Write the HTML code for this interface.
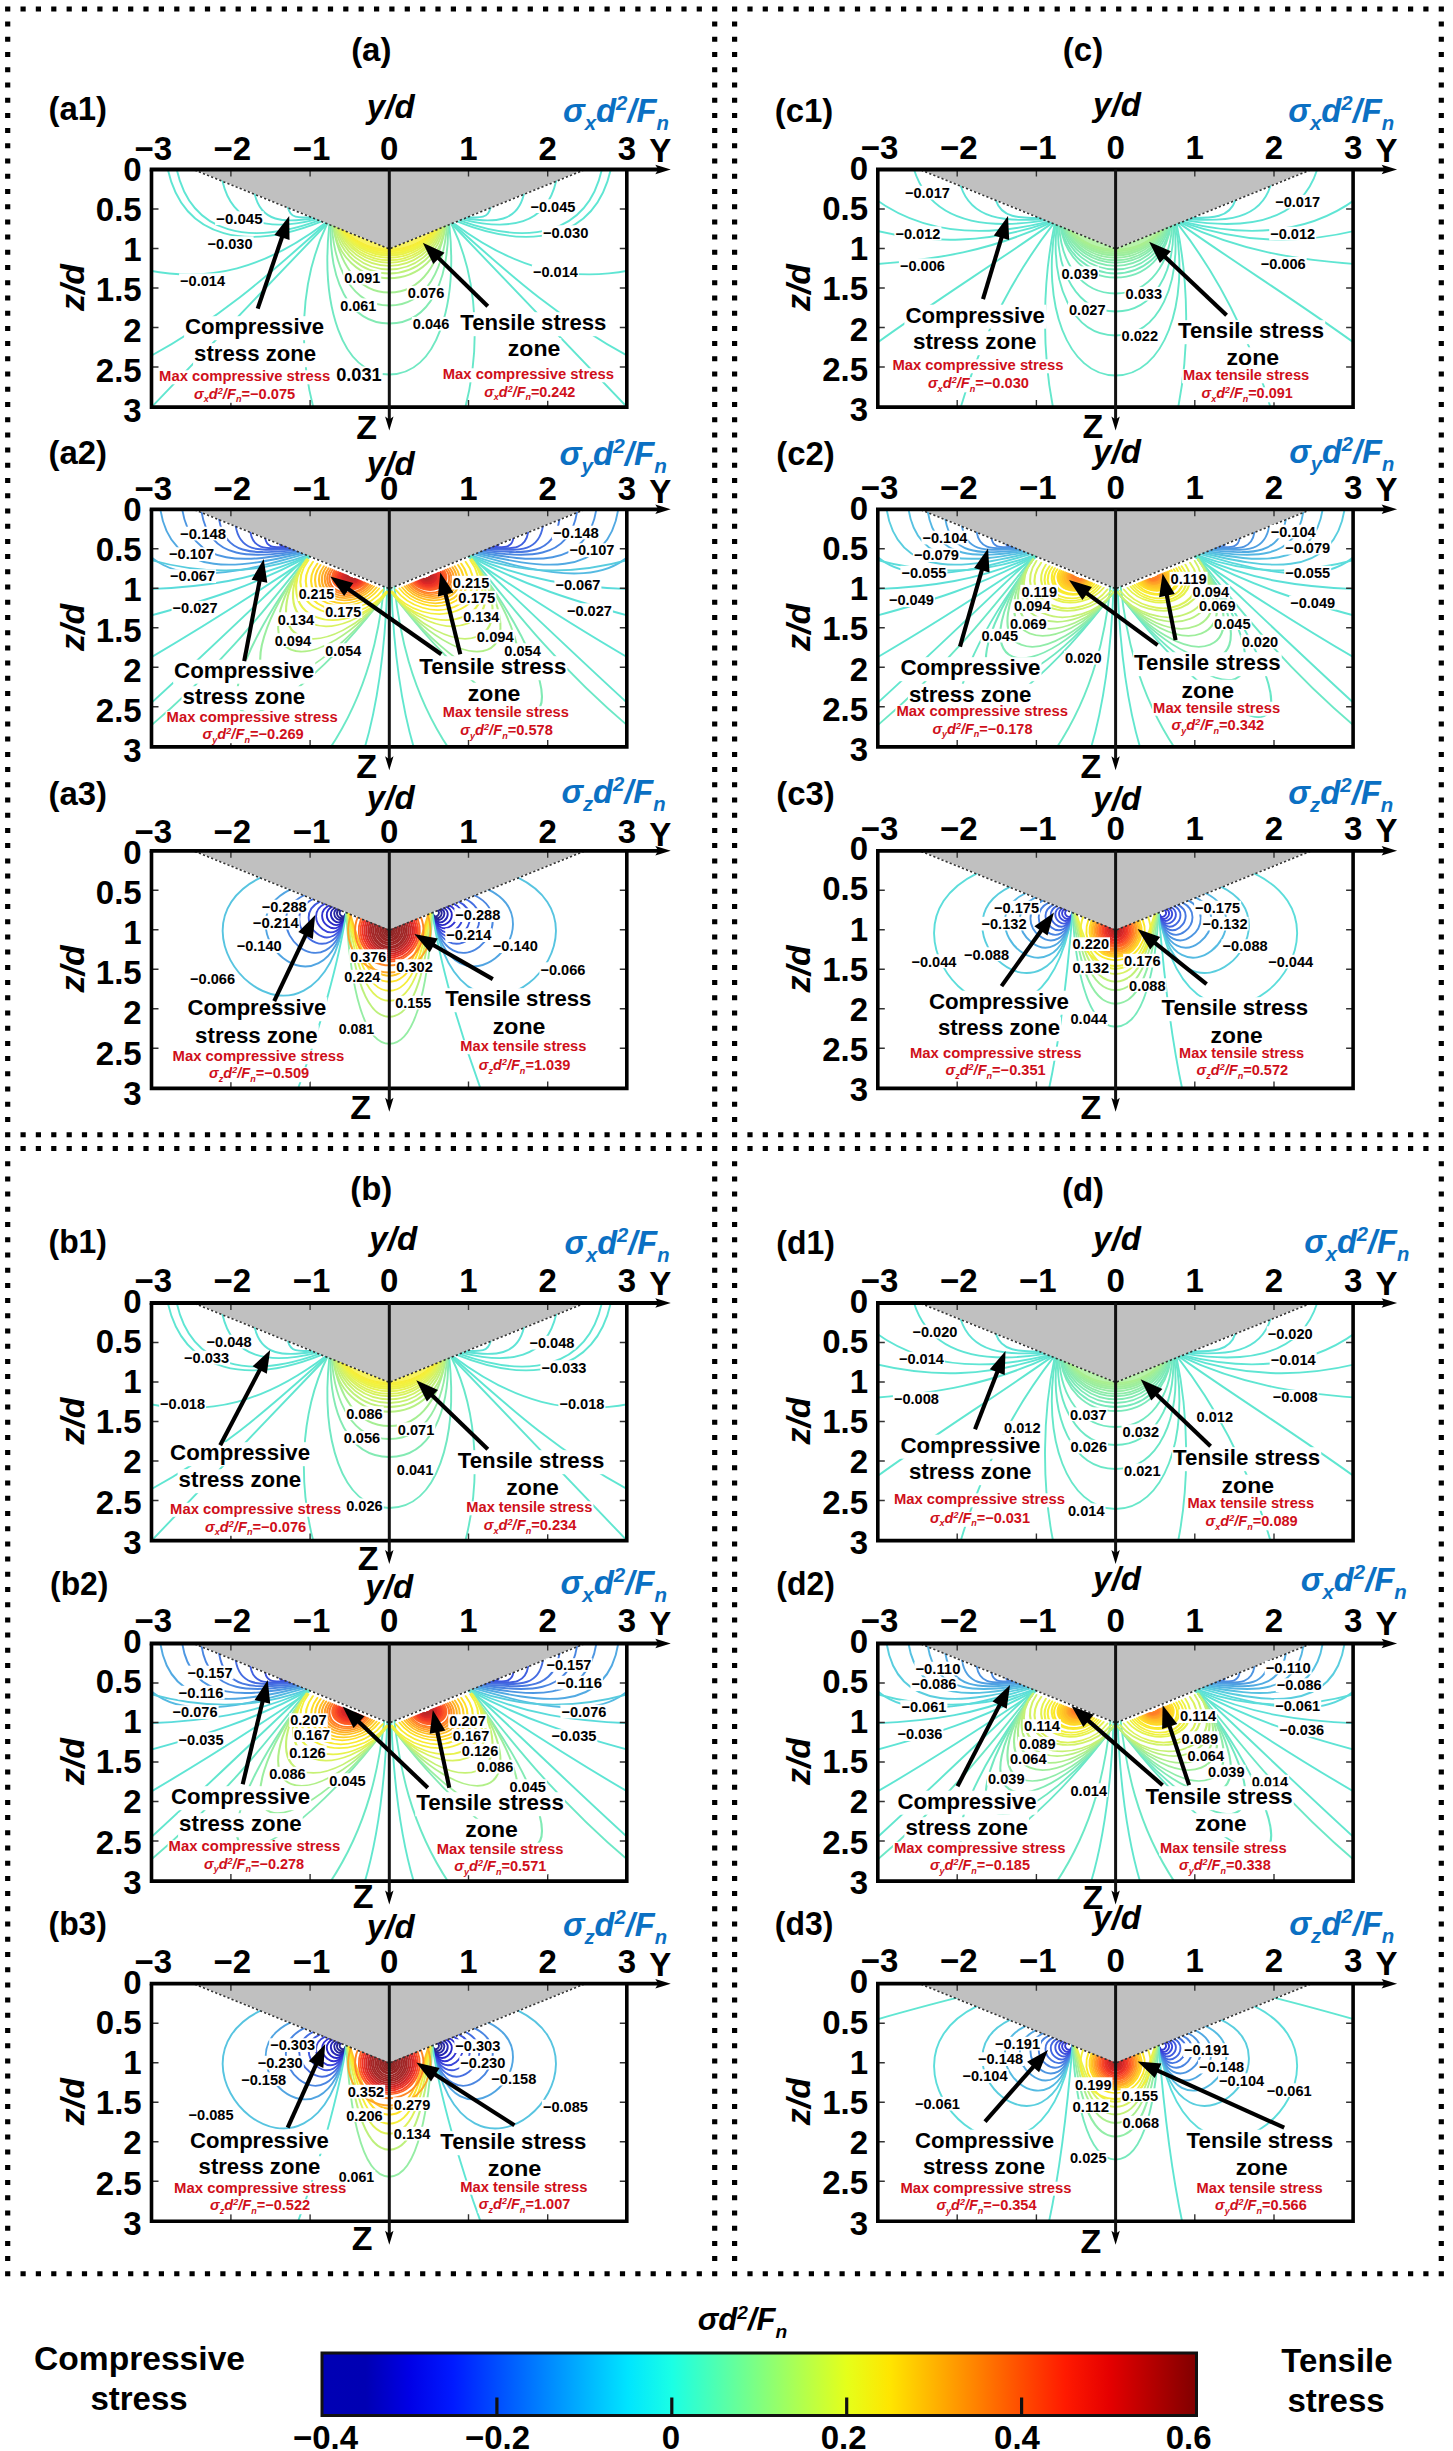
<!DOCTYPE html>
<html><head><meta charset="utf-8"><title>Stress contours</title>
<style>html,body{margin:0;padding:0;background:#fff}svg{display:block}text{font-family:"Liberation Sans",sans-serif;font-weight:bold}</style></head><body>
<svg width="1453" height="2451" viewBox="0 0 1453 2451">
<rect width="1453" height="2451" fill="#fff"/>
<defs><filter id="soft" x="-5%" y="-5%" width="110%" height="110%"><feGaussianBlur stdDeviation="0.55"/></filter><clipPath id="clipP"><rect x="-237.8" y="0" width="475.3" height="237.6"/></clipPath></defs>
<defs><g id="k1ab"><g fill="none" stroke-linecap="round" opacity="0.85"><path d="M-50,59L0,78.8L50,59A60.1,60.1 0 0 1 -50,59z" fill="#f4ec16" stroke="none" opacity="0.8"/><path d="M-78,47.7C-90.1,48.3 -98.8,49.2 -101.3,38.2M78,47.7C90.1,48.3 98.8,49.2 101.3,38.2" stroke="#41ddd0" stroke-width="1.9"/><path d="M-75.4,48.8C-105.7,53.6 -128.2,52.6 -134.6,24.5M75.4,48.8C105.7,53.6 128.2,52.6 134.6,24.5" stroke="#42dfcf" stroke-width="1.9"/><path d="M-72.8,49.8C-120.1,61.6 -156.8,55.9 -166.9,11.3M72.8,49.8C120.1,61.6 156.8,55.9 166.9,11.3" stroke="#42e0cd" stroke-width="1.9"/><path d="M-70.2,50.9C-138.4,75.7 -197.5,66.4 -212.6,0M70.2,50.9C138.4,75.7 197.5,66.4 212.6,0M-64,53.4C-123.7,98.4 -179.2,114 -245,100M64,53.4C123.7,98.4 179.2,114 245,100" stroke="#43e1cc" stroke-width="1.9"/><path d="M-67.6,51.9C-139.9,81.1 -205.3,71.3 -221.5,0M67.6,51.9C139.9,81.1 205.3,71.3 221.5,0" stroke="#43e1cb" stroke-width="1.9"/><path d="M-63,53.8C-123.8,108.5 -172.7,151.6 -245,190M63,53.8C123.8,108.5 172.7,151.6 245,190" stroke="#44e2ca" stroke-width="1.9"/><path d="M-62,54L-240,240M62,54L240,240" stroke="#45e2c8" stroke-width="1.9"/><path d="M-62,54C-119.7,172.4 -60,340 0,340C60,340 119.7,172.4 62,54" stroke="#4de3c0" stroke-width="1.9"/><path d="M-60,55C-68.4,135.3 -48,205 0,205C48,205 68.4,135.3 60,55" stroke="#57e4b8" stroke-width="1.9"/><path d="M-58.8,55.5C-59.7,108.2 -42,154 0,154C42,154 59.7,108.2 58.8,55.5" stroke="#6de7a6" stroke-width="1.9"/><path d="M-57.6,56C-54.7,97.3 -38,136 0,136C38,136 54.7,97.3 57.6,56" stroke="#83ea95" stroke-width="1.9"/><path d="M-56.4,56.5C-50.3,90.8 -34,123 0,123C34,123 50.3,90.8 56.4,56.5" stroke="#97ec81" stroke-width="1.9"/><path d="M-55,57A55.1,55.1 0 0 0 55,57" stroke="#abee6d" stroke-width="1.9"/><path d="M-54,57.4A54.6,54.6 0 0 0 54,57.4" stroke="#b5ef63" stroke-width="1.9"/><path d="M-53,57.8A54.4,54.4 0 0 0 53,57.8" stroke="#beef5a" stroke-width="1.9"/><path d="M-52,58.2A54.5,54.5 0 0 0 52,58.2" stroke="#c7ef51" stroke-width="1.9"/><path d="M-51,58.6A54.9,54.9 0 0 0 51,58.6" stroke="#d1f047" stroke-width="1.9"/><path d="M-50,59A55.2,55.2 0 0 0 50,59" stroke="#d8f03e" stroke-width="1.9"/><path d="M-49,59.4A56,56 0 0 0 49,59.4" stroke="#dff034" stroke-width="1.9"/><path d="M-48,59.9A57.1,57.1 0 0 0 48,59.9" stroke="#e6f02b" stroke-width="1.9"/><path d="M-47,60.3A58.7,58.7 0 0 0 47,60.3" stroke="#edf021" stroke-width="1.9"/><path d="M-46,60.7A60.6,60.6 0 0 0 46,60.7" stroke="#f2ee1a" stroke-width="1.9"/><path d="M-45,61.1A62.9,62.9 0 0 0 45,61.1" stroke="#f5eb14" stroke-width="1.9"/></g></g><g id="k1cd"><g fill="none" stroke-linecap="round" opacity="0.85"><path d="M-50,59L0,78.8L50,59A60.1,60.1 0 0 1 -50,59z" fill="#96ec82" stroke="none" opacity="0.8"/><path d="M-76,48.5C-95.9,48.5 -114.1,48.6 -119.8,30.6M76,48.5C95.9,48.5 114.1,48.6 119.8,30.6" stroke="#41ded0" stroke-width="1.9"/><path d="M-73,49.7C-110.1,52.3 -144.2,50 -154.9,16.2M73,49.7C110.1,52.3 144.2,50 154.9,16.2" stroke="#42dfcf" stroke-width="1.9"/><path d="M-70,50.9C-128.5,60.2 -184.6,53.8 -201.6,0M70,50.9C128.5,60.2 184.6,53.8 201.6,0" stroke="#42e0cd" stroke-width="1.9"/><path d="M-67,52.2C-129.8,67.8 -194,65.9 -245,26M67,52.2C129.8,67.8 194,65.9 245,26" stroke="#43e1cd" stroke-width="1.9"/><path d="M-65.8,52.6C-126.8,73.7 -182.4,75.6 -245,60M65.8,52.6C126.8,73.7 182.4,75.6 245,60" stroke="#43e1cc" stroke-width="1.9"/><path d="M-64.6,53.1C-125,81.3 -178.5,90.3 -245,95M64.6,53.1C125,81.3 178.5,90.3 245,95" stroke="#43e1ca" stroke-width="1.9"/><path d="M-63.4,53.6C-128.3,99.1 -180.9,131.4 -245,178M63.4,53.6C128.3,99.1 180.9,131.4 245,178" stroke="#44e2c8" stroke-width="1.9"/><path d="M-62,54.2C-109.2,114.7 -139.4,183.5 -157,245M62,54.2C109.2,114.7 139.4,183.5 157,245" stroke="#47e2c6" stroke-width="1.9"/><path d="M-61,54.6C-85.6,170.5 -62,330 0,330C62,330 85.6,170.5 61,54.6" stroke="#4ae3c3" stroke-width="1.9"/><path d="M-60,55C-74.1,135 -48,206 0,206C48,206 74.1,135 60,55" stroke="#4de3c0" stroke-width="1.9"/><path d="M-58.8,55.5C-65,114 -44,166 0,166C44,166 65,114 58.8,55.5" stroke="#50e3bd" stroke-width="1.9"/><path d="M-57.6,56C-59.2,101.5 -39,142 0,142C39,142 59.2,101.5 57.6,56" stroke="#53e4bb" stroke-width="1.9"/><path d="M-56.4,56.5C-54.5,92.5 -35,124 0,124C35,124 54.5,92.5 56.4,56.5" stroke="#5ae5b6" stroke-width="1.9"/><path d="M-55.2,56.9C-50.7,85.2 -31,108 0,108C31,108 50.7,85.2 55.2,56.9" stroke="#63e6af" stroke-width="1.9"/><path d="M-54,57.4A54.6,54.6 0 0 0 54,57.4" stroke="#60e5b0" stroke-width="1.9"/><path d="M-53,57.8A54.4,54.4 0 0 0 53,57.8" stroke="#67e6ab" stroke-width="1.9"/><path d="M-52,58.2A54.5,54.5 0 0 0 52,58.2" stroke="#6ee7a5" stroke-width="1.9"/><path d="M-51,58.6A54.9,54.9 0 0 0 51,58.6" stroke="#75e8a0" stroke-width="1.9"/><path d="M-50,59A55.2,55.2 0 0 0 50,59" stroke="#7ce99b" stroke-width="1.9"/><path d="M-49,59.4A56,56 0 0 0 49,59.4" stroke="#83ea95" stroke-width="1.9"/><path d="M-48,59.9A57.1,57.1 0 0 0 48,59.9" stroke="#89eb8f" stroke-width="1.9"/><path d="M-47,60.3A58.7,58.7 0 0 0 47,60.3" stroke="#90eb89" stroke-width="1.9"/><path d="M-46,60.7A60.6,60.6 0 0 0 46,60.7" stroke="#96ec82" stroke-width="1.9"/><path d="M-45,61.1A62.9,62.9 0 0 0 45,61.1" stroke="#9ced7c" stroke-width="1.9"/></g></g><g id="k2ab"><g fill="none" stroke-linecap="round" opacity="0.85"><path d="M-104,37.2C-106.3,36.8 -108.9,37.8 -109.4,34.9M104,37.2C106.3,36.8 108.9,37.8 109.4,34.9" stroke="#1729d5" stroke-width="1.9"/><path d="M-101.6,38.1C-111.3,36.9 -122.2,40.9 -124.1,28.9M101.6,38.1C111.3,36.9 122.2,40.9 124.1,28.9" stroke="#1b35d8" stroke-width="1.9"/><path d="M-99.2,39.1C-116.3,37.9 -135.5,44 -138.9,22.8M99.2,39.1C116.3,37.9 135.5,44 138.9,22.8" stroke="#1f43da" stroke-width="1.9"/><path d="M-96.8,40.1C-121.4,39.7 -148.7,47.1 -153.6,16.8M96.8,40.1C121.4,39.7 148.7,47.1 153.6,16.8" stroke="#2452dc" stroke-width="1.9"/><path d="M-94.4,41.1C-127.1,42.8 -163.7,50.4 -170.2,10M94.4,41.1C127.1,42.8 163.7,50.4 170.2,10" stroke="#2862dc" stroke-width="1.9"/><path d="M-92,42C-133.1,47.1 -179.5,53.8 -187.7,2.8M92,42C133.1,47.1 179.5,53.8 187.7,2.8" stroke="#2c72dc" stroke-width="1.9"/><path d="M-89.6,43C-138.9,51.7 -197.1,61.8 -207.1,0M89.6,43C138.9,51.7 197.1,61.8 207.1,0" stroke="#3085dd" stroke-width="1.9"/><path d="M-87.2,44C-145.1,57.3 -217.2,73.3 -229,0M87.2,44C145.1,57.3 217.2,73.3 229,0" stroke="#349add" stroke-width="1.9"/><path d="M-84.8,44.9C-155.1,65.1 -247.4,90.2 -262,0M84.8,44.9C155.1,65.1 247.4,90.2 262,0" stroke="#38aedd" stroke-width="1.9"/><path d="M-82,46.1C-137.2,66.2 -188.6,65.2 -245,49M82,46.1C137.2,66.2 188.6,65.2 245,49" stroke="#3bc3d9" stroke-width="1.9"/><path d="M-81,46.5C-136.1,71 -184.8,77.9 -245,80M81,46.5C136.1,71 184.8,77.9 245,80" stroke="#3ed5d5" stroke-width="1.9"/><path d="M-80,46.9C-135.9,76.6 -183.8,91.6 -245,108M80,46.9C135.9,76.6 183.8,91.6 245,108" stroke="#41dcd1" stroke-width="1.9"/><path d="M-79,47.3C-137.6,86.8 -183.8,116.7 -245,152M79,47.3C137.6,86.8 183.8,116.7 245,152" stroke="#43e1cd" stroke-width="1.9"/><path d="M-81,46C-130,92 -190,150 -245,200M81,46C130,92 190,150 245,200M-2,78C-4,130 -10,190 -25,240M2,78C4,130 10,190 25,240" stroke="#47e2c6" stroke-width="1.9"/><path d="M-81,46C-120,95 -170,160 -245,222M81,46C120,95 170,160 245,222M-5,77C-10,120 -20,180 -60,240M5,77C10,120 20,180 60,240" stroke="#52e4bc" stroke-width="1.9"/><g transform="matrix(0.9278,0.3730,-0.6235,0.8271,-38.0,68.0)"><path d="M-18.3,0A16.8,15.5 0 0 0 15.2,0z" fill="#ff5100" stroke="none" opacity="0.75"/><path d="M-16.4,0A15,13.7 0 0 0 13.7,0z" fill="#fd3e00" stroke="none" opacity="0.75"/><path d="M-14.5,0A13.3,11.9 0 0 0 12.1,0z" fill="#f72d00" stroke="none" opacity="0.75"/><path d="M-12.8,0A11.8,10.3 0 0 0 10.8,0z" fill="#f21c00" stroke="none" opacity="0.75"/><path d="M-11.5,0A10.6,9 0 0 0 9.7,0z" fill="#eb1100" stroke="none" opacity="0.75"/><path d="M-10.1,0A9.3,7.7 0 0 0 8.5,0z" fill="#e10c00" stroke="none" opacity="0.75"/><path d="M-8.7,0A8,6.4 0 0 0 7.4,0z" fill="#d60700" stroke="none" opacity="0.75"/><path d="M-7.3,0A6.8,5 0 0 0 6.3,0z" fill="#cc0200" stroke="none" opacity="0.75"/><path d="M-6.1,0A5.7,3.9 0 0 0 5.3,0z" fill="#c20000" stroke="none" opacity="0.75"/><path d="M-4.9,0A4.6,2.8 0 0 0 4.4,0z" fill="#b80000" stroke="none" opacity="0.75"/><path d="M-3.8,0A3.6,1.7 0 0 0 3.4,0z" fill="#ae0000" stroke="none" opacity="0.75"/><path d="M-48,0A43.5,165 0 0 0 39,0" stroke="#6ce7a8" stroke-width="1.9"/><path d="M-48,0A43.5,123.4 0 0 0 39,0" stroke="#89eb8f" stroke-width="1.9"/><path d="M-48,0A43.5,89.7 0 0 0 39,0" stroke="#a4ed74" stroke-width="1.9"/><path d="M-48,0A43.5,73.6 0 0 0 39,0" stroke="#bcef5c" stroke-width="1.9"/><path d="M-48,0A43.5,57.9 0 0 0 39,0" stroke="#d3f045" stroke-width="1.9"/><path d="M-48,0A43.5,50 0 0 0 39,0" stroke="#e4f02d" stroke-width="1.9"/><path d="M-46.2,0A42,42.1 0 0 0 37.8,0" stroke="#f3ed19" stroke-width="1.9"/><path d="M-41.4,0A37.6,37.5 0 0 0 33.9,0" stroke="#fae60a" stroke-width="1.9"/><path d="M-36.6,0A33.3,32.9 0 0 0 30,0" stroke="#ffda00" stroke-width="1.9"/><path d="M-33.1,0A30.1,29.6 0 0 0 27.2,0" stroke="#ffc800" stroke-width="1.9"/><path d="M-29.6,0A27,26.3 0 0 0 24.4,0" stroke="#ffb600" stroke-width="1.9"/><path d="M-27,0A24.6,23.8 0 0 0 22.2,0" stroke="#ffa200" stroke-width="1.9"/><path d="M-24.4,0A22.3,21.4 0 0 0 20.2,0" stroke="#ff8d00" stroke-width="1.9"/><path d="M-22.2,0A20.2,19.2 0 0 0 18.3,0" stroke="#ff7900" stroke-width="1.9"/><path d="M-20.2,0A18.5,17.4 0 0 0 16.8,0" stroke="#ff6500" stroke-width="1.9"/><path d="M-18.3,0A16.8,15.5 0 0 0 15.2,0" stroke="#ff5100" stroke-width="1.9"/><path d="M-16.4,0A15,13.7 0 0 0 13.7,0" stroke="#fd3e00" stroke-width="1.9"/><path d="M-14.5,0A13.3,11.9 0 0 0 12.1,0" stroke="#f72d00" stroke-width="1.9"/><path d="M-12.8,0A11.8,10.3 0 0 0 10.8,0" stroke="#f21c00" stroke-width="1.9"/><path d="M-11.5,0A10.6,9 0 0 0 9.7,0" stroke="#eb1100" stroke-width="1.9"/><path d="M-10.1,0A9.3,7.7 0 0 0 8.5,0" stroke="#e10c00" stroke-width="1.9"/><path d="M-8.7,0A8,6.4 0 0 0 7.4,0" stroke="#d60700" stroke-width="1.9"/><path d="M-7.3,0A6.8,5 0 0 0 6.3,0" stroke="#cc0200" stroke-width="1.9"/><path d="M-6.1,0A5.7,3.9 0 0 0 5.3,0" stroke="#c20000" stroke-width="1.9"/><path d="M-4.9,0A4.6,2.8 0 0 0 4.4,0" stroke="#b80000" stroke-width="1.9"/><path d="M-3.8,0A3.6,1.7 0 0 0 3.4,0" stroke="#ae0000" stroke-width="1.9"/></g><g transform="scale(-1,1) matrix(0.9278,0.3730,-0.6235,0.8271,-38.0,68.0)"><path d="M-18.3,0A16.8,15.5 0 0 0 15.2,0z" fill="#ff5100" stroke="none" opacity="0.75"/><path d="M-16.4,0A15,13.7 0 0 0 13.7,0z" fill="#fd3e00" stroke="none" opacity="0.75"/><path d="M-14.5,0A13.3,11.9 0 0 0 12.1,0z" fill="#f72d00" stroke="none" opacity="0.75"/><path d="M-12.8,0A11.8,10.3 0 0 0 10.8,0z" fill="#f21c00" stroke="none" opacity="0.75"/><path d="M-11.5,0A10.6,9 0 0 0 9.7,0z" fill="#eb1100" stroke="none" opacity="0.75"/><path d="M-10.1,0A9.3,7.7 0 0 0 8.5,0z" fill="#e10c00" stroke="none" opacity="0.75"/><path d="M-8.7,0A8,6.4 0 0 0 7.4,0z" fill="#d60700" stroke="none" opacity="0.75"/><path d="M-7.3,0A6.8,5 0 0 0 6.3,0z" fill="#cc0200" stroke="none" opacity="0.75"/><path d="M-6.1,0A5.7,3.9 0 0 0 5.3,0z" fill="#c20000" stroke="none" opacity="0.75"/><path d="M-4.9,0A4.6,2.8 0 0 0 4.4,0z" fill="#b80000" stroke="none" opacity="0.75"/><path d="M-3.8,0A3.6,1.7 0 0 0 3.4,0z" fill="#ae0000" stroke="none" opacity="0.75"/><path d="M-48,0A43.5,165 0 0 0 39,0" stroke="#6ce7a8" stroke-width="1.9"/><path d="M-48,0A43.5,123.4 0 0 0 39,0" stroke="#89eb8f" stroke-width="1.9"/><path d="M-48,0A43.5,89.7 0 0 0 39,0" stroke="#a4ed74" stroke-width="1.9"/><path d="M-48,0A43.5,73.6 0 0 0 39,0" stroke="#bcef5c" stroke-width="1.9"/><path d="M-48,0A43.5,57.9 0 0 0 39,0" stroke="#d3f045" stroke-width="1.9"/><path d="M-48,0A43.5,50 0 0 0 39,0" stroke="#e4f02d" stroke-width="1.9"/><path d="M-46.2,0A42,42.1 0 0 0 37.8,0" stroke="#f3ed19" stroke-width="1.9"/><path d="M-41.4,0A37.6,37.5 0 0 0 33.9,0" stroke="#fae60a" stroke-width="1.9"/><path d="M-36.6,0A33.3,32.9 0 0 0 30,0" stroke="#ffda00" stroke-width="1.9"/><path d="M-33.1,0A30.1,29.6 0 0 0 27.2,0" stroke="#ffc800" stroke-width="1.9"/><path d="M-29.6,0A27,26.3 0 0 0 24.4,0" stroke="#ffb600" stroke-width="1.9"/><path d="M-27,0A24.6,23.8 0 0 0 22.2,0" stroke="#ffa200" stroke-width="1.9"/><path d="M-24.4,0A22.3,21.4 0 0 0 20.2,0" stroke="#ff8d00" stroke-width="1.9"/><path d="M-22.2,0A20.2,19.2 0 0 0 18.3,0" stroke="#ff7900" stroke-width="1.9"/><path d="M-20.2,0A18.5,17.4 0 0 0 16.8,0" stroke="#ff6500" stroke-width="1.9"/><path d="M-18.3,0A16.8,15.5 0 0 0 15.2,0" stroke="#ff5100" stroke-width="1.9"/><path d="M-16.4,0A15,13.7 0 0 0 13.7,0" stroke="#fd3e00" stroke-width="1.9"/><path d="M-14.5,0A13.3,11.9 0 0 0 12.1,0" stroke="#f72d00" stroke-width="1.9"/><path d="M-12.8,0A11.8,10.3 0 0 0 10.8,0" stroke="#f21c00" stroke-width="1.9"/><path d="M-11.5,0A10.6,9 0 0 0 9.7,0" stroke="#eb1100" stroke-width="1.9"/><path d="M-10.1,0A9.3,7.7 0 0 0 8.5,0" stroke="#e10c00" stroke-width="1.9"/><path d="M-8.7,0A8,6.4 0 0 0 7.4,0" stroke="#d60700" stroke-width="1.9"/><path d="M-7.3,0A6.8,5 0 0 0 6.3,0" stroke="#cc0200" stroke-width="1.9"/><path d="M-6.1,0A5.7,3.9 0 0 0 5.3,0" stroke="#c20000" stroke-width="1.9"/><path d="M-4.9,0A4.6,2.8 0 0 0 4.4,0" stroke="#b80000" stroke-width="1.9"/><path d="M-3.8,0A3.6,1.7 0 0 0 3.4,0" stroke="#ae0000" stroke-width="1.9"/></g></g></g><g id="k2cd"><g fill="none" stroke-linecap="round" opacity="0.85"><path d="M-104,37.2C-106.3,36.8 -108.9,37.8 -109.4,34.9M104,37.2C106.3,36.8 108.9,37.8 109.4,34.9" stroke="#2a6cdc" stroke-width="1.9"/><path d="M-101.6,38.1C-111.3,36.9 -122.2,40.9 -124.1,28.9M101.6,38.1C111.3,36.9 122.2,40.9 124.1,28.9" stroke="#2d76dc" stroke-width="1.9"/><path d="M-99.2,39.1C-116.3,37.9 -135.5,44 -138.9,22.8M99.2,39.1C116.3,37.9 135.5,44 138.9,22.8" stroke="#2f82dc" stroke-width="1.9"/><path d="M-96.8,40.1C-121.4,39.7 -148.7,47.1 -153.6,16.8M96.8,40.1C121.4,39.7 148.7,47.1 153.6,16.8" stroke="#3290dd" stroke-width="1.9"/><path d="M-94.4,41.1C-127.1,42.8 -163.7,50.4 -170.2,10M94.4,41.1C127.1,42.8 163.7,50.4 170.2,10" stroke="#349ddd" stroke-width="1.9"/><path d="M-92,42C-133.1,47.1 -179.5,53.8 -187.7,2.8M92,42C133.1,47.1 179.5,53.8 187.7,2.8" stroke="#37aade" stroke-width="1.9"/><path d="M-89.6,43C-138.9,51.7 -197.1,61.8 -207.1,0M89.6,43C138.9,51.7 197.1,61.8 207.1,0" stroke="#39b7dc" stroke-width="1.9"/><path d="M-87.2,44C-145.1,57.3 -217.2,73.3 -229,0M87.2,44C145.1,57.3 217.2,73.3 229,0" stroke="#3cc5d9" stroke-width="1.9"/><path d="M-84.8,44.9C-155.1,65.1 -247.4,90.2 -262,0M84.8,44.9C155.1,65.1 247.4,90.2 262,0" stroke="#3ed2d6" stroke-width="1.9"/><path d="M-82,46.1C-137.2,66.2 -188.6,65.2 -245,49M82,46.1C137.2,66.2 188.6,65.2 245,49" stroke="#3fd7d4" stroke-width="1.9"/><path d="M-81,46.5C-136.1,71 -184.8,77.9 -245,80M81,46.5C136.1,71 184.8,77.9 245,80" stroke="#40dbd1" stroke-width="1.9"/><path d="M-80,46.9C-135.9,76.6 -183.8,91.6 -245,108M80,46.9C135.9,76.6 183.8,91.6 245,108" stroke="#42dfce" stroke-width="1.9"/><path d="M-79,47.3C-137.6,86.8 -183.8,116.7 -245,152M79,47.3C137.6,86.8 183.8,116.7 245,152" stroke="#43e1cb" stroke-width="1.9"/><path d="M-81,46C-130,92 -190,150 -245,200M81,46C130,92 190,150 245,200M-2,78C-4,130 -10,190 -25,240M2,78C4,130 10,190 25,240" stroke="#47e2c6" stroke-width="1.9"/><path d="M-81,46C-120,95 -170,160 -245,222M81,46C120,95 170,160 245,222M-5,77C-10,120 -20,180 -60,240M5,77C10,120 20,180 60,240" stroke="#52e4bc" stroke-width="1.9"/><g transform="matrix(0.9278,0.3730,-0.6235,0.8271,-38.0,68.0)"><path d="M-17.4,0A15.9,14.6 0 0 0 14.5,0z" fill="#ffd200" stroke="none" opacity="0.75"/><path d="M-15.6,0A14.3,12.9 0 0 0 13,0z" fill="#ffc700" stroke="none" opacity="0.75"/><path d="M-13.8,0A12.6,11.2 0 0 0 11.5,0z" fill="#ffbc00" stroke="none" opacity="0.75"/><path d="M-12.1,0A11.1,9.6 0 0 0 10.2,0z" fill="#ffb000" stroke="none" opacity="0.75"/><path d="M-10.8,0A10,8.4 0 0 0 9.1,0z" fill="#ffa400" stroke="none" opacity="0.75"/><path d="M-9.5,0A8.8,7.2 0 0 0 8.1,0z" fill="#ff9800" stroke="none" opacity="0.75"/><path d="M-8.2,0A7.6,5.9 0 0 0 7,0z" fill="#ff8b00" stroke="none" opacity="0.75"/><path d="M-6.9,0A6.5,4.7 0 0 0 6,0z" fill="#ff7f00" stroke="none" opacity="0.75"/><path d="M-5.7,0A5.3,3.5 0 0 0 5,0z" fill="#ff7300" stroke="none" opacity="0.75"/><path d="M-4.4,0A4.1,2.3 0 0 0 3.9,0z" fill="#ff6700" stroke="none" opacity="0.75"/><path d="M-48,0A43.5,170 0 0 0 39,0" stroke="#4fe3be" stroke-width="1.9"/><path d="M-48,0A43.5,124.6 0 0 0 39,0" stroke="#58e4b6" stroke-width="1.9"/><path d="M-48,0A43.5,97.8 0 0 0 39,0" stroke="#6be7a8" stroke-width="1.9"/><path d="M-48,0A43.5,83.6 0 0 0 39,0" stroke="#7de99a" stroke-width="1.9"/><path d="M-48,0A43.5,69.9 0 0 0 39,0" stroke="#8eeb8a" stroke-width="1.9"/><path d="M-48,0A43.5,61 0 0 0 39,0" stroke="#9fed79" stroke-width="1.9"/><path d="M-48,0A43.5,52.1 0 0 0 39,0" stroke="#aeee6a" stroke-width="1.9"/><path d="M-48,0A43.5,46.2 0 0 0 39,0" stroke="#bcef5c" stroke-width="1.9"/><path d="M-44.3,0A40.3,40.3 0 0 0 36.2,0" stroke="#caf04e" stroke-width="1.9"/><path d="M-39.2,0A35.7,35.5 0 0 0 32.2,0" stroke="#d7f03f" stroke-width="1.9"/><path d="M-34.2,0A31.2,30.7 0 0 0 28.1,0" stroke="#e1f031" stroke-width="1.9"/><path d="M-30.2,0A27.5,26.8 0 0 0 24.8,0" stroke="#ecf023" stroke-width="1.9"/><path d="M-27.3,0A24.9,24.1 0 0 0 22.5,0" stroke="#f3ed18" stroke-width="1.9"/><path d="M-24.5,0A22.4,21.4 0 0 0 20.2,0" stroke="#f7e90f" stroke-width="1.9"/><path d="M-21.7,0A19.8,18.7 0 0 0 17.9,0" stroke="#fce406" stroke-width="1.9"/><path d="M-19.2,0A17.6,16.4 0 0 0 15.9,0" stroke="#ffdd00" stroke-width="1.9"/><path d="M-17.4,0A15.9,14.6 0 0 0 14.5,0" stroke="#ffd200" stroke-width="1.9"/><path d="M-15.6,0A14.3,12.9 0 0 0 13,0" stroke="#ffc700" stroke-width="1.9"/><path d="M-13.8,0A12.6,11.2 0 0 0 11.5,0" stroke="#ffbc00" stroke-width="1.9"/><path d="M-12.1,0A11.1,9.6 0 0 0 10.2,0" stroke="#ffb000" stroke-width="1.9"/><path d="M-10.8,0A10,8.4 0 0 0 9.1,0" stroke="#ffa400" stroke-width="1.9"/><path d="M-9.5,0A8.8,7.2 0 0 0 8.1,0" stroke="#ff9800" stroke-width="1.9"/><path d="M-8.2,0A7.6,5.9 0 0 0 7,0" stroke="#ff8b00" stroke-width="1.9"/><path d="M-6.9,0A6.5,4.7 0 0 0 6,0" stroke="#ff7f00" stroke-width="1.9"/><path d="M-5.7,0A5.3,3.5 0 0 0 5,0" stroke="#ff7300" stroke-width="1.9"/><path d="M-4.4,0A4.1,2.3 0 0 0 3.9,0" stroke="#ff6700" stroke-width="1.9"/></g><g transform="scale(-1,1) matrix(0.9278,0.3730,-0.6235,0.8271,-38.0,68.0)"><path d="M-17.4,0A15.9,14.6 0 0 0 14.5,0z" fill="#ffd200" stroke="none" opacity="0.75"/><path d="M-15.6,0A14.3,12.9 0 0 0 13,0z" fill="#ffc700" stroke="none" opacity="0.75"/><path d="M-13.8,0A12.6,11.2 0 0 0 11.5,0z" fill="#ffbc00" stroke="none" opacity="0.75"/><path d="M-12.1,0A11.1,9.6 0 0 0 10.2,0z" fill="#ffb000" stroke="none" opacity="0.75"/><path d="M-10.8,0A10,8.4 0 0 0 9.1,0z" fill="#ffa400" stroke="none" opacity="0.75"/><path d="M-9.5,0A8.8,7.2 0 0 0 8.1,0z" fill="#ff9800" stroke="none" opacity="0.75"/><path d="M-8.2,0A7.6,5.9 0 0 0 7,0z" fill="#ff8b00" stroke="none" opacity="0.75"/><path d="M-6.9,0A6.5,4.7 0 0 0 6,0z" fill="#ff7f00" stroke="none" opacity="0.75"/><path d="M-5.7,0A5.3,3.5 0 0 0 5,0z" fill="#ff7300" stroke="none" opacity="0.75"/><path d="M-4.4,0A4.1,2.3 0 0 0 3.9,0z" fill="#ff6700" stroke="none" opacity="0.75"/><path d="M-48,0A43.5,170 0 0 0 39,0" stroke="#4fe3be" stroke-width="1.9"/><path d="M-48,0A43.5,124.6 0 0 0 39,0" stroke="#58e4b6" stroke-width="1.9"/><path d="M-48,0A43.5,97.8 0 0 0 39,0" stroke="#6be7a8" stroke-width="1.9"/><path d="M-48,0A43.5,83.6 0 0 0 39,0" stroke="#7de99a" stroke-width="1.9"/><path d="M-48,0A43.5,69.9 0 0 0 39,0" stroke="#8eeb8a" stroke-width="1.9"/><path d="M-48,0A43.5,61 0 0 0 39,0" stroke="#9fed79" stroke-width="1.9"/><path d="M-48,0A43.5,52.1 0 0 0 39,0" stroke="#aeee6a" stroke-width="1.9"/><path d="M-48,0A43.5,46.2 0 0 0 39,0" stroke="#bcef5c" stroke-width="1.9"/><path d="M-44.3,0A40.3,40.3 0 0 0 36.2,0" stroke="#caf04e" stroke-width="1.9"/><path d="M-39.2,0A35.7,35.5 0 0 0 32.2,0" stroke="#d7f03f" stroke-width="1.9"/><path d="M-34.2,0A31.2,30.7 0 0 0 28.1,0" stroke="#e1f031" stroke-width="1.9"/><path d="M-30.2,0A27.5,26.8 0 0 0 24.8,0" stroke="#ecf023" stroke-width="1.9"/><path d="M-27.3,0A24.9,24.1 0 0 0 22.5,0" stroke="#f3ed18" stroke-width="1.9"/><path d="M-24.5,0A22.4,21.4 0 0 0 20.2,0" stroke="#f7e90f" stroke-width="1.9"/><path d="M-21.7,0A19.8,18.7 0 0 0 17.9,0" stroke="#fce406" stroke-width="1.9"/><path d="M-19.2,0A17.6,16.4 0 0 0 15.9,0" stroke="#ffdd00" stroke-width="1.9"/><path d="M-17.4,0A15.9,14.6 0 0 0 14.5,0" stroke="#ffd200" stroke-width="1.9"/><path d="M-15.6,0A14.3,12.9 0 0 0 13,0" stroke="#ffc700" stroke-width="1.9"/><path d="M-13.8,0A12.6,11.2 0 0 0 11.5,0" stroke="#ffbc00" stroke-width="1.9"/><path d="M-12.1,0A11.1,9.6 0 0 0 10.2,0" stroke="#ffb000" stroke-width="1.9"/><path d="M-10.8,0A10,8.4 0 0 0 9.1,0" stroke="#ffa400" stroke-width="1.9"/><path d="M-9.5,0A8.8,7.2 0 0 0 8.1,0" stroke="#ff9800" stroke-width="1.9"/><path d="M-8.2,0A7.6,5.9 0 0 0 7,0" stroke="#ff8b00" stroke-width="1.9"/><path d="M-6.9,0A6.5,4.7 0 0 0 6,0" stroke="#ff7f00" stroke-width="1.9"/><path d="M-5.7,0A5.3,3.5 0 0 0 5,0" stroke="#ff7300" stroke-width="1.9"/><path d="M-4.4,0A4.1,2.3 0 0 0 3.9,0" stroke="#ff6700" stroke-width="1.9"/></g></g></g><g id="k3ab"><g fill="none" stroke-linecap="round" opacity="0.85"><path d="M-43,61C-75,242.2 -240.1,81.3 -128.3,26.6M43,61C75,242.2 240.1,81.3 128.3,26.6" stroke="#3abadb" stroke-width="1.9"/><path d="M-43,61C-63.8,179.2 -171.6,74.2 -98.7,38.6M43,61C63.8,179.2 171.6,74.2 98.7,38.6" stroke="#3395dd" stroke-width="1.9"/><path d="M-43,61C-58.6,149.6 -139.4,70.9 -84.7,44.2M43,61C58.6,149.6 139.4,70.9 84.7,44.2" stroke="#2b72dc" stroke-width="1.9"/><path d="M-43,61C-55.2,129.9 -118,68.7 -75.5,47.9M43,61C55.2,129.9 118,68.7 75.5,47.9" stroke="#2454dc" stroke-width="1.9"/><path d="M-43,61C-52.7,116.1 -103,67.2 -69,50.5M43,61C52.7,116.1 103,67.2 69,50.5" stroke="#1d3ad9" stroke-width="1.9"/><path d="M-43,61C-50.8,105.3 -91.2,66 -63.9,52.6M43,61C50.8,105.3 91.2,66 63.9,52.6" stroke="#1524d3" stroke-width="1.9"/><path d="M-43,61C-49.3,96.5 -81.6,65 -59.7,54.3M43,61C49.3,96.5 81.6,65 59.7,54.3" stroke="#0d12cb" stroke-width="1.9"/><path d="M-43,61C-48,89.6 -74.1,64.2 -56.5,55.6M43,61C48,89.6 74.1,64.2 56.5,55.6" stroke="#0808bd" stroke-width="1.9"/><path d="M-43,61C-47,83.7 -67.6,63.5 -53.7,56.7M43,61C47,83.7 67.6,63.5 53.7,56.7" stroke="#0606a9" stroke-width="1.9"/><path d="M-43,61C-46.1,78.7 -62.3,63 -51.3,57.6M43,61C46.1,78.7 62.3,63 51.3,57.6" stroke="#030396" stroke-width="1.9"/><path d="M-43,61C-45.4,74.8 -58,62.5 -49.5,58.4M43,61C45.4,74.8 58,62.5 49.5,58.4M-43,61C-44.7,70.8 -53.7,62.1 -47.6,59.1M43,61C44.7,70.8 53.7,62.1 47.6,59.1" stroke="#000082" stroke-width="1.9"/><path d="M-43,61C-50,110 -70,180 -92,240M43,61C50,110 70,180 92,240" stroke="#43e1cc" stroke-width="1.9"/><path d="M-43,61.9C-40.1,117 -30,193 0,193C30,193 40.1,117 43,61.9" stroke="#83ea95" stroke-width="1.9"/><path d="M-42.2,62.2C-37.7,104.5 -28,166 0,166C28,166 37.7,104.5 42.2,62.2" stroke="#b2ee66" stroke-width="1.9"/><path d="M-41.4,62.5C-35.9,96.9 -27,150 0,150C27,150 35.9,96.9 41.4,62.5" stroke="#daf03c" stroke-width="1.9"/><path d="M-40.6,62.9C-34.4,91.8 -26,140 0,140C26,140 34.4,91.8 40.6,62.9" stroke="#f4ec16" stroke-width="1.9"/><path d="M-39.8,63.2C-33.1,88.2 -25,131 0,131C25,131 33.1,88.2 39.8,63.2" stroke="#ffdc00" stroke-width="1.9"/><path d="M-39,63.5C-31.8,85.7 -24,125 0,125C24,125 31.8,85.7 39,63.5" stroke="#ffba00" stroke-width="1.9"/><path d="M-38.2,64A41.2,42 0 1 0 38.2,64" stroke="#ff9700" stroke-width="1.9"/><path d="M-31.7,66.6A34.2,34.9 0 1 0 31.7,66.6" stroke="#ff7300" stroke-width="1.9"/><path d="M-28.3,68A30.5,31.1 0 1 0 28.3,68" stroke="#ff4e00" stroke-width="1.9"/><path d="M-26.5,68.7A28.6,29.2 0 1 0 26.5,68.7" stroke="#f82e00" stroke-width="1.9"/><path d="M-24.8,69.4A26.7,27.2 0 1 0 24.8,69.4" stroke="#ee1300" stroke-width="1.9"/><path d="M-23,70.1A24.8,25.3 0 1 0 23,70.1" stroke="#db0a00" stroke-width="1.9"/><path d="M-21.3,70.8A23,23.4 0 1 0 21.3,70.8" stroke="#c90100" stroke-width="1.9"/><path d="M-19.6,71.5A21.1,21.6 0 1 0 19.6,71.5" stroke="#b70000" stroke-width="1.9"/><path d="M-17.9,72.2A19.3,19.7 0 1 0 17.9,72.2" stroke="#a50000" stroke-width="1.9"/><path d="M-16.3,72.9A17.5,17.9 0 1 0 16.3,72.9" stroke="#950000" stroke-width="1.9"/><path d="M-14.6,73.5A15.8,16.1 0 1 0 14.6,73.5" stroke="#920000" stroke-width="1.9"/><path d="M-13,74.2A14,14.3 0 1 0 13,74.2" stroke="#900000" stroke-width="1.9"/><path d="M-11.4,74.8A12.3,12.6 0 1 0 11.4,74.8" stroke="#8d0000" stroke-width="1.9"/><path d="M-9.9,75.4A10.6,10.8 0 1 0 9.9,75.4" stroke="#8a0000" stroke-width="1.9"/><path d="M-8.3,76.1A9,9.2 0 1 0 8.3,76.1" stroke="#870000" stroke-width="1.9"/><path d="M-6.8,76.6A7.4,7.5 0 1 0 6.8,76.6" stroke="#840000" stroke-width="1.9"/><path d="M-5.4,77.2A5.8,5.9 0 1 0 5.4,77.2" stroke="#810000" stroke-width="1.9"/><path d="M-4,77.8A4.3,4.4 0 1 0 4,77.8" stroke="#7e0000" stroke-width="1.9"/><path d="M-2.7,78.3A2.9,3 0 1 0 2.7,78.3" stroke="#7b0000" stroke-width="1.9"/><path d="M-1.5,78.8A1.6,1.6 0 1 0 1.5,78.8" stroke="#780000" stroke-width="1.9"/></g></g><g id="k3cd"><g fill="none" stroke-linecap="round" opacity="0.85"><path d="M-43,61C-78.8,263.9 -263.8,83.7 -138.6,22.5M43,61C78.8,263.9 263.8,83.7 138.6,22.5" stroke="#3fd7d4" stroke-width="1.9"/><path d="M-43,61C-66.3,193.4 -187,75.8 -105.3,35.9M43,61C66.3,193.4 187,75.8 105.3,35.9" stroke="#3cc6d9" stroke-width="1.9"/><path d="M-43,61C-60.5,160.3 -151,72.1 -89.8,42.2M43,61C60.5,160.3 151,72.1 89.8,42.2" stroke="#38afdd" stroke-width="1.9"/><path d="M-43,61C-56.6,138.2 -127,69.6 -79.4,46.4M43,61C56.6,138.2 127,69.6 79.4,46.4" stroke="#3499dd" stroke-width="1.9"/><path d="M-43,61C-53.9,122.8 -110.2,67.9 -72.1,49.3M43,61C53.9,122.8 110.2,67.9 72.1,49.3" stroke="#2f83dc" stroke-width="1.9"/><path d="M-43,61C-51.8,110.6 -97,66.6 -66.4,51.6M43,61C51.8,110.6 97,66.6 66.4,51.6" stroke="#2b70dc" stroke-width="1.9"/><path d="M-43,61C-50,100.7 -86.2,65.4 -61.7,53.5M43,61C50,100.7 86.2,65.4 61.7,53.5" stroke="#275edc" stroke-width="1.9"/><path d="M-43,61C-48.6,93 -77.8,64.6 -58.1,54.9M43,61C48.6,93 77.8,64.6 58.1,54.9" stroke="#224ddc" stroke-width="1.9"/><path d="M-43,61C-47.5,86.4 -70.6,63.8 -54.9,56.2M43,61C47.5,86.4 70.6,63.8 54.9,56.2" stroke="#1e3ed9" stroke-width="1.9"/><path d="M-43,61C-46.5,80.9 -64.6,63.2 -52.4,57.2M43,61C46.5,80.9 64.6,63.2 52.4,57.2" stroke="#192ed7" stroke-width="1.9"/><path d="M-43,61C-45.7,76.4 -59.8,62.7 -50.3,58.1M43,61C45.7,76.4 59.8,62.7 50.3,58.1" stroke="#1523d3" stroke-width="1.9"/><path d="M-43,61C-44.9,72 -55,62.2 -48.2,58.9M43,61C44.9,72 55,62.2 48.2,58.9" stroke="#1018ce" stroke-width="1.9"/><path d="M-43,61C-47,110 -54,180 -67,240M43,61C47,110 54,180 67,240" stroke="#43e1ca" stroke-width="1.9"/><path d="M-43,61.9C-40.4,110.5 -30,175.9 0,175.9C30,175.9 40.4,110.5 43,61.9" stroke="#5fe5b1" stroke-width="1.9"/><path d="M-42.2,62.2C-38.2,100 -28,152.9 0,152.9C28,152.9 38.2,100 42.2,62.2" stroke="#7fea98" stroke-width="1.9"/><path d="M-41.4,62.5C-36.5,93.5 -27,139.3 0,139.3C27,139.3 36.5,93.5 41.4,62.5" stroke="#9ded7b" stroke-width="1.9"/><path d="M-40.6,62.9C-35,89.2 -26,130.8 0,130.8C26,130.8 35,89.2 40.6,62.9" stroke="#b8ef60" stroke-width="1.9"/><path d="M-39.8,63.2C-33.7,86.1 -25,123.2 0,123.2C25,123.2 33.7,86.1 39.8,63.2" stroke="#d0f048" stroke-width="1.9"/><path d="M-39,63.5C-32.4,83.9 -24,118.1 0,118.1C24,118.1 32.4,83.9 39,63.5" stroke="#e4f02e" stroke-width="1.9"/><path d="M-32.5,66.3A35,35.7 0 1 0 32.5,66.3" stroke="#f3ed18" stroke-width="1.9"/><path d="M-27,68.6A29.1,29.7 0 1 0 27,68.6" stroke="#fbe508" stroke-width="1.9"/><path d="M-24.1,69.7A26,26.5 0 1 0 24.1,69.7" stroke="#ffd700" stroke-width="1.9"/><path d="M-22.6,70.3A24.4,24.9 0 1 0 22.6,70.3" stroke="#ffc300" stroke-width="1.9"/><path d="M-21.1,70.9A22.8,23.2 0 1 0 21.1,70.9" stroke="#ffaf00" stroke-width="1.9"/><path d="M-19.6,71.5A21.2,21.6 0 1 0 19.6,71.5" stroke="#ff9900" stroke-width="1.9"/><path d="M-18.2,72.1A19.6,20 0 1 0 18.2,72.1" stroke="#ff8300" stroke-width="1.9"/><path d="M-16.7,72.7A18,18.4 0 1 0 16.7,72.7" stroke="#ff6d00" stroke-width="1.9"/><path d="M-15.3,73.2A16.5,16.8 0 1 0 15.3,73.2" stroke="#ff5700" stroke-width="1.9"/><path d="M-13.9,73.8A15,15.3 0 1 0 13.9,73.8" stroke="#fe4200" stroke-width="1.9"/><path d="M-12.5,74.4A13.5,13.7 0 1 0 12.5,74.4" stroke="#f83000" stroke-width="1.9"/><path d="M-11.1,74.9A12,12.2 0 1 0 11.1,74.9" stroke="#f31e00" stroke-width="1.9"/><path d="M-9.8,75.5A10.5,10.7 0 1 0 9.8,75.5" stroke="#eb1100" stroke-width="1.9"/><path d="M-8.4,76A9.1,9.3 0 1 0 8.4,76" stroke="#e00c00" stroke-width="1.9"/><path d="M-7.2,76.5A7.7,7.9 0 1 0 7.2,76.5" stroke="#d50700" stroke-width="1.9"/><path d="M-5.9,77A6.3,6.5 0 1 0 5.9,77" stroke="#ca0100" stroke-width="1.9"/><path d="M-4.7,77.5A5,5.1 0 1 0 4.7,77.5" stroke="#bf0000" stroke-width="1.9"/><path d="M-3.5,78A3.7,3.8 0 1 0 3.5,78" stroke="#b40000" stroke-width="1.9"/><path d="M-2.4,78.5A2.5,2.6 0 1 0 2.4,78.5" stroke="#a90000" stroke-width="1.9"/><path d="M-1.3,78.9A1.4,1.4 0 1 0 1.3,78.9" stroke="#9e0000" stroke-width="1.9"/></g></g></defs>
<path d="M5.1,6.4h5.2v5h-5.2zM20.5,6.4h5.2v5h-5.2zM35.8,6.4h5.2v5h-5.2zM51.2,6.4h5.2v5h-5.2zM66.6,6.4h5.2v5h-5.2zM81.9,6.4h5.2v5h-5.2zM97.3,6.4h5.2v5h-5.2zM112.7,6.4h5.2v5h-5.2zM128.1,6.4h5.2v5h-5.2zM143.4,6.4h5.2v5h-5.2zM158.8,6.4h5.2v5h-5.2zM174.2,6.4h5.2v5h-5.2zM189.5,6.4h5.2v5h-5.2zM204.9,6.4h5.2v5h-5.2zM220.3,6.4h5.2v5h-5.2zM235.6,6.4h5.2v5h-5.2zM251.0,6.4h5.2v5h-5.2zM266.4,6.4h5.2v5h-5.2zM281.8,6.4h5.2v5h-5.2zM297.1,6.4h5.2v5h-5.2zM312.5,6.4h5.2v5h-5.2zM327.9,6.4h5.2v5h-5.2zM343.2,6.4h5.2v5h-5.2zM358.6,6.4h5.2v5h-5.2zM374.0,6.4h5.2v5h-5.2zM389.3,6.4h5.2v5h-5.2zM404.7,6.4h5.2v5h-5.2zM420.1,6.4h5.2v5h-5.2zM435.4,6.4h5.2v5h-5.2zM450.8,6.4h5.2v5h-5.2zM466.2,6.4h5.2v5h-5.2zM481.6,6.4h5.2v5h-5.2zM496.9,6.4h5.2v5h-5.2zM512.3,6.4h5.2v5h-5.2zM527.7,6.4h5.2v5h-5.2zM543.0,6.4h5.2v5h-5.2zM558.4,6.4h5.2v5h-5.2zM573.8,6.4h5.2v5h-5.2zM589.1,6.4h5.2v5h-5.2zM604.5,6.4h5.2v5h-5.2zM619.9,6.4h5.2v5h-5.2zM635.3,6.4h5.2v5h-5.2zM650.6,6.4h5.2v5h-5.2zM666.0,6.4h5.2v5h-5.2zM681.4,6.4h5.2v5h-5.2zM696.7,6.4h5.2v5h-5.2zM712.1,6.4h5.2v5h-5.2zM5.1,1132.2h5.2v5h-5.2zM20.5,1132.2h5.2v5h-5.2zM35.8,1132.2h5.2v5h-5.2zM51.2,1132.2h5.2v5h-5.2zM66.6,1132.2h5.2v5h-5.2zM81.9,1132.2h5.2v5h-5.2zM97.3,1132.2h5.2v5h-5.2zM112.7,1132.2h5.2v5h-5.2zM128.1,1132.2h5.2v5h-5.2zM143.4,1132.2h5.2v5h-5.2zM158.8,1132.2h5.2v5h-5.2zM174.2,1132.2h5.2v5h-5.2zM189.5,1132.2h5.2v5h-5.2zM204.9,1132.2h5.2v5h-5.2zM220.3,1132.2h5.2v5h-5.2zM235.6,1132.2h5.2v5h-5.2zM251.0,1132.2h5.2v5h-5.2zM266.4,1132.2h5.2v5h-5.2zM281.8,1132.2h5.2v5h-5.2zM297.1,1132.2h5.2v5h-5.2zM312.5,1132.2h5.2v5h-5.2zM327.9,1132.2h5.2v5h-5.2zM343.2,1132.2h5.2v5h-5.2zM358.6,1132.2h5.2v5h-5.2zM374.0,1132.2h5.2v5h-5.2zM389.3,1132.2h5.2v5h-5.2zM404.7,1132.2h5.2v5h-5.2zM420.1,1132.2h5.2v5h-5.2zM435.4,1132.2h5.2v5h-5.2zM450.8,1132.2h5.2v5h-5.2zM466.2,1132.2h5.2v5h-5.2zM481.6,1132.2h5.2v5h-5.2zM496.9,1132.2h5.2v5h-5.2zM512.3,1132.2h5.2v5h-5.2zM527.7,1132.2h5.2v5h-5.2zM543.0,1132.2h5.2v5h-5.2zM558.4,1132.2h5.2v5h-5.2zM573.8,1132.2h5.2v5h-5.2zM589.1,1132.2h5.2v5h-5.2zM604.5,1132.2h5.2v5h-5.2zM619.9,1132.2h5.2v5h-5.2zM635.3,1132.2h5.2v5h-5.2zM650.6,1132.2h5.2v5h-5.2zM666.0,1132.2h5.2v5h-5.2zM681.4,1132.2h5.2v5h-5.2zM696.7,1132.2h5.2v5h-5.2zM712.1,1132.2h5.2v5h-5.2zM5.1,6.4h5.2v5h-5.2zM5.1,21.6h5.2v5h-5.2zM5.1,36.8h5.2v5h-5.2zM5.1,52.0h5.2v5h-5.2zM5.1,67.3h5.2v5h-5.2zM5.1,82.5h5.2v5h-5.2zM5.1,97.7h5.2v5h-5.2zM5.1,112.9h5.2v5h-5.2zM5.1,128.1h5.2v5h-5.2zM5.1,143.3h5.2v5h-5.2zM5.1,158.5h5.2v5h-5.2zM5.1,173.7h5.2v5h-5.2zM5.1,189.0h5.2v5h-5.2zM5.1,204.2h5.2v5h-5.2zM5.1,219.4h5.2v5h-5.2zM5.1,234.6h5.2v5h-5.2zM5.1,249.8h5.2v5h-5.2zM5.1,265.0h5.2v5h-5.2zM5.1,280.2h5.2v5h-5.2zM5.1,295.5h5.2v5h-5.2zM5.1,310.7h5.2v5h-5.2zM5.1,325.9h5.2v5h-5.2zM5.1,341.1h5.2v5h-5.2zM5.1,356.3h5.2v5h-5.2zM5.1,371.5h5.2v5h-5.2zM5.1,386.7h5.2v5h-5.2zM5.1,402.0h5.2v5h-5.2zM5.1,417.2h5.2v5h-5.2zM5.1,432.4h5.2v5h-5.2zM5.1,447.6h5.2v5h-5.2zM5.1,462.8h5.2v5h-5.2zM5.1,478.0h5.2v5h-5.2zM5.1,493.2h5.2v5h-5.2zM5.1,508.4h5.2v5h-5.2zM5.1,523.7h5.2v5h-5.2zM5.1,538.9h5.2v5h-5.2zM5.1,554.1h5.2v5h-5.2zM5.1,569.3h5.2v5h-5.2zM5.1,584.5h5.2v5h-5.2zM5.1,599.7h5.2v5h-5.2zM5.1,614.9h5.2v5h-5.2zM5.1,630.2h5.2v5h-5.2zM5.1,645.4h5.2v5h-5.2zM5.1,660.6h5.2v5h-5.2zM5.1,675.8h5.2v5h-5.2zM5.1,691.0h5.2v5h-5.2zM5.1,706.2h5.2v5h-5.2zM5.1,721.4h5.2v5h-5.2zM5.1,736.6h5.2v5h-5.2zM5.1,751.9h5.2v5h-5.2zM5.1,767.1h5.2v5h-5.2zM5.1,782.3h5.2v5h-5.2zM5.1,797.5h5.2v5h-5.2zM5.1,812.7h5.2v5h-5.2zM5.1,827.9h5.2v5h-5.2zM5.1,843.1h5.2v5h-5.2zM5.1,858.4h5.2v5h-5.2zM5.1,873.6h5.2v5h-5.2zM5.1,888.8h5.2v5h-5.2zM5.1,904.0h5.2v5h-5.2zM5.1,919.2h5.2v5h-5.2zM5.1,934.4h5.2v5h-5.2zM5.1,949.6h5.2v5h-5.2zM5.1,964.9h5.2v5h-5.2zM5.1,980.1h5.2v5h-5.2zM5.1,995.3h5.2v5h-5.2zM5.1,1010.5h5.2v5h-5.2zM5.1,1025.7h5.2v5h-5.2zM5.1,1040.9h5.2v5h-5.2zM5.1,1056.1h5.2v5h-5.2zM5.1,1071.3h5.2v5h-5.2zM5.1,1086.6h5.2v5h-5.2zM5.1,1101.8h5.2v5h-5.2zM5.1,1117.0h5.2v5h-5.2zM5.1,1132.2h5.2v5h-5.2zM712.1,6.4h5.2v5h-5.2zM712.1,21.6h5.2v5h-5.2zM712.1,36.8h5.2v5h-5.2zM712.1,52.0h5.2v5h-5.2zM712.1,67.3h5.2v5h-5.2zM712.1,82.5h5.2v5h-5.2zM712.1,97.7h5.2v5h-5.2zM712.1,112.9h5.2v5h-5.2zM712.1,128.1h5.2v5h-5.2zM712.1,143.3h5.2v5h-5.2zM712.1,158.5h5.2v5h-5.2zM712.1,173.7h5.2v5h-5.2zM712.1,189.0h5.2v5h-5.2zM712.1,204.2h5.2v5h-5.2zM712.1,219.4h5.2v5h-5.2zM712.1,234.6h5.2v5h-5.2zM712.1,249.8h5.2v5h-5.2zM712.1,265.0h5.2v5h-5.2zM712.1,280.2h5.2v5h-5.2zM712.1,295.5h5.2v5h-5.2zM712.1,310.7h5.2v5h-5.2zM712.1,325.9h5.2v5h-5.2zM712.1,341.1h5.2v5h-5.2zM712.1,356.3h5.2v5h-5.2zM712.1,371.5h5.2v5h-5.2zM712.1,386.7h5.2v5h-5.2zM712.1,402.0h5.2v5h-5.2zM712.1,417.2h5.2v5h-5.2zM712.1,432.4h5.2v5h-5.2zM712.1,447.6h5.2v5h-5.2zM712.1,462.8h5.2v5h-5.2zM712.1,478.0h5.2v5h-5.2zM712.1,493.2h5.2v5h-5.2zM712.1,508.4h5.2v5h-5.2zM712.1,523.7h5.2v5h-5.2zM712.1,538.9h5.2v5h-5.2zM712.1,554.1h5.2v5h-5.2zM712.1,569.3h5.2v5h-5.2zM712.1,584.5h5.2v5h-5.2zM712.1,599.7h5.2v5h-5.2zM712.1,614.9h5.2v5h-5.2zM712.1,630.2h5.2v5h-5.2zM712.1,645.4h5.2v5h-5.2zM712.1,660.6h5.2v5h-5.2zM712.1,675.8h5.2v5h-5.2zM712.1,691.0h5.2v5h-5.2zM712.1,706.2h5.2v5h-5.2zM712.1,721.4h5.2v5h-5.2zM712.1,736.6h5.2v5h-5.2zM712.1,751.9h5.2v5h-5.2zM712.1,767.1h5.2v5h-5.2zM712.1,782.3h5.2v5h-5.2zM712.1,797.5h5.2v5h-5.2zM712.1,812.7h5.2v5h-5.2zM712.1,827.9h5.2v5h-5.2zM712.1,843.1h5.2v5h-5.2zM712.1,858.4h5.2v5h-5.2zM712.1,873.6h5.2v5h-5.2zM712.1,888.8h5.2v5h-5.2zM712.1,904.0h5.2v5h-5.2zM712.1,919.2h5.2v5h-5.2zM712.1,934.4h5.2v5h-5.2zM712.1,949.6h5.2v5h-5.2zM712.1,964.9h5.2v5h-5.2zM712.1,980.1h5.2v5h-5.2zM712.1,995.3h5.2v5h-5.2zM712.1,1010.5h5.2v5h-5.2zM712.1,1025.7h5.2v5h-5.2zM712.1,1040.9h5.2v5h-5.2zM712.1,1056.1h5.2v5h-5.2zM712.1,1071.3h5.2v5h-5.2zM712.1,1086.6h5.2v5h-5.2zM712.1,1101.8h5.2v5h-5.2zM712.1,1117.0h5.2v5h-5.2zM712.1,1132.2h5.2v5h-5.2z" fill="#000"/>
<path d="M732.0,6.4h5.2v5h-5.2zM747.4,6.4h5.2v5h-5.2zM762.7,6.4h5.2v5h-5.2zM778.1,6.4h5.2v5h-5.2zM793.5,6.4h5.2v5h-5.2zM808.8,6.4h5.2v5h-5.2zM824.2,6.4h5.2v5h-5.2zM839.5,6.4h5.2v5h-5.2zM854.9,6.4h5.2v5h-5.2zM870.3,6.4h5.2v5h-5.2zM885.6,6.4h5.2v5h-5.2zM901.0,6.4h5.2v5h-5.2zM916.4,6.4h5.2v5h-5.2zM931.7,6.4h5.2v5h-5.2zM947.1,6.4h5.2v5h-5.2zM962.4,6.4h5.2v5h-5.2zM977.8,6.4h5.2v5h-5.2zM993.2,6.4h5.2v5h-5.2zM1008.5,6.4h5.2v5h-5.2zM1023.9,6.4h5.2v5h-5.2zM1039.3,6.4h5.2v5h-5.2zM1054.6,6.4h5.2v5h-5.2zM1070.0,6.4h5.2v5h-5.2zM1085.4,6.4h5.2v5h-5.2zM1100.7,6.4h5.2v5h-5.2zM1116.1,6.4h5.2v5h-5.2zM1131.4,6.4h5.2v5h-5.2zM1146.8,6.4h5.2v5h-5.2zM1162.2,6.4h5.2v5h-5.2zM1177.5,6.4h5.2v5h-5.2zM1192.9,6.4h5.2v5h-5.2zM1208.3,6.4h5.2v5h-5.2zM1223.6,6.4h5.2v5h-5.2zM1239.0,6.4h5.2v5h-5.2zM1254.3,6.4h5.2v5h-5.2zM1269.7,6.4h5.2v5h-5.2zM1285.1,6.4h5.2v5h-5.2zM1300.4,6.4h5.2v5h-5.2zM1315.8,6.4h5.2v5h-5.2zM1331.2,6.4h5.2v5h-5.2zM1346.5,6.4h5.2v5h-5.2zM1361.9,6.4h5.2v5h-5.2zM1377.2,6.4h5.2v5h-5.2zM1392.6,6.4h5.2v5h-5.2zM1408.0,6.4h5.2v5h-5.2zM1423.3,6.4h5.2v5h-5.2zM1438.7,6.4h5.2v5h-5.2zM732.0,1132.2h5.2v5h-5.2zM747.4,1132.2h5.2v5h-5.2zM762.7,1132.2h5.2v5h-5.2zM778.1,1132.2h5.2v5h-5.2zM793.5,1132.2h5.2v5h-5.2zM808.8,1132.2h5.2v5h-5.2zM824.2,1132.2h5.2v5h-5.2zM839.5,1132.2h5.2v5h-5.2zM854.9,1132.2h5.2v5h-5.2zM870.3,1132.2h5.2v5h-5.2zM885.6,1132.2h5.2v5h-5.2zM901.0,1132.2h5.2v5h-5.2zM916.4,1132.2h5.2v5h-5.2zM931.7,1132.2h5.2v5h-5.2zM947.1,1132.2h5.2v5h-5.2zM962.4,1132.2h5.2v5h-5.2zM977.8,1132.2h5.2v5h-5.2zM993.2,1132.2h5.2v5h-5.2zM1008.5,1132.2h5.2v5h-5.2zM1023.9,1132.2h5.2v5h-5.2zM1039.3,1132.2h5.2v5h-5.2zM1054.6,1132.2h5.2v5h-5.2zM1070.0,1132.2h5.2v5h-5.2zM1085.4,1132.2h5.2v5h-5.2zM1100.7,1132.2h5.2v5h-5.2zM1116.1,1132.2h5.2v5h-5.2zM1131.4,1132.2h5.2v5h-5.2zM1146.8,1132.2h5.2v5h-5.2zM1162.2,1132.2h5.2v5h-5.2zM1177.5,1132.2h5.2v5h-5.2zM1192.9,1132.2h5.2v5h-5.2zM1208.3,1132.2h5.2v5h-5.2zM1223.6,1132.2h5.2v5h-5.2zM1239.0,1132.2h5.2v5h-5.2zM1254.3,1132.2h5.2v5h-5.2zM1269.7,1132.2h5.2v5h-5.2zM1285.1,1132.2h5.2v5h-5.2zM1300.4,1132.2h5.2v5h-5.2zM1315.8,1132.2h5.2v5h-5.2zM1331.2,1132.2h5.2v5h-5.2zM1346.5,1132.2h5.2v5h-5.2zM1361.9,1132.2h5.2v5h-5.2zM1377.2,1132.2h5.2v5h-5.2zM1392.6,1132.2h5.2v5h-5.2zM1408.0,1132.2h5.2v5h-5.2zM1423.3,1132.2h5.2v5h-5.2zM1438.7,1132.2h5.2v5h-5.2zM732.0,6.4h5.2v5h-5.2zM732.0,21.6h5.2v5h-5.2zM732.0,36.8h5.2v5h-5.2zM732.0,52.0h5.2v5h-5.2zM732.0,67.3h5.2v5h-5.2zM732.0,82.5h5.2v5h-5.2zM732.0,97.7h5.2v5h-5.2zM732.0,112.9h5.2v5h-5.2zM732.0,128.1h5.2v5h-5.2zM732.0,143.3h5.2v5h-5.2zM732.0,158.5h5.2v5h-5.2zM732.0,173.7h5.2v5h-5.2zM732.0,189.0h5.2v5h-5.2zM732.0,204.2h5.2v5h-5.2zM732.0,219.4h5.2v5h-5.2zM732.0,234.6h5.2v5h-5.2zM732.0,249.8h5.2v5h-5.2zM732.0,265.0h5.2v5h-5.2zM732.0,280.2h5.2v5h-5.2zM732.0,295.5h5.2v5h-5.2zM732.0,310.7h5.2v5h-5.2zM732.0,325.9h5.2v5h-5.2zM732.0,341.1h5.2v5h-5.2zM732.0,356.3h5.2v5h-5.2zM732.0,371.5h5.2v5h-5.2zM732.0,386.7h5.2v5h-5.2zM732.0,402.0h5.2v5h-5.2zM732.0,417.2h5.2v5h-5.2zM732.0,432.4h5.2v5h-5.2zM732.0,447.6h5.2v5h-5.2zM732.0,462.8h5.2v5h-5.2zM732.0,478.0h5.2v5h-5.2zM732.0,493.2h5.2v5h-5.2zM732.0,508.4h5.2v5h-5.2zM732.0,523.7h5.2v5h-5.2zM732.0,538.9h5.2v5h-5.2zM732.0,554.1h5.2v5h-5.2zM732.0,569.3h5.2v5h-5.2zM732.0,584.5h5.2v5h-5.2zM732.0,599.7h5.2v5h-5.2zM732.0,614.9h5.2v5h-5.2zM732.0,630.2h5.2v5h-5.2zM732.0,645.4h5.2v5h-5.2zM732.0,660.6h5.2v5h-5.2zM732.0,675.8h5.2v5h-5.2zM732.0,691.0h5.2v5h-5.2zM732.0,706.2h5.2v5h-5.2zM732.0,721.4h5.2v5h-5.2zM732.0,736.6h5.2v5h-5.2zM732.0,751.9h5.2v5h-5.2zM732.0,767.1h5.2v5h-5.2zM732.0,782.3h5.2v5h-5.2zM732.0,797.5h5.2v5h-5.2zM732.0,812.7h5.2v5h-5.2zM732.0,827.9h5.2v5h-5.2zM732.0,843.1h5.2v5h-5.2zM732.0,858.4h5.2v5h-5.2zM732.0,873.6h5.2v5h-5.2zM732.0,888.8h5.2v5h-5.2zM732.0,904.0h5.2v5h-5.2zM732.0,919.2h5.2v5h-5.2zM732.0,934.4h5.2v5h-5.2zM732.0,949.6h5.2v5h-5.2zM732.0,964.9h5.2v5h-5.2zM732.0,980.1h5.2v5h-5.2zM732.0,995.3h5.2v5h-5.2zM732.0,1010.5h5.2v5h-5.2zM732.0,1025.7h5.2v5h-5.2zM732.0,1040.9h5.2v5h-5.2zM732.0,1056.1h5.2v5h-5.2zM732.0,1071.3h5.2v5h-5.2zM732.0,1086.6h5.2v5h-5.2zM732.0,1101.8h5.2v5h-5.2zM732.0,1117.0h5.2v5h-5.2zM732.0,1132.2h5.2v5h-5.2zM1438.7,6.4h5.2v5h-5.2zM1438.7,21.6h5.2v5h-5.2zM1438.7,36.8h5.2v5h-5.2zM1438.7,52.0h5.2v5h-5.2zM1438.7,67.3h5.2v5h-5.2zM1438.7,82.5h5.2v5h-5.2zM1438.7,97.7h5.2v5h-5.2zM1438.7,112.9h5.2v5h-5.2zM1438.7,128.1h5.2v5h-5.2zM1438.7,143.3h5.2v5h-5.2zM1438.7,158.5h5.2v5h-5.2zM1438.7,173.7h5.2v5h-5.2zM1438.7,189.0h5.2v5h-5.2zM1438.7,204.2h5.2v5h-5.2zM1438.7,219.4h5.2v5h-5.2zM1438.7,234.6h5.2v5h-5.2zM1438.7,249.8h5.2v5h-5.2zM1438.7,265.0h5.2v5h-5.2zM1438.7,280.2h5.2v5h-5.2zM1438.7,295.5h5.2v5h-5.2zM1438.7,310.7h5.2v5h-5.2zM1438.7,325.9h5.2v5h-5.2zM1438.7,341.1h5.2v5h-5.2zM1438.7,356.3h5.2v5h-5.2zM1438.7,371.5h5.2v5h-5.2zM1438.7,386.7h5.2v5h-5.2zM1438.7,402.0h5.2v5h-5.2zM1438.7,417.2h5.2v5h-5.2zM1438.7,432.4h5.2v5h-5.2zM1438.7,447.6h5.2v5h-5.2zM1438.7,462.8h5.2v5h-5.2zM1438.7,478.0h5.2v5h-5.2zM1438.7,493.2h5.2v5h-5.2zM1438.7,508.4h5.2v5h-5.2zM1438.7,523.7h5.2v5h-5.2zM1438.7,538.9h5.2v5h-5.2zM1438.7,554.1h5.2v5h-5.2zM1438.7,569.3h5.2v5h-5.2zM1438.7,584.5h5.2v5h-5.2zM1438.7,599.7h5.2v5h-5.2zM1438.7,614.9h5.2v5h-5.2zM1438.7,630.2h5.2v5h-5.2zM1438.7,645.4h5.2v5h-5.2zM1438.7,660.6h5.2v5h-5.2zM1438.7,675.8h5.2v5h-5.2zM1438.7,691.0h5.2v5h-5.2zM1438.7,706.2h5.2v5h-5.2zM1438.7,721.4h5.2v5h-5.2zM1438.7,736.6h5.2v5h-5.2zM1438.7,751.9h5.2v5h-5.2zM1438.7,767.1h5.2v5h-5.2zM1438.7,782.3h5.2v5h-5.2zM1438.7,797.5h5.2v5h-5.2zM1438.7,812.7h5.2v5h-5.2zM1438.7,827.9h5.2v5h-5.2zM1438.7,843.1h5.2v5h-5.2zM1438.7,858.4h5.2v5h-5.2zM1438.7,873.6h5.2v5h-5.2zM1438.7,888.8h5.2v5h-5.2zM1438.7,904.0h5.2v5h-5.2zM1438.7,919.2h5.2v5h-5.2zM1438.7,934.4h5.2v5h-5.2zM1438.7,949.6h5.2v5h-5.2zM1438.7,964.9h5.2v5h-5.2zM1438.7,980.1h5.2v5h-5.2zM1438.7,995.3h5.2v5h-5.2zM1438.7,1010.5h5.2v5h-5.2zM1438.7,1025.7h5.2v5h-5.2zM1438.7,1040.9h5.2v5h-5.2zM1438.7,1056.1h5.2v5h-5.2zM1438.7,1071.3h5.2v5h-5.2zM1438.7,1086.6h5.2v5h-5.2zM1438.7,1101.8h5.2v5h-5.2zM1438.7,1117.0h5.2v5h-5.2zM1438.7,1132.2h5.2v5h-5.2z" fill="#000"/>
<path d="M5.1,1146.0h5.2v5h-5.2zM20.5,1146.0h5.2v5h-5.2zM35.8,1146.0h5.2v5h-5.2zM51.2,1146.0h5.2v5h-5.2zM66.6,1146.0h5.2v5h-5.2zM81.9,1146.0h5.2v5h-5.2zM97.3,1146.0h5.2v5h-5.2zM112.7,1146.0h5.2v5h-5.2zM128.1,1146.0h5.2v5h-5.2zM143.4,1146.0h5.2v5h-5.2zM158.8,1146.0h5.2v5h-5.2zM174.2,1146.0h5.2v5h-5.2zM189.5,1146.0h5.2v5h-5.2zM204.9,1146.0h5.2v5h-5.2zM220.3,1146.0h5.2v5h-5.2zM235.6,1146.0h5.2v5h-5.2zM251.0,1146.0h5.2v5h-5.2zM266.4,1146.0h5.2v5h-5.2zM281.8,1146.0h5.2v5h-5.2zM297.1,1146.0h5.2v5h-5.2zM312.5,1146.0h5.2v5h-5.2zM327.9,1146.0h5.2v5h-5.2zM343.2,1146.0h5.2v5h-5.2zM358.6,1146.0h5.2v5h-5.2zM374.0,1146.0h5.2v5h-5.2zM389.3,1146.0h5.2v5h-5.2zM404.7,1146.0h5.2v5h-5.2zM420.1,1146.0h5.2v5h-5.2zM435.4,1146.0h5.2v5h-5.2zM450.8,1146.0h5.2v5h-5.2zM466.2,1146.0h5.2v5h-5.2zM481.6,1146.0h5.2v5h-5.2zM496.9,1146.0h5.2v5h-5.2zM512.3,1146.0h5.2v5h-5.2zM527.7,1146.0h5.2v5h-5.2zM543.0,1146.0h5.2v5h-5.2zM558.4,1146.0h5.2v5h-5.2zM573.8,1146.0h5.2v5h-5.2zM589.1,1146.0h5.2v5h-5.2zM604.5,1146.0h5.2v5h-5.2zM619.9,1146.0h5.2v5h-5.2zM635.3,1146.0h5.2v5h-5.2zM650.6,1146.0h5.2v5h-5.2zM666.0,1146.0h5.2v5h-5.2zM681.4,1146.0h5.2v5h-5.2zM696.7,1146.0h5.2v5h-5.2zM712.1,1146.0h5.2v5h-5.2zM5.1,2271.3h5.2v5h-5.2zM20.5,2271.3h5.2v5h-5.2zM35.8,2271.3h5.2v5h-5.2zM51.2,2271.3h5.2v5h-5.2zM66.6,2271.3h5.2v5h-5.2zM81.9,2271.3h5.2v5h-5.2zM97.3,2271.3h5.2v5h-5.2zM112.7,2271.3h5.2v5h-5.2zM128.1,2271.3h5.2v5h-5.2zM143.4,2271.3h5.2v5h-5.2zM158.8,2271.3h5.2v5h-5.2zM174.2,2271.3h5.2v5h-5.2zM189.5,2271.3h5.2v5h-5.2zM204.9,2271.3h5.2v5h-5.2zM220.3,2271.3h5.2v5h-5.2zM235.6,2271.3h5.2v5h-5.2zM251.0,2271.3h5.2v5h-5.2zM266.4,2271.3h5.2v5h-5.2zM281.8,2271.3h5.2v5h-5.2zM297.1,2271.3h5.2v5h-5.2zM312.5,2271.3h5.2v5h-5.2zM327.9,2271.3h5.2v5h-5.2zM343.2,2271.3h5.2v5h-5.2zM358.6,2271.3h5.2v5h-5.2zM374.0,2271.3h5.2v5h-5.2zM389.3,2271.3h5.2v5h-5.2zM404.7,2271.3h5.2v5h-5.2zM420.1,2271.3h5.2v5h-5.2zM435.4,2271.3h5.2v5h-5.2zM450.8,2271.3h5.2v5h-5.2zM466.2,2271.3h5.2v5h-5.2zM481.6,2271.3h5.2v5h-5.2zM496.9,2271.3h5.2v5h-5.2zM512.3,2271.3h5.2v5h-5.2zM527.7,2271.3h5.2v5h-5.2zM543.0,2271.3h5.2v5h-5.2zM558.4,2271.3h5.2v5h-5.2zM573.8,2271.3h5.2v5h-5.2zM589.1,2271.3h5.2v5h-5.2zM604.5,2271.3h5.2v5h-5.2zM619.9,2271.3h5.2v5h-5.2zM635.3,2271.3h5.2v5h-5.2zM650.6,2271.3h5.2v5h-5.2zM666.0,2271.3h5.2v5h-5.2zM681.4,2271.3h5.2v5h-5.2zM696.7,2271.3h5.2v5h-5.2zM712.1,2271.3h5.2v5h-5.2zM5.1,1146.0h5.2v5h-5.2zM5.1,1161.2h5.2v5h-5.2zM5.1,1176.4h5.2v5h-5.2zM5.1,1191.6h5.2v5h-5.2zM5.1,1206.8h5.2v5h-5.2zM5.1,1222.0h5.2v5h-5.2zM5.1,1237.2h5.2v5h-5.2zM5.1,1252.4h5.2v5h-5.2zM5.1,1267.7h5.2v5h-5.2zM5.1,1282.9h5.2v5h-5.2zM5.1,1298.1h5.2v5h-5.2zM5.1,1313.3h5.2v5h-5.2zM5.1,1328.5h5.2v5h-5.2zM5.1,1343.7h5.2v5h-5.2zM5.1,1358.9h5.2v5h-5.2zM5.1,1374.1h5.2v5h-5.2zM5.1,1389.3h5.2v5h-5.2zM5.1,1404.5h5.2v5h-5.2zM5.1,1419.7h5.2v5h-5.2zM5.1,1434.9h5.2v5h-5.2zM5.1,1450.1h5.2v5h-5.2zM5.1,1465.3h5.2v5h-5.2zM5.1,1480.5h5.2v5h-5.2zM5.1,1495.8h5.2v5h-5.2zM5.1,1511.0h5.2v5h-5.2zM5.1,1526.2h5.2v5h-5.2zM5.1,1541.4h5.2v5h-5.2zM5.1,1556.6h5.2v5h-5.2zM5.1,1571.8h5.2v5h-5.2zM5.1,1587.0h5.2v5h-5.2zM5.1,1602.2h5.2v5h-5.2zM5.1,1617.4h5.2v5h-5.2zM5.1,1632.6h5.2v5h-5.2zM5.1,1647.8h5.2v5h-5.2zM5.1,1663.0h5.2v5h-5.2zM5.1,1678.2h5.2v5h-5.2zM5.1,1693.4h5.2v5h-5.2zM5.1,1708.7h5.2v5h-5.2zM5.1,1723.9h5.2v5h-5.2zM5.1,1739.1h5.2v5h-5.2zM5.1,1754.3h5.2v5h-5.2zM5.1,1769.5h5.2v5h-5.2zM5.1,1784.7h5.2v5h-5.2zM5.1,1799.9h5.2v5h-5.2zM5.1,1815.1h5.2v5h-5.2zM5.1,1830.3h5.2v5h-5.2zM5.1,1845.5h5.2v5h-5.2zM5.1,1860.7h5.2v5h-5.2zM5.1,1875.9h5.2v5h-5.2zM5.1,1891.1h5.2v5h-5.2zM5.1,1906.3h5.2v5h-5.2zM5.1,1921.5h5.2v5h-5.2zM5.1,1936.8h5.2v5h-5.2zM5.1,1952.0h5.2v5h-5.2zM5.1,1967.2h5.2v5h-5.2zM5.1,1982.4h5.2v5h-5.2zM5.1,1997.6h5.2v5h-5.2zM5.1,2012.8h5.2v5h-5.2zM5.1,2028.0h5.2v5h-5.2zM5.1,2043.2h5.2v5h-5.2zM5.1,2058.4h5.2v5h-5.2zM5.1,2073.6h5.2v5h-5.2zM5.1,2088.8h5.2v5h-5.2zM5.1,2104.0h5.2v5h-5.2zM5.1,2119.2h5.2v5h-5.2zM5.1,2134.4h5.2v5h-5.2zM5.1,2149.6h5.2v5h-5.2zM5.1,2164.9h5.2v5h-5.2zM5.1,2180.1h5.2v5h-5.2zM5.1,2195.3h5.2v5h-5.2zM5.1,2210.5h5.2v5h-5.2zM5.1,2225.7h5.2v5h-5.2zM5.1,2240.9h5.2v5h-5.2zM5.1,2256.1h5.2v5h-5.2zM5.1,2271.3h5.2v5h-5.2zM712.1,1146.0h5.2v5h-5.2zM712.1,1161.2h5.2v5h-5.2zM712.1,1176.4h5.2v5h-5.2zM712.1,1191.6h5.2v5h-5.2zM712.1,1206.8h5.2v5h-5.2zM712.1,1222.0h5.2v5h-5.2zM712.1,1237.2h5.2v5h-5.2zM712.1,1252.4h5.2v5h-5.2zM712.1,1267.7h5.2v5h-5.2zM712.1,1282.9h5.2v5h-5.2zM712.1,1298.1h5.2v5h-5.2zM712.1,1313.3h5.2v5h-5.2zM712.1,1328.5h5.2v5h-5.2zM712.1,1343.7h5.2v5h-5.2zM712.1,1358.9h5.2v5h-5.2zM712.1,1374.1h5.2v5h-5.2zM712.1,1389.3h5.2v5h-5.2zM712.1,1404.5h5.2v5h-5.2zM712.1,1419.7h5.2v5h-5.2zM712.1,1434.9h5.2v5h-5.2zM712.1,1450.1h5.2v5h-5.2zM712.1,1465.3h5.2v5h-5.2zM712.1,1480.5h5.2v5h-5.2zM712.1,1495.8h5.2v5h-5.2zM712.1,1511.0h5.2v5h-5.2zM712.1,1526.2h5.2v5h-5.2zM712.1,1541.4h5.2v5h-5.2zM712.1,1556.6h5.2v5h-5.2zM712.1,1571.8h5.2v5h-5.2zM712.1,1587.0h5.2v5h-5.2zM712.1,1602.2h5.2v5h-5.2zM712.1,1617.4h5.2v5h-5.2zM712.1,1632.6h5.2v5h-5.2zM712.1,1647.8h5.2v5h-5.2zM712.1,1663.0h5.2v5h-5.2zM712.1,1678.2h5.2v5h-5.2zM712.1,1693.4h5.2v5h-5.2zM712.1,1708.7h5.2v5h-5.2zM712.1,1723.9h5.2v5h-5.2zM712.1,1739.1h5.2v5h-5.2zM712.1,1754.3h5.2v5h-5.2zM712.1,1769.5h5.2v5h-5.2zM712.1,1784.7h5.2v5h-5.2zM712.1,1799.9h5.2v5h-5.2zM712.1,1815.1h5.2v5h-5.2zM712.1,1830.3h5.2v5h-5.2zM712.1,1845.5h5.2v5h-5.2zM712.1,1860.7h5.2v5h-5.2zM712.1,1875.9h5.2v5h-5.2zM712.1,1891.1h5.2v5h-5.2zM712.1,1906.3h5.2v5h-5.2zM712.1,1921.5h5.2v5h-5.2zM712.1,1936.8h5.2v5h-5.2zM712.1,1952.0h5.2v5h-5.2zM712.1,1967.2h5.2v5h-5.2zM712.1,1982.4h5.2v5h-5.2zM712.1,1997.6h5.2v5h-5.2zM712.1,2012.8h5.2v5h-5.2zM712.1,2028.0h5.2v5h-5.2zM712.1,2043.2h5.2v5h-5.2zM712.1,2058.4h5.2v5h-5.2zM712.1,2073.6h5.2v5h-5.2zM712.1,2088.8h5.2v5h-5.2zM712.1,2104.0h5.2v5h-5.2zM712.1,2119.2h5.2v5h-5.2zM712.1,2134.4h5.2v5h-5.2zM712.1,2149.6h5.2v5h-5.2zM712.1,2164.9h5.2v5h-5.2zM712.1,2180.1h5.2v5h-5.2zM712.1,2195.3h5.2v5h-5.2zM712.1,2210.5h5.2v5h-5.2zM712.1,2225.7h5.2v5h-5.2zM712.1,2240.9h5.2v5h-5.2zM712.1,2256.1h5.2v5h-5.2zM712.1,2271.3h5.2v5h-5.2z" fill="#000"/>
<path d="M732.0,1146.0h5.2v5h-5.2zM747.4,1146.0h5.2v5h-5.2zM762.7,1146.0h5.2v5h-5.2zM778.1,1146.0h5.2v5h-5.2zM793.5,1146.0h5.2v5h-5.2zM808.8,1146.0h5.2v5h-5.2zM824.2,1146.0h5.2v5h-5.2zM839.5,1146.0h5.2v5h-5.2zM854.9,1146.0h5.2v5h-5.2zM870.3,1146.0h5.2v5h-5.2zM885.6,1146.0h5.2v5h-5.2zM901.0,1146.0h5.2v5h-5.2zM916.4,1146.0h5.2v5h-5.2zM931.7,1146.0h5.2v5h-5.2zM947.1,1146.0h5.2v5h-5.2zM962.4,1146.0h5.2v5h-5.2zM977.8,1146.0h5.2v5h-5.2zM993.2,1146.0h5.2v5h-5.2zM1008.5,1146.0h5.2v5h-5.2zM1023.9,1146.0h5.2v5h-5.2zM1039.3,1146.0h5.2v5h-5.2zM1054.6,1146.0h5.2v5h-5.2zM1070.0,1146.0h5.2v5h-5.2zM1085.4,1146.0h5.2v5h-5.2zM1100.7,1146.0h5.2v5h-5.2zM1116.1,1146.0h5.2v5h-5.2zM1131.4,1146.0h5.2v5h-5.2zM1146.8,1146.0h5.2v5h-5.2zM1162.2,1146.0h5.2v5h-5.2zM1177.5,1146.0h5.2v5h-5.2zM1192.9,1146.0h5.2v5h-5.2zM1208.3,1146.0h5.2v5h-5.2zM1223.6,1146.0h5.2v5h-5.2zM1239.0,1146.0h5.2v5h-5.2zM1254.3,1146.0h5.2v5h-5.2zM1269.7,1146.0h5.2v5h-5.2zM1285.1,1146.0h5.2v5h-5.2zM1300.4,1146.0h5.2v5h-5.2zM1315.8,1146.0h5.2v5h-5.2zM1331.2,1146.0h5.2v5h-5.2zM1346.5,1146.0h5.2v5h-5.2zM1361.9,1146.0h5.2v5h-5.2zM1377.2,1146.0h5.2v5h-5.2zM1392.6,1146.0h5.2v5h-5.2zM1408.0,1146.0h5.2v5h-5.2zM1423.3,1146.0h5.2v5h-5.2zM1438.7,1146.0h5.2v5h-5.2zM732.0,2271.3h5.2v5h-5.2zM747.4,2271.3h5.2v5h-5.2zM762.7,2271.3h5.2v5h-5.2zM778.1,2271.3h5.2v5h-5.2zM793.5,2271.3h5.2v5h-5.2zM808.8,2271.3h5.2v5h-5.2zM824.2,2271.3h5.2v5h-5.2zM839.5,2271.3h5.2v5h-5.2zM854.9,2271.3h5.2v5h-5.2zM870.3,2271.3h5.2v5h-5.2zM885.6,2271.3h5.2v5h-5.2zM901.0,2271.3h5.2v5h-5.2zM916.4,2271.3h5.2v5h-5.2zM931.7,2271.3h5.2v5h-5.2zM947.1,2271.3h5.2v5h-5.2zM962.4,2271.3h5.2v5h-5.2zM977.8,2271.3h5.2v5h-5.2zM993.2,2271.3h5.2v5h-5.2zM1008.5,2271.3h5.2v5h-5.2zM1023.9,2271.3h5.2v5h-5.2zM1039.3,2271.3h5.2v5h-5.2zM1054.6,2271.3h5.2v5h-5.2zM1070.0,2271.3h5.2v5h-5.2zM1085.4,2271.3h5.2v5h-5.2zM1100.7,2271.3h5.2v5h-5.2zM1116.1,2271.3h5.2v5h-5.2zM1131.4,2271.3h5.2v5h-5.2zM1146.8,2271.3h5.2v5h-5.2zM1162.2,2271.3h5.2v5h-5.2zM1177.5,2271.3h5.2v5h-5.2zM1192.9,2271.3h5.2v5h-5.2zM1208.3,2271.3h5.2v5h-5.2zM1223.6,2271.3h5.2v5h-5.2zM1239.0,2271.3h5.2v5h-5.2zM1254.3,2271.3h5.2v5h-5.2zM1269.7,2271.3h5.2v5h-5.2zM1285.1,2271.3h5.2v5h-5.2zM1300.4,2271.3h5.2v5h-5.2zM1315.8,2271.3h5.2v5h-5.2zM1331.2,2271.3h5.2v5h-5.2zM1346.5,2271.3h5.2v5h-5.2zM1361.9,2271.3h5.2v5h-5.2zM1377.2,2271.3h5.2v5h-5.2zM1392.6,2271.3h5.2v5h-5.2zM1408.0,2271.3h5.2v5h-5.2zM1423.3,2271.3h5.2v5h-5.2zM1438.7,2271.3h5.2v5h-5.2zM732.0,1146.0h5.2v5h-5.2zM732.0,1161.2h5.2v5h-5.2zM732.0,1176.4h5.2v5h-5.2zM732.0,1191.6h5.2v5h-5.2zM732.0,1206.8h5.2v5h-5.2zM732.0,1222.0h5.2v5h-5.2zM732.0,1237.2h5.2v5h-5.2zM732.0,1252.4h5.2v5h-5.2zM732.0,1267.7h5.2v5h-5.2zM732.0,1282.9h5.2v5h-5.2zM732.0,1298.1h5.2v5h-5.2zM732.0,1313.3h5.2v5h-5.2zM732.0,1328.5h5.2v5h-5.2zM732.0,1343.7h5.2v5h-5.2zM732.0,1358.9h5.2v5h-5.2zM732.0,1374.1h5.2v5h-5.2zM732.0,1389.3h5.2v5h-5.2zM732.0,1404.5h5.2v5h-5.2zM732.0,1419.7h5.2v5h-5.2zM732.0,1434.9h5.2v5h-5.2zM732.0,1450.1h5.2v5h-5.2zM732.0,1465.3h5.2v5h-5.2zM732.0,1480.5h5.2v5h-5.2zM732.0,1495.8h5.2v5h-5.2zM732.0,1511.0h5.2v5h-5.2zM732.0,1526.2h5.2v5h-5.2zM732.0,1541.4h5.2v5h-5.2zM732.0,1556.6h5.2v5h-5.2zM732.0,1571.8h5.2v5h-5.2zM732.0,1587.0h5.2v5h-5.2zM732.0,1602.2h5.2v5h-5.2zM732.0,1617.4h5.2v5h-5.2zM732.0,1632.6h5.2v5h-5.2zM732.0,1647.8h5.2v5h-5.2zM732.0,1663.0h5.2v5h-5.2zM732.0,1678.2h5.2v5h-5.2zM732.0,1693.4h5.2v5h-5.2zM732.0,1708.7h5.2v5h-5.2zM732.0,1723.9h5.2v5h-5.2zM732.0,1739.1h5.2v5h-5.2zM732.0,1754.3h5.2v5h-5.2zM732.0,1769.5h5.2v5h-5.2zM732.0,1784.7h5.2v5h-5.2zM732.0,1799.9h5.2v5h-5.2zM732.0,1815.1h5.2v5h-5.2zM732.0,1830.3h5.2v5h-5.2zM732.0,1845.5h5.2v5h-5.2zM732.0,1860.7h5.2v5h-5.2zM732.0,1875.9h5.2v5h-5.2zM732.0,1891.1h5.2v5h-5.2zM732.0,1906.3h5.2v5h-5.2zM732.0,1921.5h5.2v5h-5.2zM732.0,1936.8h5.2v5h-5.2zM732.0,1952.0h5.2v5h-5.2zM732.0,1967.2h5.2v5h-5.2zM732.0,1982.4h5.2v5h-5.2zM732.0,1997.6h5.2v5h-5.2zM732.0,2012.8h5.2v5h-5.2zM732.0,2028.0h5.2v5h-5.2zM732.0,2043.2h5.2v5h-5.2zM732.0,2058.4h5.2v5h-5.2zM732.0,2073.6h5.2v5h-5.2zM732.0,2088.8h5.2v5h-5.2zM732.0,2104.0h5.2v5h-5.2zM732.0,2119.2h5.2v5h-5.2zM732.0,2134.4h5.2v5h-5.2zM732.0,2149.6h5.2v5h-5.2zM732.0,2164.9h5.2v5h-5.2zM732.0,2180.1h5.2v5h-5.2zM732.0,2195.3h5.2v5h-5.2zM732.0,2210.5h5.2v5h-5.2zM732.0,2225.7h5.2v5h-5.2zM732.0,2240.9h5.2v5h-5.2zM732.0,2256.1h5.2v5h-5.2zM732.0,2271.3h5.2v5h-5.2zM1438.7,1146.0h5.2v5h-5.2zM1438.7,1161.2h5.2v5h-5.2zM1438.7,1176.4h5.2v5h-5.2zM1438.7,1191.6h5.2v5h-5.2zM1438.7,1206.8h5.2v5h-5.2zM1438.7,1222.0h5.2v5h-5.2zM1438.7,1237.2h5.2v5h-5.2zM1438.7,1252.4h5.2v5h-5.2zM1438.7,1267.7h5.2v5h-5.2zM1438.7,1282.9h5.2v5h-5.2zM1438.7,1298.1h5.2v5h-5.2zM1438.7,1313.3h5.2v5h-5.2zM1438.7,1328.5h5.2v5h-5.2zM1438.7,1343.7h5.2v5h-5.2zM1438.7,1358.9h5.2v5h-5.2zM1438.7,1374.1h5.2v5h-5.2zM1438.7,1389.3h5.2v5h-5.2zM1438.7,1404.5h5.2v5h-5.2zM1438.7,1419.7h5.2v5h-5.2zM1438.7,1434.9h5.2v5h-5.2zM1438.7,1450.1h5.2v5h-5.2zM1438.7,1465.3h5.2v5h-5.2zM1438.7,1480.5h5.2v5h-5.2zM1438.7,1495.8h5.2v5h-5.2zM1438.7,1511.0h5.2v5h-5.2zM1438.7,1526.2h5.2v5h-5.2zM1438.7,1541.4h5.2v5h-5.2zM1438.7,1556.6h5.2v5h-5.2zM1438.7,1571.8h5.2v5h-5.2zM1438.7,1587.0h5.2v5h-5.2zM1438.7,1602.2h5.2v5h-5.2zM1438.7,1617.4h5.2v5h-5.2zM1438.7,1632.6h5.2v5h-5.2zM1438.7,1647.8h5.2v5h-5.2zM1438.7,1663.0h5.2v5h-5.2zM1438.7,1678.2h5.2v5h-5.2zM1438.7,1693.4h5.2v5h-5.2zM1438.7,1708.7h5.2v5h-5.2zM1438.7,1723.9h5.2v5h-5.2zM1438.7,1739.1h5.2v5h-5.2zM1438.7,1754.3h5.2v5h-5.2zM1438.7,1769.5h5.2v5h-5.2zM1438.7,1784.7h5.2v5h-5.2zM1438.7,1799.9h5.2v5h-5.2zM1438.7,1815.1h5.2v5h-5.2zM1438.7,1830.3h5.2v5h-5.2zM1438.7,1845.5h5.2v5h-5.2zM1438.7,1860.7h5.2v5h-5.2zM1438.7,1875.9h5.2v5h-5.2zM1438.7,1891.1h5.2v5h-5.2zM1438.7,1906.3h5.2v5h-5.2zM1438.7,1921.5h5.2v5h-5.2zM1438.7,1936.8h5.2v5h-5.2zM1438.7,1952.0h5.2v5h-5.2zM1438.7,1967.2h5.2v5h-5.2zM1438.7,1982.4h5.2v5h-5.2zM1438.7,1997.6h5.2v5h-5.2zM1438.7,2012.8h5.2v5h-5.2zM1438.7,2028.0h5.2v5h-5.2zM1438.7,2043.2h5.2v5h-5.2zM1438.7,2058.4h5.2v5h-5.2zM1438.7,2073.6h5.2v5h-5.2zM1438.7,2088.8h5.2v5h-5.2zM1438.7,2104.0h5.2v5h-5.2zM1438.7,2119.2h5.2v5h-5.2zM1438.7,2134.4h5.2v5h-5.2zM1438.7,2149.6h5.2v5h-5.2zM1438.7,2164.9h5.2v5h-5.2zM1438.7,2180.1h5.2v5h-5.2zM1438.7,2195.3h5.2v5h-5.2zM1438.7,2210.5h5.2v5h-5.2zM1438.7,2225.7h5.2v5h-5.2zM1438.7,2240.9h5.2v5h-5.2zM1438.7,2256.1h5.2v5h-5.2zM1438.7,2271.3h5.2v5h-5.2z" fill="#000"/>
<g id="a1">
<g transform="translate(389.3,169.5)" clip-path="url(#clipP)">
<use href="#k1ab" filter="url(#soft)"/>
</g>
<polygon points="194.8,169.5 389.3,248.3 583.8,169.5" fill="#c0c0c0"/>
<polyline points="194.8,170.1 389.3,248.9 583.8,170.1" fill="none" stroke="#333" stroke-width="1.6" stroke-dasharray="2.2 2.2"/>
<path d="M230.9,169.5v7M230.9,407.1v-7M310.1,169.5v7M310.1,407.1v-7M468.5,169.5v7M468.5,407.1v-7M547.7,169.5v7M547.7,407.1v-7M151.5,209.0h7M626.8,209.0h-7M151.5,248.5h7M626.8,248.5h-7M151.5,288.0h7M626.8,288.0h-7M151.5,327.5h7M626.8,327.5h-7M151.5,367.0h7M626.8,367.0h-7" stroke="#333" stroke-width="1.4" fill="none"/>
<path d="M151.5,169.5V407.1H626.8V169.5" fill="none" stroke="#000" stroke-width="3.6"/>
<line x1="149.7" y1="169.5" x2="659.3" y2="169.5" stroke="#000" stroke-width="3.8"/>
<polygon points="670.8,169.5 655.3,164.7 658.3,169.5 655.3,174.3" fill="#000"/>
<line x1="389.3" y1="169.5" x2="389.3" y2="422.5" stroke="#111" stroke-width="3"/>
<polygon points="389.3,430.5 385.1,416.5 389.3,419.5 393.5,416.5" fill="#000"/>
<text x="153.2" y="159.8" font-size="33" text-anchor="middle">−3</text>
<text x="232.4" y="159.8" font-size="33" text-anchor="middle">−2</text>
<text x="311.6" y="159.8" font-size="33" text-anchor="middle">−1</text>
<text x="389.3" y="159.8" font-size="33" text-anchor="middle">0</text>
<text x="468.5" y="159.8" font-size="33" text-anchor="middle">1</text>
<text x="547.7" y="159.8" font-size="33" text-anchor="middle">2</text>
<text x="626.9" y="159.8" font-size="33" text-anchor="middle">3</text>
<text x="649.3" y="162.3" font-size="33">Y</text>
<text x="141.7" y="180.7" font-size="33" text-anchor="end">0</text>
<text x="141.7" y="220.9" font-size="33" text-anchor="end">0.5</text>
<text x="141.7" y="261.1" font-size="33" text-anchor="end">1</text>
<text x="141.7" y="301.3" font-size="33" text-anchor="end">1.5</text>
<text x="141.7" y="341.5" font-size="33" text-anchor="end">2</text>
<text x="141.7" y="381.7" font-size="33" text-anchor="end">2.5</text>
<text x="141.7" y="421.9" font-size="33" text-anchor="end">3</text>
<text transform="translate(83.8,287.5) rotate(-90)" text-anchor="middle" font-size="34" font-style="italic">z/d</text>
<text x="366.8" y="117.6" font-size="33" textLength="47.8" lengthAdjust="spacingAndGlyphs" font-style="italic">y/d</text>
<text x="48.5" y="120.1" font-size="33" textLength="58.5" lengthAdjust="spacingAndGlyphs">(a1)</text>
<text x="371.3" y="61.0" font-size="33" text-anchor="middle">(a)</text>
<text x="562.9" y="121.6" font-size="33" textLength="106.1" lengthAdjust="spacingAndGlyphs" font-style="italic" fill="#0b70c3">σ<tspan font-size="20.5" dy="8.2">x</tspan><tspan dy="-8.2">d</tspan><tspan font-size="20.5" dy="-11.9">2</tspan><tspan dy="11.9">/F</tspan><tspan font-size="20.5" dy="8.2">n</tspan></text>
<text x="356.2" y="439.3" font-size="34">Z</text>
<rect x="215.1" y="211.3" width="48.5" height="13.7" fill="#fff"/>
<text x="216.1" y="223.5" font-size="14.8" textLength="46.5" lengthAdjust="spacingAndGlyphs">−0.045</text>
<rect x="206.6" y="236.3" width="47.0" height="13.7" fill="#fff"/>
<text x="207.6" y="248.5" font-size="14.8" textLength="45.0" lengthAdjust="spacingAndGlyphs">−0.030</text>
<rect x="179.1" y="273.4" width="47.0" height="13.7" fill="#fff"/>
<text x="180.1" y="285.5" font-size="14.8" textLength="45.0" lengthAdjust="spacingAndGlyphs">−0.014</text>
<rect x="343.2" y="270.9" width="38.0" height="13.7" fill="#fff"/>
<text x="344.2" y="283.0" font-size="14.8" textLength="36.0" lengthAdjust="spacingAndGlyphs">0.091</text>
<rect x="339.2" y="298.4" width="38.0" height="13.7" fill="#fff"/>
<text x="340.2" y="310.5" font-size="14.8" textLength="36.0" lengthAdjust="spacingAndGlyphs">0.061</text>
<rect x="335.2" y="366.5" width="47.5" height="15.6" fill="#fff"/>
<text x="336.2" y="380.6" font-size="17.5" textLength="45.5" lengthAdjust="spacingAndGlyphs">0.031</text>
<rect x="406.8" y="285.9" width="38.5" height="13.7" fill="#fff"/>
<text x="407.8" y="298.0" font-size="14.8" textLength="36.5" lengthAdjust="spacingAndGlyphs">0.076</text>
<rect x="411.8" y="316.9" width="38.5" height="13.7" fill="#fff"/>
<text x="412.8" y="329.1" font-size="14.8" textLength="36.5" lengthAdjust="spacingAndGlyphs">0.046</text>
<rect x="529.4" y="199.3" width="47.0" height="13.7" fill="#fff"/>
<text x="530.4" y="211.5" font-size="14.8" textLength="45.0" lengthAdjust="spacingAndGlyphs">−0.045</text>
<rect x="541.9" y="225.3" width="47.5" height="13.7" fill="#fff"/>
<text x="542.9" y="237.5" font-size="14.8" textLength="45.5" lengthAdjust="spacingAndGlyphs">−0.030</text>
<rect x="531.9" y="264.4" width="47.0" height="13.7" fill="#fff"/>
<text x="532.9" y="276.5" font-size="14.8" textLength="45.0" lengthAdjust="spacingAndGlyphs">−0.014</text>
<rect x="184.1" y="316.2" width="141.1" height="24" fill="#fff"/>
<rect x="193.1" y="343.2" width="124.1" height="24" fill="#fff"/>
<rect x="459.3" y="312.2" width="148.1" height="24" fill="#fff"/>
<rect x="506.8" y="338.2" width="54.5" height="24" fill="#fff"/>
<rect x="158.1" y="370.3" width="173.1" height="14" fill="#fff"/>
<rect x="193.1" y="387.8" width="103.1" height="15" fill="#fff"/>
<rect x="441.8" y="368.3" width="173.1" height="14" fill="#fff"/>
<rect x="483.3" y="385.8" width="93.1" height="15" fill="#fff"/>
<text x="185.1" y="334.2" font-size="22" textLength="139.1" lengthAdjust="spacingAndGlyphs">Compressive</text>
<text x="194.1" y="361.2" font-size="22" textLength="122.1" lengthAdjust="spacingAndGlyphs">stress zone</text>
<text x="460.3" y="330.2" font-size="22" textLength="146.1" lengthAdjust="spacingAndGlyphs">Tensile stress</text>
<text x="507.8" y="356.2" font-size="22" textLength="52.5" lengthAdjust="spacingAndGlyphs">zone</text>
<text x="159.1" y="381.3" font-size="14.5" textLength="171.1" lengthAdjust="spacingAndGlyphs" fill="#cf0f1a">Max compressive stress</text>
<text x="194.1" y="398.8" font-size="14.5" textLength="101.1" lengthAdjust="spacingAndGlyphs" font-style="italic" fill="#cf0f1a">σ<tspan font-size="9.0" dy="3.6">x</tspan><tspan dy="-3.6">d</tspan><tspan font-size="9.0" dy="-5.2">2</tspan><tspan dy="5.2">/F</tspan><tspan font-size="9.0" dy="3.6">n</tspan><tspan dy="-3.6" font-style="normal">=−0.075</tspan></text>
<text x="442.8" y="379.3" font-size="14.5" textLength="171.1" lengthAdjust="spacingAndGlyphs" fill="#cf0f1a">Max compressive stress</text>
<text x="484.3" y="396.8" font-size="14.5" textLength="91.1" lengthAdjust="spacingAndGlyphs" font-style="italic" fill="#cf0f1a">σ<tspan font-size="9.0" dy="3.6">x</tspan><tspan dy="-3.6">d</tspan><tspan font-size="9.0" dy="-5.2">2</tspan><tspan dy="5.2">/F</tspan><tspan font-size="9.0" dy="3.6">n</tspan><tspan dy="-3.6" font-style="normal">=0.242</tspan></text>
<line x1="257.7" y1="308.7" x2="282.3" y2="236.4" stroke="#000" stroke-width="4.1"/><polygon points="289.2,216.1 289.5,240.0 274.4,234.9" fill="#000"/>
<line x1="487.8" y1="306.2" x2="438.1" y2="257.6" stroke="#000" stroke-width="4.1"/><polygon points="422.8,242.7 444.5,252.7 433.3,264.1" fill="#000"/>
</g>
<g id="a2">
<g transform="translate(389.3,509.3)" clip-path="url(#clipP)">
<use href="#k2ab" filter="url(#soft)"/>
</g>
<polygon points="194.8,509.3 389.3,588.1 583.8,509.3" fill="#c0c0c0"/>
<polyline points="194.8,509.9 389.3,588.7 583.8,509.9" fill="none" stroke="#333" stroke-width="1.6" stroke-dasharray="2.2 2.2"/>
<path d="M230.9,509.3v7M230.9,746.9v-7M310.1,509.3v7M310.1,746.9v-7M468.5,509.3v7M468.5,746.9v-7M547.7,509.3v7M547.7,746.9v-7M151.5,548.8h7M626.8,548.8h-7M151.5,588.3h7M626.8,588.3h-7M151.5,627.8h7M626.8,627.8h-7M151.5,667.3h7M626.8,667.3h-7M151.5,706.8h7M626.8,706.8h-7" stroke="#333" stroke-width="1.4" fill="none"/>
<path d="M151.5,509.3V746.9H626.8V509.3" fill="none" stroke="#000" stroke-width="3.6"/>
<line x1="149.7" y1="509.3" x2="659.3" y2="509.3" stroke="#000" stroke-width="3.8"/>
<polygon points="670.8,509.3 655.3,504.5 658.3,509.3 655.3,514.1" fill="#000"/>
<line x1="389.3" y1="509.3" x2="389.3" y2="762.3" stroke="#111" stroke-width="3"/>
<polygon points="389.3,770.3 385.1,756.3 389.3,759.3 393.5,756.3" fill="#000"/>
<text x="153.2" y="500.2" font-size="33" text-anchor="middle">−3</text>
<text x="232.4" y="500.2" font-size="33" text-anchor="middle">−2</text>
<text x="311.6" y="500.2" font-size="33" text-anchor="middle">−1</text>
<text x="389.3" y="500.2" font-size="33" text-anchor="middle">0</text>
<text x="468.5" y="500.2" font-size="33" text-anchor="middle">1</text>
<text x="547.7" y="500.2" font-size="33" text-anchor="middle">2</text>
<text x="626.9" y="500.2" font-size="33" text-anchor="middle">3</text>
<text x="649.3" y="502.7" font-size="33">Y</text>
<text x="141.7" y="520.9" font-size="33" text-anchor="end">0</text>
<text x="141.7" y="561.1" font-size="33" text-anchor="end">0.5</text>
<text x="141.7" y="601.3" font-size="33" text-anchor="end">1</text>
<text x="141.7" y="641.5" font-size="33" text-anchor="end">1.5</text>
<text x="141.7" y="681.7" font-size="33" text-anchor="end">2</text>
<text x="141.7" y="721.9" font-size="33" text-anchor="end">2.5</text>
<text x="141.7" y="762.1" font-size="33" text-anchor="end">3</text>
<text transform="translate(83.8,627.3) rotate(-90)" text-anchor="middle" font-size="34" font-style="italic">z/d</text>
<text x="366.8" y="475.0" font-size="33" textLength="47.8" lengthAdjust="spacingAndGlyphs" font-style="italic">y/d</text>
<text x="48.5" y="464.0" font-size="33" textLength="58.5" lengthAdjust="spacingAndGlyphs">(a2)</text>
<text x="559.4" y="465.0" font-size="33" textLength="107.6" lengthAdjust="spacingAndGlyphs" font-style="italic" fill="#0b70c3">σ<tspan font-size="20.5" dy="8.2">y</tspan><tspan dy="-8.2">d</tspan><tspan font-size="20.5" dy="-11.9">2</tspan><tspan dy="11.9">/F</tspan><tspan font-size="20.5" dy="8.2">n</tspan></text>
<text x="356.2" y="777.7" font-size="34">Z</text>
<rect x="179.1" y="526.7" width="48.0" height="13.7" fill="#fff"/>
<text x="180.1" y="538.9" font-size="14.8" textLength="46.0" lengthAdjust="spacingAndGlyphs">−0.148</text>
<rect x="168.1" y="547.3" width="47.0" height="13.7" fill="#fff"/>
<text x="169.1" y="559.4" font-size="14.8" textLength="45.0" lengthAdjust="spacingAndGlyphs">−0.107</text>
<rect x="169.1" y="569.3" width="47.0" height="13.7" fill="#fff"/>
<text x="170.1" y="581.4" font-size="14.8" textLength="45.0" lengthAdjust="spacingAndGlyphs">−0.067</text>
<rect x="171.6" y="600.8" width="47.0" height="13.7" fill="#fff"/>
<text x="172.6" y="613.0" font-size="14.8" textLength="45.0" lengthAdjust="spacingAndGlyphs">−0.027</text>
<rect x="297.7" y="587.3" width="37.5" height="13.7" fill="#fff"/>
<text x="298.7" y="599.4" font-size="14.8" textLength="35.5" lengthAdjust="spacingAndGlyphs">0.215</text>
<rect x="324.2" y="604.3" width="38.0" height="13.7" fill="#fff"/>
<text x="325.2" y="616.5" font-size="14.8" textLength="36.0" lengthAdjust="spacingAndGlyphs">0.175</text>
<rect x="276.7" y="612.3" width="38.5" height="13.7" fill="#fff"/>
<text x="277.7" y="624.5" font-size="14.8" textLength="36.5" lengthAdjust="spacingAndGlyphs">0.134</text>
<rect x="273.7" y="633.3" width="38.5" height="13.7" fill="#fff"/>
<text x="274.7" y="645.5" font-size="14.8" textLength="36.5" lengthAdjust="spacingAndGlyphs">0.094</text>
<rect x="324.2" y="643.3" width="38.0" height="13.7" fill="#fff"/>
<text x="325.2" y="655.5" font-size="14.8" textLength="36.0" lengthAdjust="spacingAndGlyphs">0.054</text>
<rect x="451.8" y="575.8" width="38.5" height="13.7" fill="#fff"/>
<text x="452.8" y="587.9" font-size="14.8" textLength="36.5" lengthAdjust="spacingAndGlyphs">0.215</text>
<rect x="457.3" y="590.8" width="39.0" height="13.7" fill="#fff"/>
<text x="458.3" y="602.9" font-size="14.8" textLength="37.0" lengthAdjust="spacingAndGlyphs">0.175</text>
<rect x="462.3" y="609.3" width="38.0" height="13.7" fill="#fff"/>
<text x="463.3" y="621.5" font-size="14.8" textLength="36.0" lengthAdjust="spacingAndGlyphs">0.134</text>
<rect x="475.8" y="629.8" width="39.0" height="13.7" fill="#fff"/>
<text x="476.8" y="642.0" font-size="14.8" textLength="37.0" lengthAdjust="spacingAndGlyphs">0.094</text>
<rect x="503.3" y="643.3" width="38.5" height="13.7" fill="#fff"/>
<text x="504.3" y="655.5" font-size="14.8" textLength="36.5" lengthAdjust="spacingAndGlyphs">0.054</text>
<rect x="551.9" y="525.7" width="48.0" height="13.7" fill="#fff"/>
<text x="552.9" y="537.9" font-size="14.8" textLength="46.0" lengthAdjust="spacingAndGlyphs">−0.148</text>
<rect x="568.4" y="543.3" width="47.0" height="13.7" fill="#fff"/>
<text x="569.4" y="555.4" font-size="14.8" textLength="45.0" lengthAdjust="spacingAndGlyphs">−0.107</text>
<rect x="554.4" y="578.3" width="47.0" height="13.7" fill="#fff"/>
<text x="555.4" y="590.4" font-size="14.8" textLength="45.0" lengthAdjust="spacingAndGlyphs">−0.067</text>
<rect x="565.9" y="603.3" width="47.0" height="13.7" fill="#fff"/>
<text x="566.9" y="615.5" font-size="14.8" textLength="45.0" lengthAdjust="spacingAndGlyphs">−0.027</text>
<rect x="173.1" y="659.7" width="142.1" height="24" fill="#fff"/>
<rect x="181.6" y="686.2" width="124.6" height="24" fill="#fff"/>
<rect x="418.3" y="656.2" width="149.1" height="24" fill="#fff"/>
<rect x="466.8" y="682.7" width="54.5" height="24" fill="#fff"/>
<rect x="165.6" y="711.2" width="173.1" height="14" fill="#fff"/>
<rect x="201.6" y="728.2" width="103.1" height="15" fill="#fff"/>
<rect x="441.8" y="706.2" width="128.1" height="14" fill="#fff"/>
<rect x="459.3" y="724.2" width="94.6" height="15" fill="#fff"/>
<text x="174.1" y="677.7" font-size="22" textLength="140.1" lengthAdjust="spacingAndGlyphs">Compressive</text>
<text x="182.6" y="704.2" font-size="22" textLength="122.6" lengthAdjust="spacingAndGlyphs">stress zone</text>
<text x="419.3" y="674.2" font-size="22" textLength="147.1" lengthAdjust="spacingAndGlyphs">Tensile stress</text>
<text x="467.8" y="700.7" font-size="22" textLength="52.5" lengthAdjust="spacingAndGlyphs">zone</text>
<text x="166.6" y="722.2" font-size="14.5" textLength="171.1" lengthAdjust="spacingAndGlyphs" fill="#cf0f1a">Max compressive stress</text>
<text x="202.6" y="739.2" font-size="14.5" textLength="101.1" lengthAdjust="spacingAndGlyphs" font-style="italic" fill="#cf0f1a">σ<tspan font-size="9.0" dy="3.6">y</tspan><tspan dy="-3.6">d</tspan><tspan font-size="9.0" dy="-5.2">2</tspan><tspan dy="5.2">/F</tspan><tspan font-size="9.0" dy="3.6">n</tspan><tspan dy="-3.6" font-style="normal">=−0.269</tspan></text>
<text x="442.8" y="717.2" font-size="14.5" textLength="126.1" lengthAdjust="spacingAndGlyphs" fill="#cf0f1a">Max tensile stress</text>
<text x="460.3" y="735.2" font-size="14.5" textLength="92.6" lengthAdjust="spacingAndGlyphs" font-style="italic" fill="#cf0f1a">σ<tspan font-size="9.0" dy="3.6">y</tspan><tspan dy="-3.6">d</tspan><tspan font-size="9.0" dy="-5.2">2</tspan><tspan dy="5.2">/F</tspan><tspan font-size="9.0" dy="3.6">n</tspan><tspan dy="-3.6" font-style="normal">=0.578</tspan></text>
<line x1="244.2" y1="661.2" x2="259.7" y2="580.1" stroke="#000" stroke-width="4.1"/><polygon points="263.7,559.1 267.3,582.7 251.6,579.7" fill="#000"/>
<line x1="441.3" y1="654.2" x2="347.8" y2="588.8" stroke="#000" stroke-width="4.1"/><polygon points="330.2,576.6 353.3,582.9 344.1,596.0" fill="#000"/>
<line x1="460.3" y1="654.2" x2="445.4" y2="593.4" stroke="#000" stroke-width="4.1"/><polygon points="440.3,572.6 453.4,592.5 437.9,596.4" fill="#000"/>
</g>
<g id="a3">
<g transform="translate(389.3,850.8)" clip-path="url(#clipP)">
<use href="#k3ab" filter="url(#soft)"/>
</g>
<polygon points="194.8,850.8 389.3,929.6 583.8,850.8" fill="#c0c0c0"/>
<polyline points="194.8,851.4 389.3,930.2 583.8,851.4" fill="none" stroke="#333" stroke-width="1.6" stroke-dasharray="2.2 2.2"/>
<path d="M230.9,850.8v7M230.9,1088.4v-7M310.1,850.8v7M310.1,1088.4v-7M468.5,850.8v7M468.5,1088.4v-7M547.7,850.8v7M547.7,1088.4v-7M151.5,890.3h7M626.8,890.3h-7M151.5,929.8h7M626.8,929.8h-7M151.5,969.3h7M626.8,969.3h-7M151.5,1008.8h7M626.8,1008.8h-7M151.5,1048.3h7M626.8,1048.3h-7" stroke="#333" stroke-width="1.4" fill="none"/>
<path d="M151.5,850.8V1088.4H626.8V850.8" fill="none" stroke="#000" stroke-width="3.6"/>
<line x1="149.7" y1="850.8" x2="659.3" y2="850.8" stroke="#000" stroke-width="3.8"/>
<polygon points="670.8,850.8 655.3,846.0 658.3,850.8 655.3,855.6" fill="#000"/>
<line x1="389.3" y1="850.8" x2="389.3" y2="1103.8" stroke="#111" stroke-width="3"/>
<polygon points="389.3,1111.8 385.1,1097.8 389.3,1100.8 393.5,1097.8" fill="#000"/>
<text x="153.2" y="843.0" font-size="33" text-anchor="middle">−3</text>
<text x="232.4" y="843.0" font-size="33" text-anchor="middle">−2</text>
<text x="311.6" y="843.0" font-size="33" text-anchor="middle">−1</text>
<text x="389.3" y="843.0" font-size="33" text-anchor="middle">0</text>
<text x="468.5" y="843.0" font-size="33" text-anchor="middle">1</text>
<text x="547.7" y="843.0" font-size="33" text-anchor="middle">2</text>
<text x="626.9" y="843.0" font-size="33" text-anchor="middle">3</text>
<text x="649.3" y="845.5" font-size="33">Y</text>
<text x="141.7" y="863.6" font-size="33" text-anchor="end">0</text>
<text x="141.7" y="903.8" font-size="33" text-anchor="end">0.5</text>
<text x="141.7" y="944.0" font-size="33" text-anchor="end">1</text>
<text x="141.7" y="984.2" font-size="33" text-anchor="end">1.5</text>
<text x="141.7" y="1024.4" font-size="33" text-anchor="end">2</text>
<text x="141.7" y="1064.6" font-size="33" text-anchor="end">2.5</text>
<text x="141.7" y="1104.8" font-size="33" text-anchor="end">3</text>
<text transform="translate(83.8,968.8) rotate(-90)" text-anchor="middle" font-size="34" font-style="italic">z/d</text>
<text x="366.8" y="809.0" font-size="33" textLength="47.8" lengthAdjust="spacingAndGlyphs" font-style="italic">y/d</text>
<text x="48.5" y="805.0" font-size="33" textLength="58.5" lengthAdjust="spacingAndGlyphs">(a3)</text>
<text x="561.4" y="802.5" font-size="33" textLength="104.1" lengthAdjust="spacingAndGlyphs" font-style="italic" fill="#0b70c3">σ<tspan font-size="20.5" dy="8.2">z</tspan><tspan dy="-8.2">d</tspan><tspan font-size="20.5" dy="-11.9">2</tspan><tspan dy="11.9">/F</tspan><tspan font-size="20.5" dy="8.2">n</tspan></text>
<text x="350.2" y="1118.7" font-size="34">Z</text>
<rect x="260.7" y="899.8" width="47.0" height="13.7" fill="#fff"/>
<text x="261.7" y="911.9" font-size="14.8" textLength="45.0" lengthAdjust="spacingAndGlyphs">−0.288</text>
<rect x="251.7" y="915.8" width="48.0" height="13.7" fill="#fff"/>
<text x="252.7" y="927.9" font-size="14.8" textLength="46.0" lengthAdjust="spacingAndGlyphs">−0.214</text>
<rect x="235.7" y="939.3" width="47.0" height="13.7" fill="#fff"/>
<text x="236.7" y="951.4" font-size="14.8" textLength="45.0" lengthAdjust="spacingAndGlyphs">−0.140</text>
<rect x="189.1" y="971.8" width="47.0" height="13.7" fill="#fff"/>
<text x="190.1" y="984.0" font-size="14.8" textLength="45.0" lengthAdjust="spacingAndGlyphs">−0.066</text>
<rect x="349.2" y="949.3" width="38.0" height="13.7" fill="#fff"/>
<text x="350.2" y="961.5" font-size="14.8" textLength="36.0" lengthAdjust="spacingAndGlyphs">0.376</text>
<rect x="343.2" y="969.8" width="38.0" height="13.7" fill="#fff"/>
<text x="344.2" y="982.0" font-size="14.8" textLength="36.0" lengthAdjust="spacingAndGlyphs">0.224</text>
<rect x="337.7" y="1021.8" width="37.5" height="13.7" fill="#fff"/>
<text x="338.7" y="1034.0" font-size="14.8" textLength="35.5" lengthAdjust="spacingAndGlyphs">0.081</text>
<rect x="395.3" y="959.3" width="38.5" height="13.7" fill="#fff"/>
<text x="396.3" y="971.5" font-size="14.8" textLength="36.5" lengthAdjust="spacingAndGlyphs">0.302</text>
<rect x="394.3" y="995.8" width="38.0" height="13.7" fill="#fff"/>
<text x="395.3" y="1008.0" font-size="14.8" textLength="36.0" lengthAdjust="spacingAndGlyphs">0.155</text>
<rect x="454.3" y="908.3" width="47.0" height="13.7" fill="#fff"/>
<text x="455.3" y="920.4" font-size="14.8" textLength="45.0" lengthAdjust="spacingAndGlyphs">−0.288</text>
<rect x="445.3" y="928.3" width="47.0" height="13.7" fill="#fff"/>
<text x="446.3" y="940.4" font-size="14.8" textLength="45.0" lengthAdjust="spacingAndGlyphs">−0.214</text>
<rect x="491.8" y="939.3" width="47.0" height="13.7" fill="#fff"/>
<text x="492.8" y="951.4" font-size="14.8" textLength="45.0" lengthAdjust="spacingAndGlyphs">−0.140</text>
<rect x="539.4" y="962.3" width="47.0" height="13.7" fill="#fff"/>
<text x="540.4" y="974.5" font-size="14.8" textLength="45.0" lengthAdjust="spacingAndGlyphs">−0.066</text>
<rect x="186.6" y="997.2" width="140.6" height="24" fill="#fff"/>
<rect x="194.1" y="1024.7" width="124.6" height="24" fill="#fff"/>
<rect x="444.3" y="988.2" width="148.1" height="24" fill="#fff"/>
<rect x="491.8" y="1015.7" width="54.5" height="24" fill="#fff"/>
<rect x="171.6" y="1050.2" width="173.6" height="14" fill="#fff"/>
<rect x="208.1" y="1067.2" width="102.1" height="15" fill="#fff"/>
<rect x="459.3" y="1040.2" width="128.1" height="14" fill="#fff"/>
<rect x="477.8" y="1059.2" width="93.6" height="15" fill="#fff"/>
<text x="187.6" y="1015.2" font-size="22" textLength="138.6" lengthAdjust="spacingAndGlyphs">Compressive</text>
<text x="195.1" y="1042.7" font-size="22" textLength="122.6" lengthAdjust="spacingAndGlyphs">stress zone</text>
<text x="445.3" y="1006.2" font-size="22" textLength="146.1" lengthAdjust="spacingAndGlyphs">Tensile stress</text>
<text x="492.8" y="1033.7" font-size="22" textLength="52.5" lengthAdjust="spacingAndGlyphs">zone</text>
<text x="172.6" y="1061.2" font-size="14.5" textLength="171.6" lengthAdjust="spacingAndGlyphs" fill="#cf0f1a">Max compressive stress</text>
<text x="209.1" y="1078.2" font-size="14.5" textLength="100.1" lengthAdjust="spacingAndGlyphs" font-style="italic" fill="#cf0f1a">σ<tspan font-size="9.0" dy="3.6">z</tspan><tspan dy="-3.6">d</tspan><tspan font-size="9.0" dy="-5.2">2</tspan><tspan dy="5.2">/F</tspan><tspan font-size="9.0" dy="3.6">n</tspan><tspan dy="-3.6" font-style="normal">=−0.509</tspan></text>
<text x="460.3" y="1051.2" font-size="14.5" textLength="126.1" lengthAdjust="spacingAndGlyphs" fill="#cf0f1a">Max tensile stress</text>
<text x="478.8" y="1070.2" font-size="14.5" textLength="91.6" lengthAdjust="spacingAndGlyphs" font-style="italic" fill="#cf0f1a">σ<tspan font-size="9.0" dy="3.6">z</tspan><tspan dy="-3.6">d</tspan><tspan font-size="9.0" dy="-5.2">2</tspan><tspan dy="5.2">/F</tspan><tspan font-size="9.0" dy="3.6">n</tspan><tspan dy="-3.6" font-style="normal">=1.039</tspan></text>
<line x1="274.2" y1="1001.2" x2="306.0" y2="934.4" stroke="#000" stroke-width="4.1"/><polygon points="315.2,915.1 312.8,938.9 298.3,932.0" fill="#000"/>
<line x1="492.8" y1="979.1" x2="432.8" y2="944.7" stroke="#000" stroke-width="4.1"/><polygon points="414.3,934.1 437.8,938.4 429.8,952.2" fill="#000"/>
</g>
<g id="b1">
<g transform="translate(389.3,1303.0)" clip-path="url(#clipP)">
<use href="#k1ab" filter="url(#soft)"/>
</g>
<polygon points="194.8,1303.0 389.3,1381.8 583.8,1303.0" fill="#c0c0c0"/>
<polyline points="194.8,1303.6 389.3,1382.4 583.8,1303.6" fill="none" stroke="#333" stroke-width="1.6" stroke-dasharray="2.2 2.2"/>
<path d="M230.9,1303.0v7M230.9,1540.6v-7M310.1,1303.0v7M310.1,1540.6v-7M468.5,1303.0v7M468.5,1540.6v-7M547.7,1303.0v7M547.7,1540.6v-7M151.5,1342.5h7M626.8,1342.5h-7M151.5,1382.0h7M626.8,1382.0h-7M151.5,1421.5h7M626.8,1421.5h-7M151.5,1461.0h7M626.8,1461.0h-7M151.5,1500.5h7M626.8,1500.5h-7" stroke="#333" stroke-width="1.4" fill="none"/>
<path d="M151.5,1303.0V1540.6H626.8V1303.0" fill="none" stroke="#000" stroke-width="3.6"/>
<line x1="149.7" y1="1303.0" x2="659.3" y2="1303.0" stroke="#000" stroke-width="3.8"/>
<polygon points="670.8,1303.0 655.3,1298.2 658.3,1303.0 655.3,1307.8" fill="#000"/>
<line x1="389.3" y1="1303.0" x2="389.3" y2="1556.0" stroke="#111" stroke-width="3"/>
<polygon points="389.3,1564.0 385.1,1550.0 389.3,1553.0 393.5,1550.0" fill="#000"/>
<text x="153.2" y="1292.2" font-size="33" text-anchor="middle">−3</text>
<text x="232.4" y="1292.2" font-size="33" text-anchor="middle">−2</text>
<text x="311.6" y="1292.2" font-size="33" text-anchor="middle">−1</text>
<text x="389.3" y="1292.2" font-size="33" text-anchor="middle">0</text>
<text x="468.5" y="1292.2" font-size="33" text-anchor="middle">1</text>
<text x="547.7" y="1292.2" font-size="33" text-anchor="middle">2</text>
<text x="626.9" y="1292.2" font-size="33" text-anchor="middle">3</text>
<text x="649.3" y="1294.7" font-size="33">Y</text>
<text x="141.7" y="1312.6" font-size="33" text-anchor="end">0</text>
<text x="141.7" y="1352.8" font-size="33" text-anchor="end">0.5</text>
<text x="141.7" y="1393.0" font-size="33" text-anchor="end">1</text>
<text x="141.7" y="1433.2" font-size="33" text-anchor="end">1.5</text>
<text x="141.7" y="1473.4" font-size="33" text-anchor="end">2</text>
<text x="141.7" y="1513.6" font-size="33" text-anchor="end">2.5</text>
<text x="141.7" y="1553.8" font-size="33" text-anchor="end">3</text>
<text transform="translate(83.8,1421.0) rotate(-90)" text-anchor="middle" font-size="34" font-style="italic">z/d</text>
<text x="369.3" y="1250.1" font-size="33" textLength="47.8" lengthAdjust="spacingAndGlyphs" font-style="italic">y/d</text>
<text x="48.5" y="1252.6" font-size="33" textLength="58.5" lengthAdjust="spacingAndGlyphs">(b1)</text>
<text x="371.3" y="1200.0" font-size="33" text-anchor="middle">(b)</text>
<text x="564.4" y="1254.1" font-size="33" textLength="105.1" lengthAdjust="spacingAndGlyphs" font-style="italic" fill="#0b70c3">σ<tspan font-size="20.5" dy="8.2">x</tspan><tspan dy="-8.2">d</tspan><tspan font-size="20.5" dy="-11.9">2</tspan><tspan dy="11.9">/F</tspan><tspan font-size="20.5" dy="8.2">n</tspan></text>
<text x="357.7" y="1570.3" font-size="34">Z</text>
<rect x="205.6" y="1334.8" width="47.0" height="13.7" fill="#fff"/>
<text x="206.6" y="1347.0" font-size="14.8" textLength="45.0" lengthAdjust="spacingAndGlyphs">−0.048</text>
<rect x="183.1" y="1350.8" width="47.0" height="13.7" fill="#fff"/>
<text x="184.1" y="1363.0" font-size="14.8" textLength="45.0" lengthAdjust="spacingAndGlyphs">−0.033</text>
<rect x="159.1" y="1396.9" width="47.0" height="13.7" fill="#fff"/>
<text x="160.1" y="1409.0" font-size="14.8" textLength="45.0" lengthAdjust="spacingAndGlyphs">−0.018</text>
<rect x="345.2" y="1406.4" width="38.5" height="13.7" fill="#fff"/>
<text x="346.2" y="1418.5" font-size="14.8" textLength="36.5" lengthAdjust="spacingAndGlyphs">0.086</text>
<rect x="342.7" y="1430.9" width="38.5" height="13.7" fill="#fff"/>
<text x="343.7" y="1443.0" font-size="14.8" textLength="36.5" lengthAdjust="spacingAndGlyphs">0.056</text>
<rect x="345.2" y="1498.4" width="38.5" height="13.7" fill="#fff"/>
<text x="346.2" y="1510.6" font-size="14.8" textLength="36.5" lengthAdjust="spacingAndGlyphs">0.026</text>
<rect x="396.8" y="1422.4" width="38.5" height="13.7" fill="#fff"/>
<text x="397.8" y="1434.5" font-size="14.8" textLength="36.5" lengthAdjust="spacingAndGlyphs">0.071</text>
<rect x="395.8" y="1462.4" width="38.5" height="13.7" fill="#fff"/>
<text x="396.8" y="1474.6" font-size="14.8" textLength="36.5" lengthAdjust="spacingAndGlyphs">0.041</text>
<rect x="528.4" y="1335.8" width="47.0" height="13.7" fill="#fff"/>
<text x="529.4" y="1348.0" font-size="14.8" textLength="45.0" lengthAdjust="spacingAndGlyphs">−0.048</text>
<rect x="540.4" y="1360.3" width="47.0" height="13.7" fill="#fff"/>
<text x="541.4" y="1372.5" font-size="14.8" textLength="45.0" lengthAdjust="spacingAndGlyphs">−0.033</text>
<rect x="558.4" y="1396.4" width="47.0" height="13.7" fill="#fff"/>
<text x="559.4" y="1408.5" font-size="14.8" textLength="45.0" lengthAdjust="spacingAndGlyphs">−0.018</text>
<rect x="169.1" y="1442.2" width="142.1" height="24" fill="#fff"/>
<rect x="177.6" y="1469.2" width="124.6" height="24" fill="#fff"/>
<rect x="456.8" y="1450.2" width="148.6" height="24" fill="#fff"/>
<rect x="505.3" y="1477.2" width="54.5" height="24" fill="#fff"/>
<rect x="169.1" y="1502.8" width="173.1" height="14" fill="#fff"/>
<rect x="204.1" y="1520.8" width="103.1" height="15" fill="#fff"/>
<rect x="465.3" y="1501.3" width="128.1" height="14" fill="#fff"/>
<rect x="482.8" y="1519.3" width="94.6" height="15" fill="#fff"/>
<text x="170.1" y="1460.2" font-size="22" textLength="140.1" lengthAdjust="spacingAndGlyphs">Compressive</text>
<text x="178.6" y="1487.2" font-size="22" textLength="122.6" lengthAdjust="spacingAndGlyphs">stress zone</text>
<text x="457.8" y="1468.2" font-size="22" textLength="146.6" lengthAdjust="spacingAndGlyphs">Tensile stress</text>
<text x="506.3" y="1495.2" font-size="22" textLength="52.5" lengthAdjust="spacingAndGlyphs">zone</text>
<text x="170.1" y="1513.8" font-size="14.5" textLength="171.1" lengthAdjust="spacingAndGlyphs" fill="#cf0f1a">Max compressive stress</text>
<text x="205.1" y="1531.8" font-size="14.5" textLength="101.1" lengthAdjust="spacingAndGlyphs" font-style="italic" fill="#cf0f1a">σ<tspan font-size="9.0" dy="3.6">x</tspan><tspan dy="-3.6">d</tspan><tspan font-size="9.0" dy="-5.2">2</tspan><tspan dy="5.2">/F</tspan><tspan font-size="9.0" dy="3.6">n</tspan><tspan dy="-3.6" font-style="normal">=−0.076</tspan></text>
<text x="466.3" y="1512.3" font-size="14.5" textLength="126.1" lengthAdjust="spacingAndGlyphs" fill="#cf0f1a">Max tensile stress</text>
<text x="483.8" y="1530.3" font-size="14.5" textLength="92.6" lengthAdjust="spacingAndGlyphs" font-style="italic" fill="#cf0f1a">σ<tspan font-size="9.0" dy="3.6">x</tspan><tspan dy="-3.6">d</tspan><tspan font-size="9.0" dy="-5.2">2</tspan><tspan dy="5.2">/F</tspan><tspan font-size="9.0" dy="3.6">n</tspan><tspan dy="-3.6" font-style="normal">=0.234</tspan></text>
<line x1="220.2" y1="1445.2" x2="260.2" y2="1369.1" stroke="#000" stroke-width="4.1"/><polygon points="270.2,1350.1 266.8,1373.8 252.6,1366.3" fill="#000"/>
<line x1="487.8" y1="1449.2" x2="431.7" y2="1395.0" stroke="#000" stroke-width="4.1"/><polygon points="416.3,1380.2 438.0,1390.0 426.9,1401.5" fill="#000"/>
</g>
<g id="b2">
<g transform="translate(389.3,1643.5)" clip-path="url(#clipP)">
<use href="#k2ab" filter="url(#soft)"/>
</g>
<polygon points="194.8,1643.5 389.3,1722.3 583.8,1643.5" fill="#c0c0c0"/>
<polyline points="194.8,1644.1 389.3,1722.9 583.8,1644.1" fill="none" stroke="#333" stroke-width="1.6" stroke-dasharray="2.2 2.2"/>
<path d="M230.9,1643.5v7M230.9,1881.1v-7M310.1,1643.5v7M310.1,1881.1v-7M468.5,1643.5v7M468.5,1881.1v-7M547.7,1643.5v7M547.7,1881.1v-7M151.5,1683.0h7M626.8,1683.0h-7M151.5,1722.5h7M626.8,1722.5h-7M151.5,1762.0h7M626.8,1762.0h-7M151.5,1801.5h7M626.8,1801.5h-7M151.5,1841.0h7M626.8,1841.0h-7" stroke="#333" stroke-width="1.4" fill="none"/>
<path d="M151.5,1643.5V1881.1H626.8V1643.5" fill="none" stroke="#000" stroke-width="3.6"/>
<line x1="149.7" y1="1643.5" x2="659.3" y2="1643.5" stroke="#000" stroke-width="3.8"/>
<polygon points="670.8,1643.5 655.3,1638.7 658.3,1643.5 655.3,1648.3" fill="#000"/>
<line x1="389.3" y1="1643.5" x2="389.3" y2="1896.5" stroke="#111" stroke-width="3"/>
<polygon points="389.3,1904.5 385.1,1890.5 389.3,1893.5 393.5,1890.5" fill="#000"/>
<text x="153.2" y="1632.0" font-size="33" text-anchor="middle">−3</text>
<text x="232.4" y="1632.0" font-size="33" text-anchor="middle">−2</text>
<text x="311.6" y="1632.0" font-size="33" text-anchor="middle">−1</text>
<text x="389.3" y="1632.0" font-size="33" text-anchor="middle">0</text>
<text x="468.5" y="1632.0" font-size="33" text-anchor="middle">1</text>
<text x="547.7" y="1632.0" font-size="33" text-anchor="middle">2</text>
<text x="626.9" y="1632.0" font-size="33" text-anchor="middle">3</text>
<text x="649.3" y="1634.5" font-size="33">Y</text>
<text x="141.7" y="1652.6" font-size="33" text-anchor="end">0</text>
<text x="141.7" y="1692.8" font-size="33" text-anchor="end">0.5</text>
<text x="141.7" y="1733.0" font-size="33" text-anchor="end">1</text>
<text x="141.7" y="1773.2" font-size="33" text-anchor="end">1.5</text>
<text x="141.7" y="1813.4" font-size="33" text-anchor="end">2</text>
<text x="141.7" y="1853.6" font-size="33" text-anchor="end">2.5</text>
<text x="141.7" y="1893.8" font-size="33" text-anchor="end">3</text>
<text transform="translate(83.8,1761.5) rotate(-90)" text-anchor="middle" font-size="34" font-style="italic">z/d</text>
<text x="365.3" y="1597.5" font-size="33" textLength="47.8" lengthAdjust="spacingAndGlyphs" font-style="italic">y/d</text>
<text x="50.0" y="1595.0" font-size="33" textLength="58.5" lengthAdjust="spacingAndGlyphs">(b2)</text>
<text x="560.4" y="1594.0" font-size="33" textLength="106.6" lengthAdjust="spacingAndGlyphs" font-style="italic" fill="#0b70c3">σ<tspan font-size="20.5" dy="8.2">x</tspan><tspan dy="-8.2">d</tspan><tspan font-size="20.5" dy="-11.9">2</tspan><tspan dy="11.9">/F</tspan><tspan font-size="20.5" dy="8.2">n</tspan></text>
<text x="352.7" y="1907.7" font-size="34">Z</text>
<rect x="186.6" y="1665.7" width="47.0" height="13.7" fill="#fff"/>
<text x="187.6" y="1677.9" font-size="14.8" textLength="45.0" lengthAdjust="spacingAndGlyphs">−0.157</text>
<rect x="177.6" y="1685.8" width="47.0" height="13.7" fill="#fff"/>
<text x="178.6" y="1697.9" font-size="14.8" textLength="45.0" lengthAdjust="spacingAndGlyphs">−0.116</text>
<rect x="171.6" y="1705.3" width="47.0" height="13.7" fill="#fff"/>
<text x="172.6" y="1717.4" font-size="14.8" textLength="45.0" lengthAdjust="spacingAndGlyphs">−0.076</text>
<rect x="177.6" y="1732.3" width="47.0" height="13.7" fill="#fff"/>
<text x="178.6" y="1744.5" font-size="14.8" textLength="45.0" lengthAdjust="spacingAndGlyphs">−0.035</text>
<rect x="289.2" y="1713.3" width="38.5" height="13.7" fill="#fff"/>
<text x="290.2" y="1725.4" font-size="14.8" textLength="36.5" lengthAdjust="spacingAndGlyphs">0.207</text>
<rect x="292.7" y="1728.3" width="38.5" height="13.7" fill="#fff"/>
<text x="293.7" y="1740.4" font-size="14.8" textLength="36.5" lengthAdjust="spacingAndGlyphs">0.167</text>
<rect x="288.2" y="1745.3" width="38.5" height="13.7" fill="#fff"/>
<text x="289.2" y="1757.5" font-size="14.8" textLength="36.5" lengthAdjust="spacingAndGlyphs">0.126</text>
<rect x="268.2" y="1766.8" width="38.5" height="13.7" fill="#fff"/>
<text x="269.2" y="1779.0" font-size="14.8" textLength="36.5" lengthAdjust="spacingAndGlyphs">0.086</text>
<rect x="328.2" y="1773.3" width="38.5" height="13.7" fill="#fff"/>
<text x="329.2" y="1785.5" font-size="14.8" textLength="36.5" lengthAdjust="spacingAndGlyphs">0.045</text>
<rect x="448.3" y="1714.3" width="38.5" height="13.7" fill="#fff"/>
<text x="449.3" y="1726.4" font-size="14.8" textLength="36.5" lengthAdjust="spacingAndGlyphs">0.207</text>
<rect x="451.8" y="1728.8" width="38.5" height="13.7" fill="#fff"/>
<text x="452.8" y="1740.9" font-size="14.8" textLength="36.5" lengthAdjust="spacingAndGlyphs">0.167</text>
<rect x="460.8" y="1743.8" width="38.5" height="13.7" fill="#fff"/>
<text x="461.8" y="1756.0" font-size="14.8" textLength="36.5" lengthAdjust="spacingAndGlyphs">0.126</text>
<rect x="475.8" y="1759.8" width="38.5" height="13.7" fill="#fff"/>
<text x="476.8" y="1772.0" font-size="14.8" textLength="36.5" lengthAdjust="spacingAndGlyphs">0.086</text>
<rect x="508.4" y="1779.3" width="38.5" height="13.7" fill="#fff"/>
<text x="509.4" y="1791.5" font-size="14.8" textLength="36.5" lengthAdjust="spacingAndGlyphs">0.045</text>
<rect x="545.4" y="1658.2" width="47.0" height="13.7" fill="#fff"/>
<text x="546.4" y="1670.4" font-size="14.8" textLength="45.0" lengthAdjust="spacingAndGlyphs">−0.157</text>
<rect x="555.9" y="1675.8" width="47.0" height="13.7" fill="#fff"/>
<text x="556.9" y="1687.9" font-size="14.8" textLength="45.0" lengthAdjust="spacingAndGlyphs">−0.116</text>
<rect x="560.4" y="1704.8" width="47.0" height="13.7" fill="#fff"/>
<text x="561.4" y="1716.9" font-size="14.8" textLength="45.0" lengthAdjust="spacingAndGlyphs">−0.076</text>
<rect x="550.4" y="1729.3" width="47.0" height="13.7" fill="#fff"/>
<text x="551.4" y="1741.4" font-size="14.8" textLength="45.0" lengthAdjust="spacingAndGlyphs">−0.035</text>
<rect x="170.1" y="1786.2" width="141.1" height="24" fill="#fff"/>
<rect x="178.1" y="1813.2" width="124.6" height="24" fill="#fff"/>
<rect x="415.3" y="1792.2" width="149.6" height="24" fill="#fff"/>
<rect x="464.3" y="1818.7" width="54.5" height="24" fill="#fff"/>
<rect x="167.6" y="1840.2" width="173.6" height="14" fill="#fff"/>
<rect x="203.1" y="1857.7" width="102.1" height="15" fill="#fff"/>
<rect x="435.8" y="1842.7" width="128.6" height="14" fill="#fff"/>
<rect x="453.3" y="1860.2" width="94.1" height="15" fill="#fff"/>
<text x="171.1" y="1804.2" font-size="22" textLength="139.1" lengthAdjust="spacingAndGlyphs">Compressive</text>
<text x="179.1" y="1831.2" font-size="22" textLength="122.6" lengthAdjust="spacingAndGlyphs">stress zone</text>
<text x="416.3" y="1810.2" font-size="22" textLength="147.6" lengthAdjust="spacingAndGlyphs">Tensile stress</text>
<text x="465.3" y="1836.7" font-size="22" textLength="52.5" lengthAdjust="spacingAndGlyphs">zone</text>
<text x="168.6" y="1851.2" font-size="14.5" textLength="171.6" lengthAdjust="spacingAndGlyphs" fill="#cf0f1a">Max compressive stress</text>
<text x="204.1" y="1868.7" font-size="14.5" textLength="100.1" lengthAdjust="spacingAndGlyphs" font-style="italic" fill="#cf0f1a">σ<tspan font-size="9.0" dy="3.6">y</tspan><tspan dy="-3.6">d</tspan><tspan font-size="9.0" dy="-5.2">2</tspan><tspan dy="5.2">/F</tspan><tspan font-size="9.0" dy="3.6">n</tspan><tspan dy="-3.6" font-style="normal">=−0.278</tspan></text>
<text x="436.8" y="1853.7" font-size="14.5" textLength="126.6" lengthAdjust="spacingAndGlyphs" fill="#cf0f1a">Max tensile stress</text>
<text x="454.3" y="1871.2" font-size="14.5" textLength="92.1" lengthAdjust="spacingAndGlyphs" font-style="italic" fill="#cf0f1a">σ<tspan font-size="9.0" dy="3.6">y</tspan><tspan dy="-3.6">d</tspan><tspan font-size="9.0" dy="-5.2">2</tspan><tspan dy="5.2">/F</tspan><tspan font-size="9.0" dy="3.6">n</tspan><tspan dy="-3.6" font-style="normal">=0.571</tspan></text>
<line x1="242.7" y1="1784.2" x2="262.7" y2="1700.9" stroke="#000" stroke-width="4.1"/><polygon points="267.7,1680.1 270.2,1703.8 254.6,1700.1" fill="#000"/>
<line x1="427.8" y1="1787.7" x2="358.2" y2="1721.3" stroke="#000" stroke-width="4.1"/><polygon points="342.7,1706.6 364.5,1716.3 353.5,1727.9" fill="#000"/>
<line x1="449.3" y1="1787.7" x2="437.2" y2="1731.0" stroke="#000" stroke-width="4.1"/><polygon points="432.8,1710.1 445.3,1730.4 429.7,1733.8" fill="#000"/>
</g>
<g id="b3">
<g transform="translate(389.3,1983.7)" clip-path="url(#clipP)">
<use href="#k3ab" filter="url(#soft)"/>
</g>
<polygon points="194.8,1983.7 389.3,2062.5 583.8,1983.7" fill="#c0c0c0"/>
<polyline points="194.8,1984.3 389.3,2063.1 583.8,1984.3" fill="none" stroke="#333" stroke-width="1.6" stroke-dasharray="2.2 2.2"/>
<path d="M230.9,1983.7v7M230.9,2221.3v-7M310.1,1983.7v7M310.1,2221.3v-7M468.5,1983.7v7M468.5,2221.3v-7M547.7,1983.7v7M547.7,2221.3v-7M151.5,2023.2h7M626.8,2023.2h-7M151.5,2062.7h7M626.8,2062.7h-7M151.5,2102.2h7M626.8,2102.2h-7M151.5,2141.7h7M626.8,2141.7h-7M151.5,2181.2h7M626.8,2181.2h-7" stroke="#333" stroke-width="1.4" fill="none"/>
<path d="M151.5,1983.7V2221.3H626.8V1983.7" fill="none" stroke="#000" stroke-width="3.6"/>
<line x1="149.7" y1="1983.7" x2="659.3" y2="1983.7" stroke="#000" stroke-width="3.8"/>
<polygon points="670.8,1983.7 655.3,1978.9 658.3,1983.7 655.3,1988.5" fill="#000"/>
<line x1="389.3" y1="1983.7" x2="389.3" y2="2236.7" stroke="#111" stroke-width="3"/>
<polygon points="389.3,2244.7 385.1,2230.7 389.3,2233.7 393.5,2230.7" fill="#000"/>
<text x="153.2" y="1973.0" font-size="33" text-anchor="middle">−3</text>
<text x="232.4" y="1973.0" font-size="33" text-anchor="middle">−2</text>
<text x="311.6" y="1973.0" font-size="33" text-anchor="middle">−1</text>
<text x="389.3" y="1973.0" font-size="33" text-anchor="middle">0</text>
<text x="468.5" y="1973.0" font-size="33" text-anchor="middle">1</text>
<text x="547.7" y="1973.0" font-size="33" text-anchor="middle">2</text>
<text x="626.9" y="1973.0" font-size="33" text-anchor="middle">3</text>
<text x="649.3" y="1975.5" font-size="33">Y</text>
<text x="141.7" y="1993.6" font-size="33" text-anchor="end">0</text>
<text x="141.7" y="2033.8" font-size="33" text-anchor="end">0.5</text>
<text x="141.7" y="2074.0" font-size="33" text-anchor="end">1</text>
<text x="141.7" y="2114.2" font-size="33" text-anchor="end">1.5</text>
<text x="141.7" y="2154.4" font-size="33" text-anchor="end">2</text>
<text x="141.7" y="2194.6" font-size="33" text-anchor="end">2.5</text>
<text x="141.7" y="2234.8" font-size="33" text-anchor="end">3</text>
<text transform="translate(83.8,2101.7) rotate(-90)" text-anchor="middle" font-size="34" font-style="italic">z/d</text>
<text x="366.8" y="1937.5" font-size="33" textLength="47.8" lengthAdjust="spacingAndGlyphs" font-style="italic">y/d</text>
<text x="48.5" y="1935.0" font-size="33" textLength="58.5" lengthAdjust="spacingAndGlyphs">(b3)</text>
<text x="562.9" y="1936.0" font-size="33" textLength="104.1" lengthAdjust="spacingAndGlyphs" font-style="italic" fill="#0b70c3">σ<tspan font-size="20.5" dy="8.2">z</tspan><tspan dy="-8.2">d</tspan><tspan font-size="20.5" dy="-11.9">2</tspan><tspan dy="11.9">/F</tspan><tspan font-size="20.5" dy="8.2">n</tspan></text>
<text x="351.7" y="2250.2" font-size="34">Z</text>
<rect x="269.2" y="2038.3" width="47.0" height="13.7" fill="#fff"/>
<text x="270.2" y="2050.4" font-size="14.8" textLength="45.0" lengthAdjust="spacingAndGlyphs">−0.303</text>
<rect x="256.7" y="2055.8" width="47.0" height="13.7" fill="#fff"/>
<text x="257.7" y="2067.9" font-size="14.8" textLength="45.0" lengthAdjust="spacingAndGlyphs">−0.230</text>
<rect x="240.2" y="2072.3" width="47.0" height="13.7" fill="#fff"/>
<text x="241.2" y="2084.5" font-size="14.8" textLength="45.0" lengthAdjust="spacingAndGlyphs">−0.158</text>
<rect x="187.6" y="2107.3" width="47.0" height="13.7" fill="#fff"/>
<text x="188.6" y="2119.5" font-size="14.8" textLength="45.0" lengthAdjust="spacingAndGlyphs">−0.085</text>
<rect x="346.7" y="2084.8" width="38.5" height="13.7" fill="#fff"/>
<text x="347.7" y="2097.0" font-size="14.8" textLength="36.5" lengthAdjust="spacingAndGlyphs">0.352</text>
<rect x="345.2" y="2108.3" width="38.5" height="13.7" fill="#fff"/>
<text x="346.2" y="2120.5" font-size="14.8" textLength="36.5" lengthAdjust="spacingAndGlyphs">0.206</text>
<rect x="337.7" y="2169.9" width="37.5" height="13.7" fill="#fff"/>
<text x="338.7" y="2182.0" font-size="14.8" textLength="35.5" lengthAdjust="spacingAndGlyphs">0.061</text>
<rect x="392.8" y="2097.3" width="38.5" height="13.7" fill="#fff"/>
<text x="393.8" y="2109.5" font-size="14.8" textLength="36.5" lengthAdjust="spacingAndGlyphs">0.279</text>
<rect x="392.8" y="2126.8" width="38.5" height="13.7" fill="#fff"/>
<text x="393.8" y="2139.0" font-size="14.8" textLength="36.5" lengthAdjust="spacingAndGlyphs">0.134</text>
<rect x="454.3" y="2039.3" width="47.0" height="13.7" fill="#fff"/>
<text x="455.3" y="2051.4" font-size="14.8" textLength="45.0" lengthAdjust="spacingAndGlyphs">−0.303</text>
<rect x="459.3" y="2055.8" width="47.0" height="13.7" fill="#fff"/>
<text x="460.3" y="2067.9" font-size="14.8" textLength="45.0" lengthAdjust="spacingAndGlyphs">−0.230</text>
<rect x="490.3" y="2071.8" width="47.0" height="13.7" fill="#fff"/>
<text x="491.3" y="2084.0" font-size="14.8" textLength="45.0" lengthAdjust="spacingAndGlyphs">−0.158</text>
<rect x="541.9" y="2099.8" width="47.0" height="13.7" fill="#fff"/>
<text x="542.9" y="2112.0" font-size="14.8" textLength="45.0" lengthAdjust="spacingAndGlyphs">−0.085</text>
<rect x="189.1" y="2129.7" width="140.6" height="24" fill="#fff"/>
<rect x="197.6" y="2156.2" width="123.6" height="24" fill="#fff"/>
<rect x="439.3" y="2131.2" width="148.1" height="24" fill="#fff"/>
<rect x="486.8" y="2158.2" width="55.5" height="24" fill="#fff"/>
<rect x="173.1" y="2181.7" width="174.1" height="14" fill="#fff"/>
<rect x="209.1" y="2199.2" width="102.1" height="15" fill="#fff"/>
<rect x="459.3" y="2180.7" width="129.1" height="14" fill="#fff"/>
<rect x="477.8" y="2198.2" width="93.6" height="15" fill="#fff"/>
<text x="190.1" y="2147.7" font-size="22" textLength="138.6" lengthAdjust="spacingAndGlyphs">Compressive</text>
<text x="198.6" y="2174.2" font-size="22" textLength="121.6" lengthAdjust="spacingAndGlyphs">stress zone</text>
<text x="440.3" y="2149.2" font-size="22" textLength="146.1" lengthAdjust="spacingAndGlyphs">Tensile stress</text>
<text x="487.8" y="2176.2" font-size="22" textLength="53.5" lengthAdjust="spacingAndGlyphs">zone</text>
<text x="174.1" y="2192.7" font-size="14.5" textLength="172.1" lengthAdjust="spacingAndGlyphs" fill="#cf0f1a">Max compressive stress</text>
<text x="210.1" y="2210.2" font-size="14.5" textLength="100.1" lengthAdjust="spacingAndGlyphs" font-style="italic" fill="#cf0f1a">σ<tspan font-size="9.0" dy="3.6">z</tspan><tspan dy="-3.6">d</tspan><tspan font-size="9.0" dy="-5.2">2</tspan><tspan dy="5.2">/F</tspan><tspan font-size="9.0" dy="3.6">n</tspan><tspan dy="-3.6" font-style="normal">=−0.522</tspan></text>
<text x="460.3" y="2191.7" font-size="14.5" textLength="127.1" lengthAdjust="spacingAndGlyphs" fill="#cf0f1a">Max tensile stress</text>
<text x="478.8" y="2209.2" font-size="14.5" textLength="91.6" lengthAdjust="spacingAndGlyphs" font-style="italic" fill="#cf0f1a">σ<tspan font-size="9.0" dy="3.6">z</tspan><tspan dy="-3.6">d</tspan><tspan font-size="9.0" dy="-5.2">2</tspan><tspan dy="5.2">/F</tspan><tspan font-size="9.0" dy="3.6">n</tspan><tspan dy="-3.6" font-style="normal">=1.007</tspan></text>
<line x1="287.7" y1="2127.7" x2="316.5" y2="2063.6" stroke="#000" stroke-width="4.1"/><polygon points="325.2,2044.1 323.3,2067.9 308.7,2061.3" fill="#000"/>
<line x1="514.4" y1="2125.2" x2="434.3" y2="2074.1" stroke="#000" stroke-width="4.1"/><polygon points="416.3,2062.6 439.6,2068.0 431.0,2081.5" fill="#000"/>
</g>
<g id="c1">
<g transform="translate(1115.6,169.5)" clip-path="url(#clipP)">
<use href="#k1cd" filter="url(#soft)"/>
</g>
<polygon points="921.1,169.5 1115.6,248.3 1310.1,169.5" fill="#c0c0c0"/>
<polyline points="921.1,170.1 1115.6,248.9 1310.1,170.1" fill="none" stroke="#333" stroke-width="1.6" stroke-dasharray="2.2 2.2"/>
<path d="M957.2,169.5v7M957.2,407.1v-7M1036.4,169.5v7M1036.4,407.1v-7M1194.8,169.5v7M1194.8,407.1v-7M1274.0,169.5v7M1274.0,407.1v-7M877.8,209.0h7M1353.1,209.0h-7M877.8,248.5h7M1353.1,248.5h-7M877.8,288.0h7M1353.1,288.0h-7M877.8,327.5h7M1353.1,327.5h-7M877.8,367.0h7M1353.1,367.0h-7" stroke="#333" stroke-width="1.4" fill="none"/>
<path d="M877.8,169.5V407.1H1353.1V169.5" fill="none" stroke="#000" stroke-width="3.6"/>
<line x1="876.0" y1="169.5" x2="1385.6" y2="169.5" stroke="#000" stroke-width="3.8"/>
<polygon points="1397.1,169.5 1381.6,164.7 1384.6,169.5 1381.6,174.3" fill="#000"/>
<line x1="1115.6" y1="169.5" x2="1115.6" y2="422.5" stroke="#111" stroke-width="3"/>
<polygon points="1115.6,430.5 1111.4,416.5 1115.6,419.5 1119.8,416.5" fill="#000"/>
<text x="879.5" y="159.1" font-size="33" text-anchor="middle">−3</text>
<text x="958.7" y="159.1" font-size="33" text-anchor="middle">−2</text>
<text x="1037.9" y="159.1" font-size="33" text-anchor="middle">−1</text>
<text x="1115.6" y="159.1" font-size="33" text-anchor="middle">0</text>
<text x="1194.8" y="159.1" font-size="33" text-anchor="middle">1</text>
<text x="1274.0" y="159.1" font-size="33" text-anchor="middle">2</text>
<text x="1353.2" y="159.1" font-size="33" text-anchor="middle">3</text>
<text x="1375.6" y="161.6" font-size="33">Y</text>
<text x="868.0" y="179.7" font-size="33" text-anchor="end">0</text>
<text x="868.0" y="219.9" font-size="33" text-anchor="end">0.5</text>
<text x="868.0" y="260.1" font-size="33" text-anchor="end">1</text>
<text x="868.0" y="300.3" font-size="33" text-anchor="end">1.5</text>
<text x="868.0" y="340.5" font-size="33" text-anchor="end">2</text>
<text x="868.0" y="380.7" font-size="33" text-anchor="end">2.5</text>
<text x="868.0" y="420.9" font-size="33" text-anchor="end">3</text>
<text transform="translate(810.1,287.5) rotate(-90)" text-anchor="middle" font-size="34" font-style="italic">z/d</text>
<text x="1093.1" y="116.1" font-size="33" textLength="47.8" lengthAdjust="spacingAndGlyphs" font-style="italic">y/d</text>
<text x="774.8" y="121.6" font-size="33" textLength="58.5" lengthAdjust="spacingAndGlyphs">(c1)</text>
<text x="1083.0" y="61.0" font-size="33" text-anchor="middle">(c)</text>
<text x="1288.2" y="121.6" font-size="33" textLength="106.1" lengthAdjust="spacingAndGlyphs" font-style="italic" fill="#0b70c3">σ<tspan font-size="20.5" dy="8.2">x</tspan><tspan dy="-8.2">d</tspan><tspan font-size="20.5" dy="-11.9">2</tspan><tspan dy="11.9">/F</tspan><tspan font-size="20.5" dy="8.2">n</tspan></text>
<text x="1082.5" y="437.8" font-size="34">Z</text>
<rect x="903.9" y="185.8" width="47.0" height="13.7" fill="#fff"/>
<text x="904.9" y="198.0" font-size="14.8" textLength="45.0" lengthAdjust="spacingAndGlyphs">−0.017</text>
<rect x="894.4" y="226.3" width="47.0" height="13.7" fill="#fff"/>
<text x="895.4" y="238.5" font-size="14.8" textLength="45.0" lengthAdjust="spacingAndGlyphs">−0.012</text>
<rect x="898.9" y="258.4" width="47.0" height="13.7" fill="#fff"/>
<text x="899.9" y="270.5" font-size="14.8" textLength="45.0" lengthAdjust="spacingAndGlyphs">−0.006</text>
<rect x="1060.5" y="266.4" width="38.5" height="13.7" fill="#fff"/>
<text x="1061.5" y="278.5" font-size="14.8" textLength="36.5" lengthAdjust="spacingAndGlyphs">0.039</text>
<rect x="1068.0" y="302.4" width="38.5" height="13.7" fill="#fff"/>
<text x="1069.0" y="314.5" font-size="14.8" textLength="36.5" lengthAdjust="spacingAndGlyphs">0.027</text>
<rect x="1124.6" y="286.9" width="38.5" height="13.7" fill="#fff"/>
<text x="1125.6" y="299.0" font-size="14.8" textLength="36.5" lengthAdjust="spacingAndGlyphs">0.033</text>
<rect x="1120.6" y="328.9" width="38.5" height="13.7" fill="#fff"/>
<text x="1121.6" y="341.1" font-size="14.8" textLength="36.5" lengthAdjust="spacingAndGlyphs">0.022</text>
<rect x="1274.2" y="194.8" width="47.0" height="13.7" fill="#fff"/>
<text x="1275.2" y="207.0" font-size="14.8" textLength="45.0" lengthAdjust="spacingAndGlyphs">−0.017</text>
<rect x="1269.2" y="226.8" width="47.0" height="13.7" fill="#fff"/>
<text x="1270.2" y="239.0" font-size="14.8" textLength="45.0" lengthAdjust="spacingAndGlyphs">−0.012</text>
<rect x="1259.7" y="256.9" width="47.0" height="13.7" fill="#fff"/>
<text x="1260.7" y="269.0" font-size="14.8" textLength="45.0" lengthAdjust="spacingAndGlyphs">−0.006</text>
<rect x="904.4" y="304.7" width="141.6" height="24" fill="#fff"/>
<rect x="911.9" y="331.2" width="125.6" height="24" fill="#fff"/>
<rect x="1177.1" y="320.2" width="148.1" height="24" fill="#fff"/>
<rect x="1225.6" y="347.3" width="54.5" height="24" fill="#fff"/>
<rect x="891.4" y="359.3" width="173.1" height="14" fill="#fff"/>
<rect x="926.9" y="377.3" width="103.1" height="15" fill="#fff"/>
<rect x="1182.1" y="369.3" width="128.1" height="14" fill="#fff"/>
<rect x="1200.6" y="387.3" width="93.1" height="15" fill="#fff"/>
<text x="905.4" y="322.7" font-size="22" textLength="139.6" lengthAdjust="spacingAndGlyphs">Compressive</text>
<text x="912.9" y="349.2" font-size="22" textLength="123.6" lengthAdjust="spacingAndGlyphs">stress zone</text>
<text x="1178.1" y="338.2" font-size="22" textLength="146.1" lengthAdjust="spacingAndGlyphs">Tensile stress</text>
<text x="1226.6" y="365.3" font-size="22" textLength="52.5" lengthAdjust="spacingAndGlyphs">zone</text>
<text x="892.4" y="370.3" font-size="14.5" textLength="171.1" lengthAdjust="spacingAndGlyphs" fill="#cf0f1a">Max compressive stress</text>
<text x="927.9" y="388.3" font-size="14.5" textLength="101.1" lengthAdjust="spacingAndGlyphs" font-style="italic" fill="#cf0f1a">σ<tspan font-size="9.0" dy="3.6">x</tspan><tspan dy="-3.6">d</tspan><tspan font-size="9.0" dy="-5.2">2</tspan><tspan dy="5.2">/F</tspan><tspan font-size="9.0" dy="3.6">n</tspan><tspan dy="-3.6" font-style="normal">=−0.030</tspan></text>
<text x="1183.1" y="380.3" font-size="14.5" textLength="126.1" lengthAdjust="spacingAndGlyphs" fill="#cf0f1a">Max tensile stress</text>
<text x="1201.6" y="398.3" font-size="14.5" textLength="91.1" lengthAdjust="spacingAndGlyphs" font-style="italic" fill="#cf0f1a">σ<tspan font-size="9.0" dy="3.6">x</tspan><tspan dy="-3.6">d</tspan><tspan font-size="9.0" dy="-5.2">2</tspan><tspan dy="5.2">/F</tspan><tspan font-size="9.0" dy="3.6">n</tspan><tspan dy="-3.6" font-style="normal">=0.091</tspan></text>
<line x1="983.0" y1="299.2" x2="1001.8" y2="236.6" stroke="#000" stroke-width="4.1"/><polygon points="1008.0,216.1 1009.2,240.0 993.8,235.4" fill="#000"/>
<line x1="1226.6" y1="315.2" x2="1164.6" y2="256.4" stroke="#000" stroke-width="4.1"/><polygon points="1149.1,241.7 1170.9,251.3 1159.9,263.0" fill="#000"/>
</g>
<g id="c2">
<g transform="translate(1115.6,509.3)" clip-path="url(#clipP)">
<use href="#k2cd" filter="url(#soft)"/>
</g>
<polygon points="921.1,509.3 1115.6,588.1 1310.1,509.3" fill="#c0c0c0"/>
<polyline points="921.1,509.9 1115.6,588.7 1310.1,509.9" fill="none" stroke="#333" stroke-width="1.6" stroke-dasharray="2.2 2.2"/>
<path d="M957.2,509.3v7M957.2,746.9v-7M1036.4,509.3v7M1036.4,746.9v-7M1194.8,509.3v7M1194.8,746.9v-7M1274.0,509.3v7M1274.0,746.9v-7M877.8,548.8h7M1353.1,548.8h-7M877.8,588.3h7M1353.1,588.3h-7M877.8,627.8h7M1353.1,627.8h-7M877.8,667.3h7M1353.1,667.3h-7M877.8,706.8h7M1353.1,706.8h-7" stroke="#333" stroke-width="1.4" fill="none"/>
<path d="M877.8,509.3V746.9H1353.1V509.3" fill="none" stroke="#000" stroke-width="3.6"/>
<line x1="876.0" y1="509.3" x2="1385.6" y2="509.3" stroke="#000" stroke-width="3.8"/>
<polygon points="1397.1,509.3 1381.6,504.5 1384.6,509.3 1381.6,514.1" fill="#000"/>
<line x1="1115.6" y1="509.3" x2="1115.6" y2="762.3" stroke="#111" stroke-width="3"/>
<polygon points="1115.6,770.3 1111.4,756.3 1115.6,759.3 1119.8,756.3" fill="#000"/>
<text x="879.5" y="498.9" font-size="33" text-anchor="middle">−3</text>
<text x="958.7" y="498.9" font-size="33" text-anchor="middle">−2</text>
<text x="1037.9" y="498.9" font-size="33" text-anchor="middle">−1</text>
<text x="1115.6" y="498.9" font-size="33" text-anchor="middle">0</text>
<text x="1194.8" y="498.9" font-size="33" text-anchor="middle">1</text>
<text x="1274.0" y="498.9" font-size="33" text-anchor="middle">2</text>
<text x="1353.2" y="498.9" font-size="33" text-anchor="middle">3</text>
<text x="1375.6" y="501.4" font-size="33">Y</text>
<text x="868.0" y="519.7" font-size="33" text-anchor="end">0</text>
<text x="868.0" y="559.9" font-size="33" text-anchor="end">0.5</text>
<text x="868.0" y="600.1" font-size="33" text-anchor="end">1</text>
<text x="868.0" y="640.3" font-size="33" text-anchor="end">1.5</text>
<text x="868.0" y="680.5" font-size="33" text-anchor="end">2</text>
<text x="868.0" y="720.7" font-size="33" text-anchor="end">2.5</text>
<text x="868.0" y="760.9" font-size="33" text-anchor="end">3</text>
<text transform="translate(810.1,627.3) rotate(-90)" text-anchor="middle" font-size="34" font-style="italic">z/d</text>
<text x="1093.1" y="462.5" font-size="33" textLength="47.8" lengthAdjust="spacingAndGlyphs" font-style="italic">y/d</text>
<text x="776.3" y="465.0" font-size="33" textLength="58.5" lengthAdjust="spacingAndGlyphs">(c2)</text>
<text x="1289.2" y="462.5" font-size="33" textLength="105.1" lengthAdjust="spacingAndGlyphs" font-style="italic" fill="#0b70c3">σ<tspan font-size="20.5" dy="8.2">y</tspan><tspan dy="-8.2">d</tspan><tspan font-size="20.5" dy="-11.9">2</tspan><tspan dy="11.9">/F</tspan><tspan font-size="20.5" dy="8.2">n</tspan></text>
<text x="1080.5" y="777.7" font-size="34">Z</text>
<rect x="921.4" y="530.7" width="47.0" height="13.7" fill="#fff"/>
<text x="922.4" y="542.9" font-size="14.8" textLength="45.0" lengthAdjust="spacingAndGlyphs">−0.104</text>
<rect x="912.9" y="548.3" width="47.0" height="13.7" fill="#fff"/>
<text x="913.9" y="560.4" font-size="14.8" textLength="45.0" lengthAdjust="spacingAndGlyphs">−0.079</text>
<rect x="900.4" y="565.8" width="47.0" height="13.7" fill="#fff"/>
<text x="901.4" y="577.9" font-size="14.8" textLength="45.0" lengthAdjust="spacingAndGlyphs">−0.055</text>
<rect x="887.9" y="593.3" width="47.0" height="13.7" fill="#fff"/>
<text x="888.9" y="605.4" font-size="14.8" textLength="45.0" lengthAdjust="spacingAndGlyphs">−0.049</text>
<rect x="1020.5" y="584.8" width="37.5" height="13.7" fill="#fff"/>
<text x="1021.5" y="596.9" font-size="14.8" textLength="35.5" lengthAdjust="spacingAndGlyphs">0.119</text>
<rect x="1013.0" y="599.3" width="38.5" height="13.7" fill="#fff"/>
<text x="1014.0" y="611.4" font-size="14.8" textLength="36.5" lengthAdjust="spacingAndGlyphs">0.094</text>
<rect x="1009.0" y="616.3" width="38.5" height="13.7" fill="#fff"/>
<text x="1010.0" y="628.5" font-size="14.8" textLength="36.5" lengthAdjust="spacingAndGlyphs">0.069</text>
<rect x="980.5" y="628.8" width="38.5" height="13.7" fill="#fff"/>
<text x="981.5" y="641.0" font-size="14.8" textLength="36.5" lengthAdjust="spacingAndGlyphs">0.045</text>
<rect x="1064.0" y="650.8" width="38.5" height="13.7" fill="#fff"/>
<text x="1065.0" y="663.0" font-size="14.8" textLength="36.5" lengthAdjust="spacingAndGlyphs">0.020</text>
<rect x="1169.6" y="571.8" width="38.0" height="13.7" fill="#fff"/>
<text x="1170.6" y="583.9" font-size="14.8" textLength="36.0" lengthAdjust="spacingAndGlyphs">0.119</text>
<rect x="1191.6" y="584.8" width="38.5" height="13.7" fill="#fff"/>
<text x="1192.6" y="596.9" font-size="14.8" textLength="36.5" lengthAdjust="spacingAndGlyphs">0.094</text>
<rect x="1198.1" y="599.3" width="38.5" height="13.7" fill="#fff"/>
<text x="1199.1" y="611.4" font-size="14.8" textLength="36.5" lengthAdjust="spacingAndGlyphs">0.069</text>
<rect x="1213.1" y="616.3" width="38.5" height="13.7" fill="#fff"/>
<text x="1214.1" y="628.5" font-size="14.8" textLength="36.5" lengthAdjust="spacingAndGlyphs">0.045</text>
<rect x="1240.7" y="634.8" width="38.5" height="13.7" fill="#fff"/>
<text x="1241.7" y="647.0" font-size="14.8" textLength="36.5" lengthAdjust="spacingAndGlyphs">0.020</text>
<rect x="1269.7" y="524.7" width="47.0" height="13.7" fill="#fff"/>
<text x="1270.7" y="536.9" font-size="14.8" textLength="45.0" lengthAdjust="spacingAndGlyphs">−0.104</text>
<rect x="1284.2" y="540.8" width="47.0" height="13.7" fill="#fff"/>
<text x="1285.2" y="552.9" font-size="14.8" textLength="45.0" lengthAdjust="spacingAndGlyphs">−0.079</text>
<rect x="1284.2" y="565.8" width="47.0" height="13.7" fill="#fff"/>
<text x="1285.2" y="577.9" font-size="14.8" textLength="45.0" lengthAdjust="spacingAndGlyphs">−0.055</text>
<rect x="1289.2" y="595.8" width="47.0" height="13.7" fill="#fff"/>
<text x="1290.2" y="607.9" font-size="14.8" textLength="45.0" lengthAdjust="spacingAndGlyphs">−0.049</text>
<rect x="899.4" y="657.2" width="142.1" height="24" fill="#fff"/>
<rect x="907.9" y="683.7" width="124.6" height="24" fill="#fff"/>
<rect x="1133.1" y="652.2" width="148.6" height="24" fill="#fff"/>
<rect x="1180.6" y="679.7" width="54.5" height="24" fill="#fff"/>
<rect x="895.4" y="705.2" width="173.6" height="14" fill="#fff"/>
<rect x="931.4" y="722.7" width="102.1" height="15" fill="#fff"/>
<rect x="1152.1" y="701.7" width="129.1" height="14" fill="#fff"/>
<rect x="1170.6" y="719.2" width="94.6" height="15" fill="#fff"/>
<text x="900.4" y="675.2" font-size="22" textLength="140.1" lengthAdjust="spacingAndGlyphs">Compressive</text>
<text x="908.9" y="701.7" font-size="22" textLength="122.6" lengthAdjust="spacingAndGlyphs">stress zone</text>
<text x="1134.1" y="670.2" font-size="22" textLength="146.6" lengthAdjust="spacingAndGlyphs">Tensile stress</text>
<text x="1181.6" y="697.7" font-size="22" textLength="52.5" lengthAdjust="spacingAndGlyphs">zone</text>
<text x="896.4" y="716.2" font-size="14.5" textLength="171.6" lengthAdjust="spacingAndGlyphs" fill="#cf0f1a">Max compressive stress</text>
<text x="932.4" y="733.7" font-size="14.5" textLength="100.1" lengthAdjust="spacingAndGlyphs" font-style="italic" fill="#cf0f1a">σ<tspan font-size="9.0" dy="3.6">y</tspan><tspan dy="-3.6">d</tspan><tspan font-size="9.0" dy="-5.2">2</tspan><tspan dy="5.2">/F</tspan><tspan font-size="9.0" dy="3.6">n</tspan><tspan dy="-3.6" font-style="normal">=−0.178</tspan></text>
<text x="1153.1" y="712.7" font-size="14.5" textLength="127.1" lengthAdjust="spacingAndGlyphs" fill="#cf0f1a">Max tensile stress</text>
<text x="1171.6" y="730.2" font-size="14.5" textLength="92.6" lengthAdjust="spacingAndGlyphs" font-style="italic" fill="#cf0f1a">σ<tspan font-size="9.0" dy="3.6">y</tspan><tspan dy="-3.6">d</tspan><tspan font-size="9.0" dy="-5.2">2</tspan><tspan dy="5.2">/F</tspan><tspan font-size="9.0" dy="3.6">n</tspan><tspan dy="-3.6" font-style="normal">=0.342</tspan></text>
<line x1="960.0" y1="646.6" x2="982.1" y2="569.1" stroke="#000" stroke-width="4.1"/><polygon points="988.0,548.6 989.5,572.4 974.1,568.0" fill="#000"/>
<line x1="1157.6" y1="645.1" x2="1086.3" y2="592.8" stroke="#000" stroke-width="4.1"/><polygon points="1069.0,580.1 1091.9,587.0 1082.4,599.9" fill="#000"/>
<line x1="1175.6" y1="640.1" x2="1166.7" y2="594.6" stroke="#000" stroke-width="4.1"/><polygon points="1162.6,573.6 1174.8,594.1 1159.1,597.2" fill="#000"/>
</g>
<g id="c3">
<g transform="translate(1115.6,850.8)" clip-path="url(#clipP)">
<use href="#k3cd" filter="url(#soft)"/>
</g>
<polygon points="921.1,850.8 1115.6,929.6 1310.1,850.8" fill="#c0c0c0"/>
<polyline points="921.1,851.4 1115.6,930.2 1310.1,851.4" fill="none" stroke="#333" stroke-width="1.6" stroke-dasharray="2.2 2.2"/>
<path d="M957.2,850.8v7M957.2,1088.4v-7M1036.4,850.8v7M1036.4,1088.4v-7M1194.8,850.8v7M1194.8,1088.4v-7M1274.0,850.8v7M1274.0,1088.4v-7M877.8,890.3h7M1353.1,890.3h-7M877.8,929.8h7M1353.1,929.8h-7M877.8,969.3h7M1353.1,969.3h-7M877.8,1008.8h7M1353.1,1008.8h-7M877.8,1048.3h7M1353.1,1048.3h-7" stroke="#333" stroke-width="1.4" fill="none"/>
<path d="M877.8,850.8V1088.4H1353.1V850.8" fill="none" stroke="#000" stroke-width="3.6"/>
<line x1="876.0" y1="850.8" x2="1385.6" y2="850.8" stroke="#000" stroke-width="3.8"/>
<polygon points="1397.1,850.8 1381.6,846.0 1384.6,850.8 1381.6,855.6" fill="#000"/>
<line x1="1115.6" y1="850.8" x2="1115.6" y2="1103.8" stroke="#111" stroke-width="3"/>
<polygon points="1115.6,1111.8 1111.4,1097.8 1115.6,1100.8 1119.8,1097.8" fill="#000"/>
<text x="879.5" y="839.6" font-size="33" text-anchor="middle">−3</text>
<text x="958.7" y="839.6" font-size="33" text-anchor="middle">−2</text>
<text x="1037.9" y="839.6" font-size="33" text-anchor="middle">−1</text>
<text x="1115.6" y="839.6" font-size="33" text-anchor="middle">0</text>
<text x="1194.8" y="839.6" font-size="33" text-anchor="middle">1</text>
<text x="1274.0" y="839.6" font-size="33" text-anchor="middle">2</text>
<text x="1353.2" y="839.6" font-size="33" text-anchor="middle">3</text>
<text x="1375.6" y="842.1" font-size="33">Y</text>
<text x="868.0" y="860.2" font-size="33" text-anchor="end">0</text>
<text x="868.0" y="900.4" font-size="33" text-anchor="end">0.5</text>
<text x="868.0" y="940.6" font-size="33" text-anchor="end">1</text>
<text x="868.0" y="980.8" font-size="33" text-anchor="end">1.5</text>
<text x="868.0" y="1021.0" font-size="33" text-anchor="end">2</text>
<text x="868.0" y="1061.2" font-size="33" text-anchor="end">2.5</text>
<text x="868.0" y="1101.4" font-size="33" text-anchor="end">3</text>
<text transform="translate(810.1,968.8) rotate(-90)" text-anchor="middle" font-size="34" font-style="italic">z/d</text>
<text x="1093.1" y="810.0" font-size="33" textLength="47.8" lengthAdjust="spacingAndGlyphs" font-style="italic">y/d</text>
<text x="776.3" y="805.0" font-size="33" textLength="58.5" lengthAdjust="spacingAndGlyphs">(c3)</text>
<text x="1288.2" y="804.0" font-size="33" textLength="105.1" lengthAdjust="spacingAndGlyphs" font-style="italic" fill="#0b70c3">σ<tspan font-size="20.5" dy="8.2">z</tspan><tspan dy="-8.2">d</tspan><tspan font-size="20.5" dy="-11.9">2</tspan><tspan dy="11.9">/F</tspan><tspan font-size="20.5" dy="8.2">n</tspan></text>
<text x="1080.5" y="1118.7" font-size="34">Z</text>
<rect x="993.0" y="900.8" width="47.0" height="13.7" fill="#fff"/>
<text x="994.0" y="912.9" font-size="14.8" textLength="45.0" lengthAdjust="spacingAndGlyphs">−0.175</text>
<rect x="980.5" y="916.8" width="47.0" height="13.7" fill="#fff"/>
<text x="981.5" y="928.9" font-size="14.8" textLength="45.0" lengthAdjust="spacingAndGlyphs">−0.132</text>
<rect x="963.0" y="947.3" width="47.0" height="13.7" fill="#fff"/>
<text x="964.0" y="959.5" font-size="14.8" textLength="45.0" lengthAdjust="spacingAndGlyphs">−0.088</text>
<rect x="910.4" y="954.3" width="47.0" height="13.7" fill="#fff"/>
<text x="911.4" y="966.5" font-size="14.8" textLength="45.0" lengthAdjust="spacingAndGlyphs">−0.044</text>
<rect x="1071.5" y="937.3" width="38.5" height="13.7" fill="#fff"/>
<text x="1072.5" y="949.4" font-size="14.8" textLength="36.5" lengthAdjust="spacingAndGlyphs">0.220</text>
<rect x="1071.5" y="960.8" width="38.5" height="13.7" fill="#fff"/>
<text x="1072.5" y="973.0" font-size="14.8" textLength="36.5" lengthAdjust="spacingAndGlyphs">0.132</text>
<rect x="1069.5" y="1011.8" width="38.5" height="13.7" fill="#fff"/>
<text x="1070.5" y="1024.0" font-size="14.8" textLength="36.5" lengthAdjust="spacingAndGlyphs">0.044</text>
<rect x="1123.1" y="953.8" width="38.5" height="13.7" fill="#fff"/>
<text x="1124.1" y="966.0" font-size="14.8" textLength="36.5" lengthAdjust="spacingAndGlyphs">0.176</text>
<rect x="1128.1" y="978.3" width="38.5" height="13.7" fill="#fff"/>
<text x="1129.1" y="990.5" font-size="14.8" textLength="36.5" lengthAdjust="spacingAndGlyphs">0.088</text>
<rect x="1194.1" y="900.8" width="47.0" height="13.7" fill="#fff"/>
<text x="1195.1" y="912.9" font-size="14.8" textLength="45.0" lengthAdjust="spacingAndGlyphs">−0.175</text>
<rect x="1201.6" y="916.8" width="47.0" height="13.7" fill="#fff"/>
<text x="1202.6" y="928.9" font-size="14.8" textLength="45.0" lengthAdjust="spacingAndGlyphs">−0.132</text>
<rect x="1221.6" y="939.3" width="47.0" height="13.7" fill="#fff"/>
<text x="1222.6" y="951.4" font-size="14.8" textLength="45.0" lengthAdjust="spacingAndGlyphs">−0.088</text>
<rect x="1267.2" y="954.8" width="47.0" height="13.7" fill="#fff"/>
<text x="1268.2" y="967.0" font-size="14.8" textLength="45.0" lengthAdjust="spacingAndGlyphs">−0.044</text>
<rect x="927.9" y="990.7" width="142.1" height="24" fill="#fff"/>
<rect x="936.9" y="1017.2" width="124.1" height="24" fill="#fff"/>
<rect x="1160.6" y="997.2" width="148.6" height="24" fill="#fff"/>
<rect x="1209.6" y="1024.7" width="54.0" height="24" fill="#fff"/>
<rect x="908.9" y="1046.7" width="173.6" height="14" fill="#fff"/>
<rect x="944.5" y="1064.2" width="102.1" height="15" fill="#fff"/>
<rect x="1178.1" y="1046.7" width="127.1" height="14" fill="#fff"/>
<rect x="1195.6" y="1064.2" width="93.6" height="15" fill="#fff"/>
<text x="928.9" y="1008.7" font-size="22" textLength="140.1" lengthAdjust="spacingAndGlyphs">Compressive</text>
<text x="937.9" y="1035.2" font-size="22" textLength="122.1" lengthAdjust="spacingAndGlyphs">stress zone</text>
<text x="1161.6" y="1015.2" font-size="22" textLength="146.6" lengthAdjust="spacingAndGlyphs">Tensile stress</text>
<text x="1210.6" y="1042.7" font-size="22" textLength="52.0" lengthAdjust="spacingAndGlyphs">zone</text>
<text x="909.9" y="1057.7" font-size="14.5" textLength="171.6" lengthAdjust="spacingAndGlyphs" fill="#cf0f1a">Max compressive stress</text>
<text x="945.5" y="1075.2" font-size="14.5" textLength="100.1" lengthAdjust="spacingAndGlyphs" font-style="italic" fill="#cf0f1a">σ<tspan font-size="9.0" dy="3.6">z</tspan><tspan dy="-3.6">d</tspan><tspan font-size="9.0" dy="-5.2">2</tspan><tspan dy="5.2">/F</tspan><tspan font-size="9.0" dy="3.6">n</tspan><tspan dy="-3.6" font-style="normal">=−0.351</tspan></text>
<text x="1179.1" y="1057.7" font-size="14.5" textLength="125.1" lengthAdjust="spacingAndGlyphs" fill="#cf0f1a">Max tensile stress</text>
<text x="1196.6" y="1075.2" font-size="14.5" textLength="91.6" lengthAdjust="spacingAndGlyphs" font-style="italic" fill="#cf0f1a">σ<tspan font-size="9.0" dy="3.6">z</tspan><tspan dy="-3.6">d</tspan><tspan font-size="9.0" dy="-5.2">2</tspan><tspan dy="5.2">/F</tspan><tspan font-size="9.0" dy="3.6">n</tspan><tspan dy="-3.6" font-style="normal">=0.572</tspan></text>
<line x1="1001.5" y1="986.1" x2="1041.6" y2="930.0" stroke="#000" stroke-width="4.1"/><polygon points="1054.0,912.6 1047.5,935.6 1034.4,926.3" fill="#000"/>
<line x1="1206.6" y1="984.1" x2="1154.3" y2="942.4" stroke="#000" stroke-width="4.1"/><polygon points="1137.6,929.1 1160.2,936.9 1150.2,949.4" fill="#000"/>
</g>
<g id="d1">
<g transform="translate(1115.6,1303.0)" clip-path="url(#clipP)">
<use href="#k1cd" filter="url(#soft)"/>
</g>
<polygon points="921.1,1303.0 1115.6,1381.8 1310.1,1303.0" fill="#c0c0c0"/>
<polyline points="921.1,1303.6 1115.6,1382.4 1310.1,1303.6" fill="none" stroke="#333" stroke-width="1.6" stroke-dasharray="2.2 2.2"/>
<path d="M957.2,1303.0v7M957.2,1540.6v-7M1036.4,1303.0v7M1036.4,1540.6v-7M1194.8,1303.0v7M1194.8,1540.6v-7M1274.0,1303.0v7M1274.0,1540.6v-7M877.8,1342.5h7M1353.1,1342.5h-7M877.8,1382.0h7M1353.1,1382.0h-7M877.8,1421.5h7M1353.1,1421.5h-7M877.8,1461.0h7M1353.1,1461.0h-7M877.8,1500.5h7M1353.1,1500.5h-7" stroke="#333" stroke-width="1.4" fill="none"/>
<path d="M877.8,1303.0V1540.6H1353.1V1303.0" fill="none" stroke="#000" stroke-width="3.6"/>
<line x1="876.0" y1="1303.0" x2="1385.6" y2="1303.0" stroke="#000" stroke-width="3.8"/>
<polygon points="1397.1,1303.0 1381.6,1298.2 1384.6,1303.0 1381.6,1307.8" fill="#000"/>
<line x1="1115.6" y1="1303.0" x2="1115.6" y2="1556.0" stroke="#111" stroke-width="3"/>
<polygon points="1115.6,1564.0 1111.4,1550.0 1115.6,1553.0 1119.8,1550.0" fill="#000"/>
<text x="879.5" y="1292.0" font-size="33" text-anchor="middle">−3</text>
<text x="958.7" y="1292.0" font-size="33" text-anchor="middle">−2</text>
<text x="1037.9" y="1292.0" font-size="33" text-anchor="middle">−1</text>
<text x="1115.6" y="1292.0" font-size="33" text-anchor="middle">0</text>
<text x="1194.8" y="1292.0" font-size="33" text-anchor="middle">1</text>
<text x="1274.0" y="1292.0" font-size="33" text-anchor="middle">2</text>
<text x="1353.2" y="1292.0" font-size="33" text-anchor="middle">3</text>
<text x="1375.6" y="1294.5" font-size="33">Y</text>
<text x="868.0" y="1312.6" font-size="33" text-anchor="end">0</text>
<text x="868.0" y="1352.8" font-size="33" text-anchor="end">0.5</text>
<text x="868.0" y="1393.0" font-size="33" text-anchor="end">1</text>
<text x="868.0" y="1433.2" font-size="33" text-anchor="end">1.5</text>
<text x="868.0" y="1473.4" font-size="33" text-anchor="end">2</text>
<text x="868.0" y="1513.6" font-size="33" text-anchor="end">2.5</text>
<text x="868.0" y="1553.8" font-size="33" text-anchor="end">3</text>
<text transform="translate(810.1,1421.0) rotate(-90)" text-anchor="middle" font-size="34" font-style="italic">z/d</text>
<text x="1093.1" y="1250.1" font-size="33" textLength="47.8" lengthAdjust="spacingAndGlyphs" font-style="italic">y/d</text>
<text x="776.3" y="1254.1" font-size="33" textLength="58.5" lengthAdjust="spacingAndGlyphs">(d1)</text>
<text x="1083.0" y="1201.0" font-size="33" text-anchor="middle">(d)</text>
<text x="1304.2" y="1252.6" font-size="33" textLength="105.1" lengthAdjust="spacingAndGlyphs" font-style="italic" fill="#0b70c3">σ<tspan font-size="20.5" dy="8.2">x</tspan><tspan dy="-8.2">d</tspan><tspan font-size="20.5" dy="-11.9">2</tspan><tspan dy="11.9">/F</tspan><tspan font-size="20.5" dy="8.2">n</tspan></text>
<rect x="911.4" y="1324.8" width="47.0" height="13.7" fill="#fff"/>
<text x="912.4" y="1337.0" font-size="14.8" textLength="45.0" lengthAdjust="spacingAndGlyphs">−0.020</text>
<rect x="897.9" y="1351.8" width="47.0" height="13.7" fill="#fff"/>
<text x="898.9" y="1364.0" font-size="14.8" textLength="45.0" lengthAdjust="spacingAndGlyphs">−0.014</text>
<rect x="892.9" y="1391.8" width="47.0" height="13.7" fill="#fff"/>
<text x="893.9" y="1404.0" font-size="14.8" textLength="45.0" lengthAdjust="spacingAndGlyphs">−0.008</text>
<rect x="1003.0" y="1420.9" width="38.5" height="13.7" fill="#fff"/>
<text x="1004.0" y="1433.0" font-size="14.8" textLength="36.5" lengthAdjust="spacingAndGlyphs">0.012</text>
<rect x="1069.0" y="1407.4" width="38.5" height="13.7" fill="#fff"/>
<text x="1070.0" y="1419.5" font-size="14.8" textLength="36.5" lengthAdjust="spacingAndGlyphs">0.037</text>
<rect x="1069.5" y="1439.9" width="38.5" height="13.7" fill="#fff"/>
<text x="1070.5" y="1452.0" font-size="14.8" textLength="36.5" lengthAdjust="spacingAndGlyphs">0.026</text>
<rect x="1067.0" y="1503.4" width="38.5" height="13.7" fill="#fff"/>
<text x="1068.0" y="1515.6" font-size="14.8" textLength="36.5" lengthAdjust="spacingAndGlyphs">0.014</text>
<rect x="1121.6" y="1424.4" width="38.5" height="13.7" fill="#fff"/>
<text x="1122.6" y="1436.5" font-size="14.8" textLength="36.5" lengthAdjust="spacingAndGlyphs">0.032</text>
<rect x="1123.1" y="1463.4" width="38.5" height="13.7" fill="#fff"/>
<text x="1124.1" y="1475.6" font-size="14.8" textLength="36.5" lengthAdjust="spacingAndGlyphs">0.021</text>
<rect x="1195.6" y="1409.4" width="38.5" height="13.7" fill="#fff"/>
<text x="1196.6" y="1421.5" font-size="14.8" textLength="36.5" lengthAdjust="spacingAndGlyphs">0.012</text>
<rect x="1266.7" y="1326.3" width="47.0" height="13.7" fill="#fff"/>
<text x="1267.7" y="1338.5" font-size="14.8" textLength="45.0" lengthAdjust="spacingAndGlyphs">−0.020</text>
<rect x="1269.7" y="1352.3" width="47.0" height="13.7" fill="#fff"/>
<text x="1270.7" y="1364.5" font-size="14.8" textLength="45.0" lengthAdjust="spacingAndGlyphs">−0.014</text>
<rect x="1271.7" y="1389.8" width="47.0" height="13.7" fill="#fff"/>
<text x="1272.7" y="1402.0" font-size="14.8" textLength="45.0" lengthAdjust="spacingAndGlyphs">−0.008</text>
<rect x="899.4" y="1434.7" width="142.1" height="24" fill="#fff"/>
<rect x="907.9" y="1461.2" width="124.6" height="24" fill="#fff"/>
<rect x="1172.1" y="1447.2" width="149.1" height="24" fill="#fff"/>
<rect x="1220.6" y="1474.7" width="54.5" height="24" fill="#fff"/>
<rect x="892.9" y="1493.3" width="173.1" height="14" fill="#fff"/>
<rect x="928.9" y="1511.8" width="102.1" height="15" fill="#fff"/>
<rect x="1186.6" y="1496.8" width="128.6" height="14" fill="#fff"/>
<rect x="1204.6" y="1515.3" width="94.1" height="15" fill="#fff"/>
<text x="900.4" y="1452.7" font-size="22" textLength="140.1" lengthAdjust="spacingAndGlyphs">Compressive</text>
<text x="908.9" y="1479.2" font-size="22" textLength="122.6" lengthAdjust="spacingAndGlyphs">stress zone</text>
<text x="1173.1" y="1465.2" font-size="22" textLength="147.1" lengthAdjust="spacingAndGlyphs">Tensile stress</text>
<text x="1221.6" y="1492.7" font-size="22" textLength="52.5" lengthAdjust="spacingAndGlyphs">zone</text>
<text x="893.9" y="1504.3" font-size="14.5" textLength="171.1" lengthAdjust="spacingAndGlyphs" fill="#cf0f1a">Max compressive stress</text>
<text x="929.9" y="1522.8" font-size="14.5" textLength="100.1" lengthAdjust="spacingAndGlyphs" font-style="italic" fill="#cf0f1a">σ<tspan font-size="9.0" dy="3.6">x</tspan><tspan dy="-3.6">d</tspan><tspan font-size="9.0" dy="-5.2">2</tspan><tspan dy="5.2">/F</tspan><tspan font-size="9.0" dy="3.6">n</tspan><tspan dy="-3.6" font-style="normal">=−0.031</tspan></text>
<text x="1187.6" y="1507.8" font-size="14.5" textLength="126.6" lengthAdjust="spacingAndGlyphs" fill="#cf0f1a">Max tensile stress</text>
<text x="1205.6" y="1526.3" font-size="14.5" textLength="92.1" lengthAdjust="spacingAndGlyphs" font-style="italic" fill="#cf0f1a">σ<tspan font-size="9.0" dy="3.6">x</tspan><tspan dy="-3.6">d</tspan><tspan font-size="9.0" dy="-5.2">2</tspan><tspan dy="5.2">/F</tspan><tspan font-size="9.0" dy="3.6">n</tspan><tspan dy="-3.6" font-style="normal">=0.089</tspan></text>
<line x1="975.0" y1="1429.2" x2="997.7" y2="1371.1" stroke="#000" stroke-width="4.1"/><polygon points="1005.5,1351.1 1004.7,1375.0 989.8,1369.2" fill="#000"/>
<line x1="1210.6" y1="1446.2" x2="1156.0" y2="1393.9" stroke="#000" stroke-width="4.1"/><polygon points="1140.6,1379.2 1162.4,1388.9 1151.3,1400.5" fill="#000"/>
</g>
<g id="d2">
<g transform="translate(1115.6,1643.5)" clip-path="url(#clipP)">
<use href="#k2cd" filter="url(#soft)"/>
</g>
<polygon points="921.1,1643.5 1115.6,1722.3 1310.1,1643.5" fill="#c0c0c0"/>
<polyline points="921.1,1644.1 1115.6,1722.9 1310.1,1644.1" fill="none" stroke="#333" stroke-width="1.6" stroke-dasharray="2.2 2.2"/>
<path d="M957.2,1643.5v7M957.2,1881.1v-7M1036.4,1643.5v7M1036.4,1881.1v-7M1194.8,1643.5v7M1194.8,1881.1v-7M1274.0,1643.5v7M1274.0,1881.1v-7M877.8,1683.0h7M1353.1,1683.0h-7M877.8,1722.5h7M1353.1,1722.5h-7M877.8,1762.0h7M1353.1,1762.0h-7M877.8,1801.5h7M1353.1,1801.5h-7M877.8,1841.0h7M1353.1,1841.0h-7" stroke="#333" stroke-width="1.4" fill="none"/>
<path d="M877.8,1643.5V1881.1H1353.1V1643.5" fill="none" stroke="#000" stroke-width="3.6"/>
<line x1="876.0" y1="1643.5" x2="1385.6" y2="1643.5" stroke="#000" stroke-width="3.8"/>
<polygon points="1397.1,1643.5 1381.6,1638.7 1384.6,1643.5 1381.6,1648.3" fill="#000"/>
<line x1="1115.6" y1="1643.5" x2="1115.6" y2="1896.5" stroke="#111" stroke-width="3"/>
<polygon points="1115.6,1904.5 1111.4,1890.5 1115.6,1893.5 1119.8,1890.5" fill="#000"/>
<text x="879.5" y="1632.0" font-size="33" text-anchor="middle">−3</text>
<text x="958.7" y="1632.0" font-size="33" text-anchor="middle">−2</text>
<text x="1037.9" y="1632.0" font-size="33" text-anchor="middle">−1</text>
<text x="1115.6" y="1632.0" font-size="33" text-anchor="middle">0</text>
<text x="1194.8" y="1632.0" font-size="33" text-anchor="middle">1</text>
<text x="1274.0" y="1632.0" font-size="33" text-anchor="middle">2</text>
<text x="1353.2" y="1632.0" font-size="33" text-anchor="middle">3</text>
<text x="1375.6" y="1634.5" font-size="33">Y</text>
<text x="868.0" y="1652.6" font-size="33" text-anchor="end">0</text>
<text x="868.0" y="1692.8" font-size="33" text-anchor="end">0.5</text>
<text x="868.0" y="1733.0" font-size="33" text-anchor="end">1</text>
<text x="868.0" y="1773.2" font-size="33" text-anchor="end">1.5</text>
<text x="868.0" y="1813.4" font-size="33" text-anchor="end">2</text>
<text x="868.0" y="1853.6" font-size="33" text-anchor="end">2.5</text>
<text x="868.0" y="1893.8" font-size="33" text-anchor="end">3</text>
<text transform="translate(810.1,1761.5) rotate(-90)" text-anchor="middle" font-size="34" font-style="italic">z/d</text>
<text x="1093.1" y="1590.0" font-size="33" textLength="47.8" lengthAdjust="spacingAndGlyphs" font-style="italic">y/d</text>
<text x="776.3" y="1595.0" font-size="33" textLength="58.5" lengthAdjust="spacingAndGlyphs">(d2)</text>
<text x="1300.7" y="1591.0" font-size="33" textLength="106.1" lengthAdjust="spacingAndGlyphs" font-style="italic" fill="#0b70c3">σ<tspan font-size="20.5" dy="8.2">x</tspan><tspan dy="-8.2">d</tspan><tspan font-size="20.5" dy="-11.9">2</tspan><tspan dy="11.9">/F</tspan><tspan font-size="20.5" dy="8.2">n</tspan></text>
<text x="1082.5" y="1908.7" font-size="34">Z</text>
<rect x="914.4" y="1661.7" width="47.0" height="13.7" fill="#fff"/>
<text x="915.4" y="1673.9" font-size="14.8" textLength="45.0" lengthAdjust="spacingAndGlyphs">−0.110</text>
<rect x="910.4" y="1677.3" width="47.0" height="13.7" fill="#fff"/>
<text x="911.4" y="1689.4" font-size="14.8" textLength="45.0" lengthAdjust="spacingAndGlyphs">−0.086</text>
<rect x="900.4" y="1700.3" width="47.0" height="13.7" fill="#fff"/>
<text x="901.4" y="1712.4" font-size="14.8" textLength="45.0" lengthAdjust="spacingAndGlyphs">−0.061</text>
<rect x="896.4" y="1727.3" width="47.0" height="13.7" fill="#fff"/>
<text x="897.4" y="1739.4" font-size="14.8" textLength="45.0" lengthAdjust="spacingAndGlyphs">−0.036</text>
<rect x="1023.0" y="1719.3" width="38.0" height="13.7" fill="#fff"/>
<text x="1024.0" y="1731.4" font-size="14.8" textLength="36.0" lengthAdjust="spacingAndGlyphs">0.114</text>
<rect x="1018.0" y="1736.8" width="38.5" height="13.7" fill="#fff"/>
<text x="1019.0" y="1749.0" font-size="14.8" textLength="36.5" lengthAdjust="spacingAndGlyphs">0.089</text>
<rect x="1009.0" y="1751.8" width="38.5" height="13.7" fill="#fff"/>
<text x="1010.0" y="1764.0" font-size="14.8" textLength="36.5" lengthAdjust="spacingAndGlyphs">0.064</text>
<rect x="987.0" y="1771.8" width="38.5" height="13.7" fill="#fff"/>
<text x="988.0" y="1784.0" font-size="14.8" textLength="36.5" lengthAdjust="spacingAndGlyphs">0.039</text>
<rect x="1069.5" y="1783.3" width="38.5" height="13.7" fill="#fff"/>
<text x="1070.5" y="1795.5" font-size="14.8" textLength="36.5" lengthAdjust="spacingAndGlyphs">0.014</text>
<rect x="1179.1" y="1709.3" width="38.0" height="13.7" fill="#fff"/>
<text x="1180.1" y="1721.4" font-size="14.8" textLength="36.0" lengthAdjust="spacingAndGlyphs">0.114</text>
<rect x="1180.6" y="1731.3" width="38.5" height="13.7" fill="#fff"/>
<text x="1181.6" y="1743.5" font-size="14.8" textLength="36.5" lengthAdjust="spacingAndGlyphs">0.089</text>
<rect x="1186.6" y="1748.3" width="38.5" height="13.7" fill="#fff"/>
<text x="1187.6" y="1760.5" font-size="14.8" textLength="36.5" lengthAdjust="spacingAndGlyphs">0.064</text>
<rect x="1207.1" y="1764.8" width="38.5" height="13.7" fill="#fff"/>
<text x="1208.1" y="1777.0" font-size="14.8" textLength="36.5" lengthAdjust="spacingAndGlyphs">0.039</text>
<rect x="1250.7" y="1774.8" width="38.5" height="13.7" fill="#fff"/>
<text x="1251.7" y="1787.0" font-size="14.8" textLength="36.5" lengthAdjust="spacingAndGlyphs">0.014</text>
<rect x="1264.7" y="1660.7" width="47.0" height="13.7" fill="#fff"/>
<text x="1265.7" y="1672.9" font-size="14.8" textLength="45.0" lengthAdjust="spacingAndGlyphs">−0.110</text>
<rect x="1275.7" y="1678.3" width="47.0" height="13.7" fill="#fff"/>
<text x="1276.7" y="1690.4" font-size="14.8" textLength="45.0" lengthAdjust="spacingAndGlyphs">−0.086</text>
<rect x="1274.2" y="1699.3" width="47.0" height="13.7" fill="#fff"/>
<text x="1275.2" y="1711.4" font-size="14.8" textLength="45.0" lengthAdjust="spacingAndGlyphs">−0.061</text>
<rect x="1278.2" y="1723.3" width="47.0" height="13.7" fill="#fff"/>
<text x="1279.2" y="1735.4" font-size="14.8" textLength="45.0" lengthAdjust="spacingAndGlyphs">−0.036</text>
<rect x="896.4" y="1790.7" width="141.1" height="24" fill="#fff"/>
<rect x="904.4" y="1817.2" width="124.6" height="24" fill="#fff"/>
<rect x="1144.6" y="1786.2" width="149.1" height="24" fill="#fff"/>
<rect x="1194.1" y="1813.2" width="53.5" height="24" fill="#fff"/>
<rect x="892.9" y="1841.7" width="173.6" height="14" fill="#fff"/>
<rect x="928.9" y="1859.2" width="102.1" height="15" fill="#fff"/>
<rect x="1159.1" y="1841.7" width="128.6" height="14" fill="#fff"/>
<rect x="1178.1" y="1859.2" width="93.6" height="15" fill="#fff"/>
<text x="897.4" y="1808.7" font-size="22" textLength="139.1" lengthAdjust="spacingAndGlyphs">Compressive</text>
<text x="905.4" y="1835.2" font-size="22" textLength="122.6" lengthAdjust="spacingAndGlyphs">stress zone</text>
<text x="1145.6" y="1804.2" font-size="22" textLength="147.1" lengthAdjust="spacingAndGlyphs">Tensile stress</text>
<text x="1195.1" y="1831.2" font-size="22" textLength="51.5" lengthAdjust="spacingAndGlyphs">zone</text>
<text x="893.9" y="1852.7" font-size="14.5" textLength="171.6" lengthAdjust="spacingAndGlyphs" fill="#cf0f1a">Max compressive stress</text>
<text x="929.9" y="1870.2" font-size="14.5" textLength="100.1" lengthAdjust="spacingAndGlyphs" font-style="italic" fill="#cf0f1a">σ<tspan font-size="9.0" dy="3.6">y</tspan><tspan dy="-3.6">d</tspan><tspan font-size="9.0" dy="-5.2">2</tspan><tspan dy="5.2">/F</tspan><tspan font-size="9.0" dy="3.6">n</tspan><tspan dy="-3.6" font-style="normal">=−0.185</tspan></text>
<text x="1160.1" y="1852.7" font-size="14.5" textLength="126.6" lengthAdjust="spacingAndGlyphs" fill="#cf0f1a">Max tensile stress</text>
<text x="1179.1" y="1870.2" font-size="14.5" textLength="91.6" lengthAdjust="spacingAndGlyphs" font-style="italic" fill="#cf0f1a">σ<tspan font-size="9.0" dy="3.6">y</tspan><tspan dy="-3.6">d</tspan><tspan font-size="9.0" dy="-5.2">2</tspan><tspan dy="5.2">/F</tspan><tspan font-size="9.0" dy="3.6">n</tspan><tspan dy="-3.6" font-style="normal">=0.338</tspan></text>
<line x1="957.5" y1="1786.2" x2="1000.1" y2="1704.1" stroke="#000" stroke-width="4.1"/><polygon points="1010.0,1685.1 1006.7,1708.7 992.5,1701.4" fill="#000"/>
<line x1="1162.6" y1="1785.2" x2="1087.7" y2="1720.1" stroke="#000" stroke-width="4.1"/><polygon points="1071.5,1706.1 1093.8,1714.8 1083.3,1726.9" fill="#000"/>
<line x1="1189.1" y1="1785.2" x2="1169.3" y2="1725.4" stroke="#000" stroke-width="4.1"/><polygon points="1162.6,1705.1 1177.3,1723.9 1162.1,1729.0" fill="#000"/>
</g>
<g id="d3">
<g transform="translate(1115.6,1983.7)" clip-path="url(#clipP)">
<use href="#k3cd" filter="url(#soft)"/>
<g fill="none" stroke-linecap="round" opacity="0.85"><path d="M-245,37.5C-215,29 -190,22 -158,14M245,37.5C215,29 190,22 158,14" stroke="#44e2ca" stroke-width="1.9"/></g>
</g>
<polygon points="921.1,1983.7 1115.6,2062.5 1310.1,1983.7" fill="#c0c0c0"/>
<polyline points="921.1,1984.3 1115.6,2063.1 1310.1,1984.3" fill="none" stroke="#333" stroke-width="1.6" stroke-dasharray="2.2 2.2"/>
<path d="M957.2,1983.7v7M957.2,2221.3v-7M1036.4,1983.7v7M1036.4,2221.3v-7M1194.8,1983.7v7M1194.8,2221.3v-7M1274.0,1983.7v7M1274.0,2221.3v-7M877.8,2023.2h7M1353.1,2023.2h-7M877.8,2062.7h7M1353.1,2062.7h-7M877.8,2102.2h7M1353.1,2102.2h-7M877.8,2141.7h7M1353.1,2141.7h-7M877.8,2181.2h7M1353.1,2181.2h-7" stroke="#333" stroke-width="1.4" fill="none"/>
<path d="M877.8,1983.7V2221.3H1353.1V1983.7" fill="none" stroke="#000" stroke-width="3.6"/>
<line x1="876.0" y1="1983.7" x2="1385.6" y2="1983.7" stroke="#000" stroke-width="3.8"/>
<polygon points="1397.1,1983.7 1381.6,1978.9 1384.6,1983.7 1381.6,1988.5" fill="#000"/>
<line x1="1115.6" y1="1983.7" x2="1115.6" y2="2236.7" stroke="#111" stroke-width="3"/>
<polygon points="1115.6,2244.7 1111.4,2230.7 1115.6,2233.7 1119.8,2230.7" fill="#000"/>
<text x="879.5" y="1972.4" font-size="33" text-anchor="middle">−3</text>
<text x="958.7" y="1972.4" font-size="33" text-anchor="middle">−2</text>
<text x="1037.9" y="1972.4" font-size="33" text-anchor="middle">−1</text>
<text x="1115.6" y="1972.4" font-size="33" text-anchor="middle">0</text>
<text x="1194.8" y="1972.4" font-size="33" text-anchor="middle">1</text>
<text x="1274.0" y="1972.4" font-size="33" text-anchor="middle">2</text>
<text x="1353.2" y="1972.4" font-size="33" text-anchor="middle">3</text>
<text x="1375.6" y="1974.9" font-size="33">Y</text>
<text x="868.0" y="1993.3" font-size="33" text-anchor="end">0</text>
<text x="868.0" y="2033.5" font-size="33" text-anchor="end">0.5</text>
<text x="868.0" y="2073.7" font-size="33" text-anchor="end">1</text>
<text x="868.0" y="2113.9" font-size="33" text-anchor="end">1.5</text>
<text x="868.0" y="2154.1" font-size="33" text-anchor="end">2</text>
<text x="868.0" y="2194.3" font-size="33" text-anchor="end">2.5</text>
<text x="868.0" y="2234.5" font-size="33" text-anchor="end">3</text>
<text transform="translate(810.1,2101.7) rotate(-90)" text-anchor="middle" font-size="34" font-style="italic">z/d</text>
<text x="1093.1" y="1929.0" font-size="33" textLength="47.8" lengthAdjust="spacingAndGlyphs" font-style="italic">y/d</text>
<text x="774.8" y="1935.0" font-size="33" textLength="58.5" lengthAdjust="spacingAndGlyphs">(d3)</text>
<text x="1289.2" y="1935.0" font-size="33" textLength="105.1" lengthAdjust="spacingAndGlyphs" font-style="italic" fill="#0b70c3">σ<tspan font-size="20.5" dy="8.2">z</tspan><tspan dy="-8.2">d</tspan><tspan font-size="20.5" dy="-11.9">2</tspan><tspan dy="11.9">/F</tspan><tspan font-size="20.5" dy="8.2">n</tspan></text>
<text x="1080.5" y="2252.7" font-size="34">Z</text>
<rect x="994.0" y="2036.8" width="47.0" height="13.7" fill="#fff"/>
<text x="995.0" y="2048.9" font-size="14.8" textLength="45.0" lengthAdjust="spacingAndGlyphs">−0.191</text>
<rect x="977.0" y="2052.3" width="47.0" height="13.7" fill="#fff"/>
<text x="978.0" y="2064.4" font-size="14.8" textLength="45.0" lengthAdjust="spacingAndGlyphs">−0.148</text>
<rect x="961.5" y="2069.3" width="47.0" height="13.7" fill="#fff"/>
<text x="962.5" y="2081.4" font-size="14.8" textLength="45.0" lengthAdjust="spacingAndGlyphs">−0.104</text>
<rect x="913.9" y="2096.8" width="47.0" height="13.7" fill="#fff"/>
<text x="914.9" y="2109.0" font-size="14.8" textLength="45.0" lengthAdjust="spacingAndGlyphs">−0.061</text>
<rect x="1074.0" y="2077.3" width="38.5" height="13.7" fill="#fff"/>
<text x="1075.0" y="2089.5" font-size="14.8" textLength="36.5" lengthAdjust="spacingAndGlyphs">0.199</text>
<rect x="1071.5" y="2099.3" width="38.5" height="13.7" fill="#fff"/>
<text x="1072.5" y="2111.5" font-size="14.8" textLength="36.5" lengthAdjust="spacingAndGlyphs">0.112</text>
<rect x="1069.0" y="2150.8" width="38.5" height="13.7" fill="#fff"/>
<text x="1070.0" y="2163.0" font-size="14.8" textLength="36.5" lengthAdjust="spacingAndGlyphs">0.025</text>
<rect x="1120.6" y="2088.3" width="38.5" height="13.7" fill="#fff"/>
<text x="1121.6" y="2100.5" font-size="14.8" textLength="36.5" lengthAdjust="spacingAndGlyphs">0.155</text>
<rect x="1121.6" y="2115.8" width="38.5" height="13.7" fill="#fff"/>
<text x="1122.6" y="2128.0" font-size="14.8" textLength="36.5" lengthAdjust="spacingAndGlyphs">0.068</text>
<rect x="1183.1" y="2043.3" width="47.0" height="13.7" fill="#fff"/>
<text x="1184.1" y="2055.4" font-size="14.8" textLength="45.0" lengthAdjust="spacingAndGlyphs">−0.191</text>
<rect x="1198.1" y="2059.8" width="47.0" height="13.7" fill="#fff"/>
<text x="1199.1" y="2071.9" font-size="14.8" textLength="45.0" lengthAdjust="spacingAndGlyphs">−0.148</text>
<rect x="1218.1" y="2073.3" width="47.0" height="13.7" fill="#fff"/>
<text x="1219.1" y="2085.5" font-size="14.8" textLength="45.0" lengthAdjust="spacingAndGlyphs">−0.104</text>
<rect x="1265.7" y="2083.3" width="47.0" height="13.7" fill="#fff"/>
<text x="1266.7" y="2095.5" font-size="14.8" textLength="45.0" lengthAdjust="spacingAndGlyphs">−0.061</text>
<rect x="913.9" y="2129.7" width="141.1" height="24" fill="#fff"/>
<rect x="921.9" y="2156.2" width="124.1" height="24" fill="#fff"/>
<rect x="1185.6" y="2129.7" width="148.6" height="24" fill="#fff"/>
<rect x="1234.7" y="2157.2" width="54.0" height="24" fill="#fff"/>
<rect x="899.4" y="2181.7" width="173.1" height="14" fill="#fff"/>
<rect x="935.4" y="2199.2" width="102.1" height="15" fill="#fff"/>
<rect x="1195.6" y="2181.7" width="128.1" height="14" fill="#fff"/>
<rect x="1214.1" y="2199.2" width="93.6" height="15" fill="#fff"/>
<text x="914.9" y="2147.7" font-size="22" textLength="139.1" lengthAdjust="spacingAndGlyphs">Compressive</text>
<text x="922.9" y="2174.2" font-size="22" textLength="122.1" lengthAdjust="spacingAndGlyphs">stress zone</text>
<text x="1186.6" y="2147.7" font-size="22" textLength="146.6" lengthAdjust="spacingAndGlyphs">Tensile stress</text>
<text x="1235.7" y="2175.2" font-size="22" textLength="52.0" lengthAdjust="spacingAndGlyphs">zone</text>
<text x="900.4" y="2192.7" font-size="14.5" textLength="171.1" lengthAdjust="spacingAndGlyphs" fill="#cf0f1a">Max compressive stress</text>
<text x="936.4" y="2210.2" font-size="14.5" textLength="100.1" lengthAdjust="spacingAndGlyphs" font-style="italic" fill="#cf0f1a">σ<tspan font-size="9.0" dy="3.6">y</tspan><tspan dy="-3.6">d</tspan><tspan font-size="9.0" dy="-5.2">2</tspan><tspan dy="5.2">/F</tspan><tspan font-size="9.0" dy="3.6">n</tspan><tspan dy="-3.6" font-style="normal">=−0.354</tspan></text>
<text x="1196.6" y="2192.7" font-size="14.5" textLength="126.1" lengthAdjust="spacingAndGlyphs" fill="#cf0f1a">Max tensile stress</text>
<text x="1215.1" y="2210.2" font-size="14.5" textLength="91.6" lengthAdjust="spacingAndGlyphs" font-style="italic" fill="#cf0f1a">σ<tspan font-size="9.0" dy="3.6">y</tspan><tspan dy="-3.6">d</tspan><tspan font-size="9.0" dy="-5.2">2</tspan><tspan dy="5.2">/F</tspan><tspan font-size="9.0" dy="3.6">n</tspan><tspan dy="-3.6" font-style="normal">=0.566</tspan></text>
<line x1="985.0" y1="2121.7" x2="1033.9" y2="2066.1" stroke="#000" stroke-width="4.1"/><polygon points="1048.0,2050.1 1039.1,2072.3 1027.1,2061.7" fill="#000"/>
<line x1="1284.2" y1="2127.7" x2="1157.1" y2="2070.4" stroke="#000" stroke-width="4.1"/><polygon points="1137.6,2061.6 1161.4,2063.6 1154.8,2078.1" fill="#000"/>
</g>
<defs><linearGradient id="jet" x1="0" x2="1" y1="0" y2="0"><stop offset="0.00" stop-color="#0000b4"/><stop offset="0.05" stop-color="#0000b3"/><stop offset="0.10" stop-color="#0000e6"/><stop offset="0.15" stop-color="#001aff"/><stop offset="0.20" stop-color="#004dff"/><stop offset="0.25" stop-color="#0080ff"/><stop offset="0.30" stop-color="#00b3ff"/><stop offset="0.35" stop-color="#00e5ff"/><stop offset="0.40" stop-color="#1affe5"/><stop offset="0.45" stop-color="#4dffb3"/><stop offset="0.50" stop-color="#80ff80"/><stop offset="0.55" stop-color="#b3ff4c"/><stop offset="0.60" stop-color="#e5ff1a"/><stop offset="0.65" stop-color="#ffe500"/><stop offset="0.70" stop-color="#ffb300"/><stop offset="0.75" stop-color="#ff8000"/><stop offset="0.80" stop-color="#ff4c00"/><stop offset="0.85" stop-color="#ff1a00"/><stop offset="0.90" stop-color="#e50000"/><stop offset="0.95" stop-color="#b30000"/><stop offset="1.00" stop-color="#800000"/></linearGradient></defs>
<rect x="322.0" y="2353.0" width="874.5" height="62.5" fill="url(#jet)" stroke="#111" stroke-width="3"/>
<text x="325.5" y="2448.5" font-size="33" text-anchor="middle">−0.4</text>
<line x1="496.9" y1="2415.5" x2="496.9" y2="2397.5" stroke="#111" stroke-width="3.2"/>
<text x="497.5" y="2448.5" font-size="33" text-anchor="middle">−0.2</text>
<line x1="671.8" y1="2415.5" x2="671.8" y2="2397.5" stroke="#111" stroke-width="3.2"/>
<text x="671.0" y="2448.5" font-size="33" text-anchor="middle">0</text>
<line x1="846.7" y1="2415.5" x2="846.7" y2="2397.5" stroke="#111" stroke-width="3.2"/>
<text x="843.7" y="2448.5" font-size="33" text-anchor="middle">0.2</text>
<line x1="1021.6" y1="2415.5" x2="1021.6" y2="2397.5" stroke="#111" stroke-width="3.2"/>
<text x="1017.0" y="2448.5" font-size="33" text-anchor="middle">0.4</text>
<text x="1188.7" y="2448.5" font-size="33" text-anchor="middle">0.6</text>
<text x="742.5" y="2329.8" font-size="31" text-anchor="middle" font-style="italic">σ<tspan>d</tspan><tspan font-size="19.2" dy="-11.2">2</tspan><tspan dy="11.2">/F</tspan><tspan font-size="19.2" dy="7.8">n</tspan></text>
<text x="139.5" y="2370.0" font-size="33" text-anchor="middle" textLength="211.0" lengthAdjust="spacingAndGlyphs">Compressive</text>
<text x="139.0" y="2410.0" font-size="33" text-anchor="middle">stress</text>
<text x="1337.0" y="2371.5" font-size="33" text-anchor="middle">Tensile</text>
<text x="1336.0" y="2412.0" font-size="33" text-anchor="middle">stress</text>
</svg></body></html>
